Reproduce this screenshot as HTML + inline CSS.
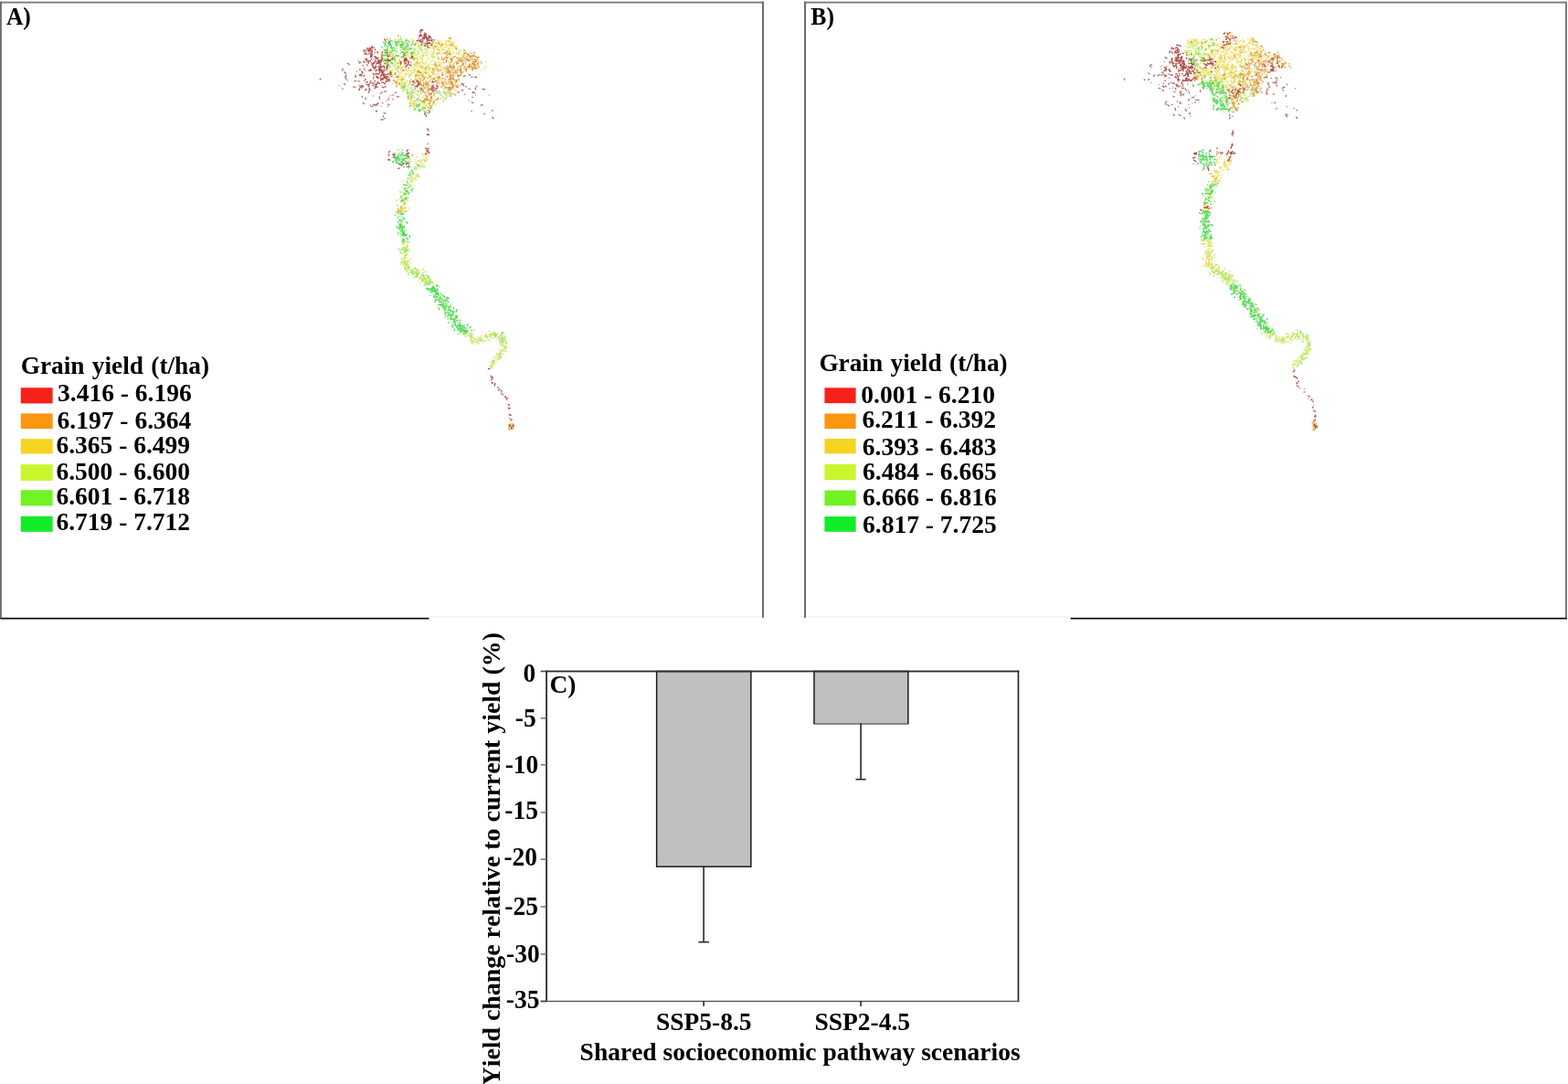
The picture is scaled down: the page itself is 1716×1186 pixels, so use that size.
<!DOCTYPE html>
<html lang="en">
<head>
<meta charset="utf-8">
<title>Grain yield maps and yield change under SSP scenarios</title>
<style>
html,body{margin:0;padding:0;background:#fff;}
body{width:1716px;height:1186px;overflow:hidden;position:relative;}
svg{display:block;position:absolute;left:0;top:0;}
text{font-family:'Liberation Serif', 'Times New Roman', serif;font-weight:bold;fill:#000;font-kerning:none;}
</style>
</head>
<body>
<svg width="1716" height="1186" viewBox="0 0 1716 1186">
<rect x="0" y="0" width="1716" height="1186" fill="#ffffff"/>
<defs><filter id="sf" x="-5%" y="-5%" width="110%" height="110%"><feGaussianBlur stdDeviation="0.5"/></filter></defs>
<g filter="url(#sf)" fill="none" stroke-linecap="round" stroke-width="1.4">
<path stroke="#ecd534" stroke-opacity="0.64" d="M476.7 82.4h0M459.9 72.5l-2.2 1.0M457.2 103.4h0M493.7 60.7l1.2 2.1M435.0 43.9h0M461.3 111.6l-1.0 0.0M461.9 116.5l1.2 1.4M510.0 57.7l-0.7 0.7M492.0 54.6h0M472.1 84.9l1.3 0.5M446.8 79.6l0.2 2.4M441.9 71.7l-0.7 0.7M463.1 113.4l0.5 1.3M438.5 95.3l1.1 1.4M439.8 43.5l0.5 0.3M492.9 47.5h0M449.5 110.0l0.6 0.1M440.8 80.9h0M437.6 87.7l0.9 0.4M471.9 82.6l-1.9 1.4M454.9 119.9l-2.4 0.2M429.7 64.3l-0.3 1.8M492.5 61.2l-1.6 0.8M444.8 62.0l-1.7 0.6M472.7 80.3l2.2 1.0M465.0 56.5l1.4 1.9M473.4 77.6l0.4 0.4M451.9 116.7l1.8 1.6M456.1 112.5l-0.5 0.4M474.7 58.6l-2.4 0.4M461.1 85.8l-2.3 0.8M430.8 61.9l1.1 0.9M494.7 53.8l0.9 0.4M501.0 71.1l0.1 0.6M486.9 78.1l-0.1 1.0M477.4 85.7l-1.4 1.2M502.7 87.5l-0.8 0.6M429.7 78.4l-1.2 0.7M450.8 113.9l-1.4 0.1M466.6 67.3l0.1 1.4M440.9 83.1l-1.2 2.1M451.6 65.9l0.5 0.4M438.0 58.2l0.6 0.2M488.4 59.5l-0.5 0.3M469.9 70.0l-0.2 0.6M418.7 61.1h0M475.5 57.5h0M514.3 56.3h0M467.3 99.2h0M457.8 101.3h0M428.3 61.2h0M486.2 64.0l-0.5 1.3M460.3 79.6l0.3 0.9M435.5 61.0l-1.0 0.3M509.7 63.4l-1.4 0.0M469.2 75.6l0.9 2.2M437.0 90.7l-0.7 1.2M459.7 82.2l-0.1 1.8M490.2 61.6h0M482.3 58.5l0.9 1.1M499.4 50.7l1.2 2.1M449.9 98.4l-0.6 2.3M468.1 76.9h0M481.8 91.1h0M460.4 79.4l0.3 0.5M489.3 48.8l-2.4 0.2M465.0 118.9l1.1 0.9M485.0 89.4l-0.3 0.9M485.6 109.8h0M443.1 81.0l1.5 1.0M457.9 69.0h0M496.5 68.4l0.1 1.0M454.0 115.6l-0.9 0.4M453.6 110.9h0M468.8 75.5l2.4 0.0M466.3 115.1l-1.4 1.9M456.7 85.6l0.0 0.6M472.0 70.9h0M483.3 62.0h0M477.1 74.1l1.4 1.1M469.3 109.0l1.1 2.1M452.5 114.3l0.3 2.4M443.3 84.3h0M474.0 51.5l-0.6 0.8M465.8 75.7l0.4 0.9M496.1 79.1l-1.3 0.6M455.7 75.3h0M436.4 68.4l0.5 0.9M491.8 73.0h0M469.0 112.7l-1.6 1.8M459.5 83.1l2.3 0.8M474.8 61.5h0M517.7 66.7l-0.9 0.3M444.0 76.5l1.1 0.9M496.6 57.1h0M475.2 108.4l1.0 1.5M435.1 91.2l-0.4 0.4M488.1 47.3l0.5 1.3M474.2 56.7l0.6 0.8M501.8 62.9l-1.4 1.2M429.2 76.8l0.6 0.2M483.7 56.5l-0.0 0.6M475.9 46.2l2.2 0.9M497.4 96.9l-0.3 1.8M465.7 108.0l0.5 0.4M494.3 73.7l-1.0 0.1M479.6 73.3h0M468.2 62.7h0M491.6 45.1l1.5 1.9M484.3 52.1l-0.9 0.4M488.4 58.7l1.0 0.9M452.3 61.7l-0.7 0.7M490.7 47.3h0M430.8 81.0h0M453.8 63.3h0M491.7 68.6l-1.0 0.3M427.8 77.6l-1.4 0.3M470.2 74.2l-0.5 0.3M454.7 109.4l-0.5 0.9M491.5 48.2h0M447.0 80.9h0M479.6 53.4l0.2 1.4M439.8 83.6l-2.0 1.4M468.8 88.4l-0.6 0.0M468.6 75.0l1.0 0.2M457.8 104.7l1.6 0.9M453.1 76.2l-0.1 1.8M424.4 55.9l0.0 0.6M488.2 56.5l2.4 0.1M427.2 52.7l0.9 0.4M435.0 91.3l-1.7 0.6M468.0 71.2h0M481.7 58.4h0M451.5 109.4h0M449.4 112.9l1.0 1.0M493.7 83.0l-1.0 0.9M506.6 67.0l-0.0 0.6M433.7 62.5h0M439.8 78.5l-1.4 2.0M506.1 62.1l1.4 2.0M495.9 50.3l-1.0 1.0M507.6 70.0l-0.5 2.3M461.2 43.9h0M432.6 59.2h0M480.1 67.9l-1.0 1.0M449.1 80.6h0M452.9 71.9h0M456.7 115.9l1.6 0.9M464.2 117.6l-0.6 0.1M456.6 63.0l-2.1 1.1M456.5 63.3l-0.1 1.4M448.9 81.7l-0.5 0.3M449.7 86.7l0.6 1.2M445.2 57.4l-0.6 0.2M492.0 48.6l-2.0 1.3M437.6 90.7l-0.4 2.4M453.2 57.6l0.3 1.0M462.7 69.0l-0.5 0.3M500.0 100.4h0M457.5 56.9l1.2 2.1M488.8 97.0l0.9 0.5M458.4 79.3l-1.0 0.1M427.2 81.8l-0.6 0.1M463.6 50.5l0.8 0.6M487.3 81.5l-0.0 0.6M463.2 115.9l-0.5 0.8M503.7 65.4l-0.4 0.4M484.5 91.8l1.6 0.8M441.6 48.4h0M454.7 115.1l-1.1 1.4M473.1 74.9l0.0 2.4M476.3 62.3h0M450.8 79.5l0.6 0.0M486.4 76.9l-0.3 1.0M460.0 111.0l1.5 1.0M491.1 53.6l-0.9 0.4M487.1 58.0l0.8 1.6M505.5 63.9h0M452.5 105.7h0M493.7 66.0l2.0 1.3M456.3 110.8h0M484.8 58.6l1.8 0.1M463.5 111.0h0M459.4 70.4l-2.4 0.2M431.0 87.1l0.3 0.5M479.6 62.0l-0.6 0.0M519.9 72.8l-1.3 1.2M497.4 50.1l0.8 1.2M467.7 55.1l0.4 0.9M465.8 92.2l1.8 0.2M465.3 69.7l-1.8 0.2M487.7 90.3l0.9 0.4M489.5 66.0h0M488.3 44.0h0M495.2 90.2l0.1 0.6M437.1 74.2l1.4 1.1M475.8 84.4l-0.4 2.4M464.7 110.9l-0.3 2.4M517.5 63.9l0.2 0.6M499.1 94.1l0.4 0.9M518.9 69.0l-0.7 0.7M451.8 76.6l-0.6 0.8M457.3 91.6l1.0 1.0M424.8 68.2h0M417.5 62.3l-0.2 0.6M468.1 117.3l1.9 1.4M472.9 78.7h0M477.8 51.5l-0.5 2.3M464.1 81.4h0M445.6 78.0l0.3 1.4M465.4 119.2h0M486.9 93.0l-0.8 0.6M489.4 58.8l0.4 0.4M442.8 97.4l0.9 0.4M440.3 91.1l-0.4 1.8M433.5 70.5l0.5 0.2M497.3 46.2l-1.7 0.4M451.3 43.5l-0.5 2.3M482.8 57.4h0M513.1 72.5l-1.2 2.1M474.6 53.9h0M451.3 111.6l1.4 0.1M494.4 63.7l2.3 0.5M462.6 75.3l0.6 0.1M475.9 70.7l0.4 0.4M504.9 55.7l-1.7 0.5M493.7 83.3l1.8 0.4M512.1 68.6h0M445.9 90.3l0.2 0.6M429.8 82.6l0.1 0.6M436.3 43.5l0.2 1.8M491.4 55.8l-0.1 0.6M466.2 77.1l0.2 0.6M480.7 68.2l1.4 1.1M507.8 58.0h0M463.0 47.5h0M470.8 75.0l0.2 1.0M480.1 86.7l-0.9 2.2M450.2 91.8l-0.1 1.8M461.4 74.4l0.3 0.5M457.4 101.7l-0.1 1.0M457.0 79.8l-1.7 0.5M452.3 116.2l-0.4 0.4M459.7 116.7l0.4 0.5M424.4 55.5l0.1 0.6M479.4 62.4l-0.9 2.2M428.9 57.0h0M493.9 97.4h0M454.3 87.5l-0.3 0.5M491.5 67.1l-0.5 0.3M430.5 60.4h0M435.3 82.0l0.7 2.3M461.1 75.0l-1.1 0.9M511.3 58.8l-1.3 0.4M458.4 62.6l0.6 0.0M451.2 69.6h0M497.9 59.0h0M417.3 63.8l1.8 0.1M420.8 45.1l0.4 0.4M451.1 81.7l-0.4 0.4M466.3 107.5l-1.3 2.0M470.4 48.9l0.6 0.2M475.2 46.4l-1.0 0.1M500.1 74.3h0M438.4 76.4l0.7 0.7M461.1 89.2l-1.0 1.5M438.3 88.4h0M505.9 60.3h0M449.6 77.0l-0.5 0.9M469.8 51.7l1.6 0.8M476.3 76.6l-1.4 1.2M455.9 107.9h0M466.5 77.3l-0.6 0.8M478.0 53.0l1.0 0.9M481.2 68.9h0M450.5 86.1h0M441.1 59.2h0M436.6 82.5h0M490.9 41.6l0.8 0.6M491.0 63.3l-1.3 0.6M456.3 66.6l0.2 1.8M444.4 75.6l-0.3 0.5M464.3 94.3h0M478.0 71.6l-1.3 1.2M480.2 66.7h0M472.7 70.8h0M457.1 69.3l-0.8 1.1M488.2 93.6l-0.4 0.5M455.1 83.4l-0.7 1.2M419.7 57.1l-0.6 1.3M457.2 103.5h0M438.6 76.1h0M459.9 108.8l-1.0 1.5M478.6 84.3l-2.2 0.9M433.9 90.2l1.2 0.7M478.6 78.2l0.4 0.4M500.8 66.5l-2.2 1.0M468.4 110.3l-2.4 0.2M476.6 84.4l0.6 0.2M490.9 54.4h0M493.7 91.9l1.6 0.7M467.6 78.8l0.7 0.7M442.4 90.6l-0.1 1.0M468.5 88.3l-0.5 2.4M449.1 98.5h0M465.4 77.7l0.5 2.3M437.3 65.3l-0.6 2.3M500.8 57.1l0.9 0.3M460.5 111.4l0.5 0.4M474.0 62.8h0M461.0 111.6h0M415.7 57.6l0.3 0.5M485.9 48.2l-1.0 0.0M480.0 63.9h0M492.6 69.3l-0.2 1.0M495.4 81.3l-1.0 0.2M468.2 75.7l-0.8 1.1M459.7 70.3l-0.7 1.2M432.0 43.0l2.0 1.4M466.1 88.8l-1.2 1.3M450.1 80.3l-0.5 1.7M417.1 62.6h0M488.9 45.1l-1.5 1.1M438.6 84.6l-0.0 1.0M450.6 82.8l-0.6 0.0M424.3 52.5l-0.2 1.0M435.1 78.3h0M438.6 71.6l0.9 0.3M442.2 86.3l1.7 0.6M492.5 44.8l1.7 0.5M459.3 95.8h0M467.1 115.8h0M440.6 84.8l-1.4 0.4M481.7 81.6h0M486.5 44.4h0M476.6 89.8h0M459.4 51.9l-0.7 2.3M480.8 55.3l0.4 1.8M428.9 81.1l-0.6 0.1M490.3 75.3l0.7 0.7M503.2 73.4l0.7 2.3M428.5 55.4l-2.2 0.9M505.4 59.5l-1.7 0.6M488.2 50.3h0M435.7 87.5l0.0 0.6M451.6 79.5l-1.6 0.9M462.3 64.1h0M487.5 57.7h0M453.3 70.7l-0.2 2.4M511.1 60.3l-0.2 2.4M455.1 72.4l2.3 0.8M454.3 84.6h0M459.9 50.9l-1.6 0.8M459.3 78.1l1.8 0.3M470.4 107.4l0.7 1.2M493.7 58.3l0.7 1.2M440.5 95.1l1.8 0.4M472.0 78.5l0.2 1.0M481.3 106.5h0M441.2 73.3l-1.1 2.1M453.4 67.0h0M441.0 75.6l0.2 1.4M463.0 106.4l-1.3 0.6M502.4 56.3l-0.1 0.6M463.6 83.7l0.5 0.3M431.8 68.6l1.4 0.2M469.5 73.4l1.2 0.7M500.7 53.4l0.3 0.5M458.9 78.7l0.6 0.1M420.9 66.0l0.2 1.0M436.1 74.7h0M459.3 113.2l-2.1 1.1M463.4 106.3l-0.6 0.2M436.1 87.5h0M427.7 57.6l0.4 1.3M438.0 44.1l-0.1 0.6M448.2 50.9h0M469.8 80.9l-0.5 1.7M488.9 79.3l1.6 0.7M472.7 114.8l-0.1 1.4M478.5 107.6h0M423.1 69.6l-1.7 0.6M437.2 74.1l2.4 0.3M440.0 89.4l-0.5 0.9M505.5 67.2l-0.5 0.2M465.1 71.4h0M476.4 76.8l-1.4 0.1M425.2 66.8l-2.4 0.3M455.3 72.0l0.2 1.4M504.3 72.0l0.3 1.0M422.2 57.0h0M502.6 58.8l-0.8 1.1M467.4 48.8l1.0 1.5M491.0 61.6h0M427.1 68.5h0M466.0 82.8h0M477.3 73.1l-0.3 0.5M442.8 94.5h0M449.8 114.0l0.7 0.7M464.7 77.3l0.0 1.0M518.9 73.5l0.4 2.4M489.2 62.3h0M435.1 70.8l0.3 0.5M453.1 64.2l0.6 0.2M472.8 109.1l-2.1 1.1M478.8 58.7l-1.2 2.1M436.7 79.6l0.5 0.9M477.1 72.5h0M456.2 77.9l1.5 1.0M467.5 71.5l0.9 0.5M424.8 58.2h0M440.2 74.6l-1.4 0.3M442.9 90.2l0.6 0.8M468.1 101.6l0.1 1.0M516.9 70.0l-0.9 0.3M452.2 60.8h0M463.2 77.5l1.3 2.0M476.0 74.4l-1.2 1.4M484.3 68.9l-0.5 1.7M462.9 109.7l0.8 1.1M523.1 69.6h0M461.7 96.1h0M443.0 84.1l-1.5 1.0M491.7 60.7h0M479.8 80.6l-1.1 0.9M449.6 109.7l1.2 0.7M463.1 73.3l-2.1 1.2M437.8 73.7l2.2 0.9M454.1 112.9h0M452.1 68.9h0M458.5 110.2h0M421.2 55.2l0.1 1.4M463.6 86.1l0.1 0.6M487.4 77.6h0M493.8 77.4l-1.0 0.2M472.8 95.7h0M482.9 46.4l1.8 1.6M420.5 58.3h0M440.0 87.7l-0.7 1.2M449.3 111.7l-0.6 1.7M477.7 73.8l0.6 0.1M469.2 47.7l-0.5 0.3M490.6 56.9l2.2 0.9M443.3 71.9l-2.2 1.0M457.4 50.2l1.1 1.5M425.0 70.2l-0.9 0.5M470.4 117.8l0.0 1.8M454.3 86.4l-0.6 0.8M500.4 77.3h0M500.8 77.4l-0.2 2.4M473.4 85.3l1.9 1.5M476.1 69.5h0M496.2 49.2l-1.4 0.2M452.6 113.1l0.9 2.2M479.3 84.5h0M471.1 115.2l-0.1 1.0M473.5 75.8l-0.9 0.5M483.1 44.9l-0.6 1.7M445.8 75.2h0M488.3 51.2l2.0 1.3M468.5 85.1l0.6 1.3M457.8 65.0h0M461.6 71.6l1.8 0.1M483.2 48.7l2.4 0.2M472.3 100.4h0M500.9 65.0h0M442.5 96.1l1.0 2.2M463.9 81.9h0M442.3 72.5l0.6 0.1M440.8 52.7l-0.2 1.0M423.7 64.2h0M488.3 57.6l1.0 0.2M492.6 54.1l-0.5 1.3M444.5 89.0l-0.6 0.1M435.7 68.5l-1.7 0.6M455.5 81.1l0.4 2.4M439.5 75.9l1.8 0.2M458.3 99.2l-0.9 1.6M444.1 56.1l0.1 1.0M428.1 76.2l-1.4 1.9M479.0 66.8h0M452.1 110.4l1.4 1.2M482.3 49.6l-0.6 0.2M476.1 78.3h0M457.2 82.7l1.0 1.0M448.4 52.5l-1.0 1.5M492.6 52.6l-0.6 0.1M480.2 78.1h0M459.6 83.0h0M418.6 56.3h0M448.3 110.2h0M467.3 67.9l-1.2 1.3M435.0 86.3h0M493.4 42.6l-0.5 0.9M435.1 75.4l0.7 1.2M446.1 75.6l1.4 0.0M477.4 109.8l0.7 0.7M452.4 64.4h0M462.8 80.0l0.5 0.9M440.2 94.6h0M518.9 59.6l0.6 2.3M434.7 93.8l-0.5 0.9M452.2 92.3h0M452.9 112.9l-0.4 0.4M454.7 78.0l-1.8 1.6M457.8 80.1l-0.6 0.2M459.8 91.8l0.1 1.0M507.1 56.6l0.7 1.7M438.3 87.1l2.2 1.0M494.6 67.0h0M517.1 70.8l1.7 0.5M429.4 60.6l-0.0 2.4M450.6 113.0l0.8 0.6M463.1 82.5l-1.0 0.3M505.4 79.6l0.4 0.5M450.5 105.1l0.7 0.7M441.7 92.3l0.8 0.5M479.5 71.4l0.1 1.4M472.3 60.3h0M486.5 51.3l0.5 1.3M458.6 81.6h0M478.4 50.1l-2.3 0.5M450.4 112.9h0M487.9 56.5l-0.9 1.1M473.6 98.3h0M461.3 66.9l1.8 0.3M493.4 88.1h0M483.7 50.9l-1.8 0.1M496.0 49.4l0.2 2.4M448.6 91.1l0.1 0.6M454.2 69.9l0.4 1.3M501.9 85.7l-2.1 1.1M442.5 91.4l-0.5 0.2M476.4 47.2h0M469.2 84.1l0.3 0.5M450.6 83.0h0M451.8 62.4l2.3 0.5M471.2 57.0h0M486.7 83.9l0.4 0.4M448.5 70.2h0M444.9 81.1h0M445.1 88.0l0.5 1.3M457.9 119.5l0.8 2.3M462.2 63.6l-1.3 0.6M473.3 98.2l0.8 0.6M466.3 112.4l-1.0 0.2M443.6 80.8l0.1 1.4M442.8 66.2l0.6 0.1M482.8 93.1l1.4 0.2M498.6 98.6l1.2 2.1M452.5 75.1l0.3 0.5M478.5 82.2h0M424.8 83.8l-1.4 0.3M449.0 87.2l-0.6 0.8M467.1 111.6h0M493.4 57.0h0M460.3 120.0h0M501.2 72.8l0.6 0.8M433.8 88.5l1.2 2.1M454.7 112.1l0.5 0.9M457.3 69.8l0.2 0.5M472.5 48.1l-1.1 0.8M445.7 70.1l1.3 0.5M460.5 90.0l-0.6 1.3M475.0 72.7l1.4 0.2M421.2 63.7l-1.5 1.9M521.8 65.2l1.8 0.1M467.2 79.0l1.8 1.6M429.5 76.1l0.5 1.3M491.7 68.4l0.3 1.0M494.0 64.9l1.3 0.5M448.8 105.3l2.0 1.4M450.4 112.9h0M422.9 71.1h0M509.5 65.0l2.4 0.2M480.2 45.8l0.0 1.4M492.8 104.8l-0.6 0.1M490.7 75.9l1.1 0.9M471.7 74.3l-1.0 0.3M461.8 46.8h0M457.1 86.5h0M503.0 54.9h0M458.5 87.0l-2.2 1.0M465.3 96.7l-1.9 1.5M493.1 50.3l-0.3 0.5M458.3 59.8h0M480.2 52.5l0.1 0.6M506.6 61.1l1.8 0.1M489.8 54.4l1.5 1.0M496.5 71.3l-0.5 0.9M467.6 168.3l0.9 1.5M466.0 168.8l0.5 0.3M465.1 168.6l1.2 2.1M463.1 173.7l-1.1 0.8M459.3 175.6l0.4 1.8M463.1 174.6h0M461.8 175.7l0.3 1.8M467.3 175.1h0M459.4 174.6h0M455.6 184.9l-0.6 0.1M457.5 184.2h0M460.6 183.9l-0.6 0.1M459.9 192.8l-1.0 1.0M454.3 194.2h0M454.9 192.7l1.3 0.4M450.3 193.6l1.0 0.3M454.2 196.0l1.7 0.6M455.1 195.1l-1.8 1.6M448.5 198.4l-0.2 0.6M442.1 198.0l-0.2 0.5M453.9 204.0h0M448.2 196.2l0.5 0.3M440.2 198.8h0M452.0 196.4l-2.4 0.2M452.2 197.2h0M453.0 201.7l-0.5 0.4M449.9 193.7l-1.0 0.3M450.2 203.0l-0.8 1.6M446.4 197.6h0M445.8 218.6l0.4 2.4M441.9 223.9h0M442.8 223.5l-0.9 0.5M441.7 212.6l-0.2 1.8M442.9 221.7l0.9 1.6M439.6 212.7l1.5 1.0M442.7 222.2l0.1 1.4M441.3 222.7l-0.4 1.3M438.3 228.1l0.2 2.4M441.5 230.6l-2.4 0.3M441.9 228.0h0M438.9 226.6l0.4 0.4M444.1 227.3l-1.6 1.8M438.2 230.1l-0.6 1.7M440.3 230.8l-2.2 1.1M440.6 227.9l-0.7 1.2M439.4 227.1l1.8 1.6M439.1 225.9l0.2 1.0M440.1 229.6h0M435.7 229.8l0.1 2.4M439.7 225.5h0M438.4 226.1l1.5 1.9M436.1 230.4h0M440.4 229.5l0.5 0.4M446.9 226.8l0.3 1.4M443.7 269.6l1.1 2.1M441.8 270.0h0M440.2 263.6l-0.3 1.4M442.5 267.5h0M446.3 271.9h0M446.2 267.6l0.1 2.4M445.6 267.6l0.6 2.3M441.5 271.0h0M438.1 282.8h0M445.3 276.4h0M443.0 278.1l1.0 1.5M439.5 280.2h0M441.7 273.8h0M445.7 272.8l-1.5 1.9M442.5 281.9l-0.4 0.9M442.8 284.0l-0.6 1.3M442.9 277.2h0M442.3 286.2h0M442.2 289.2l-1.0 0.9M442.3 289.5l-1.3 0.6M449.8 284.0l-1.0 0.0M444.0 292.5l-1.4 2.0M448.0 285.0h0M444.3 288.6l-0.6 0.0M447.0 291.7l-0.4 0.5M450.1 287.7l-1.8 0.0M447.8 290.6l-0.4 2.4M449.5 296.6h0M447.0 292.9l-1.3 1.3M449.4 294.7h0M445.6 291.8l1.0 1.5M455.1 295.8l-0.6 0.8M464.0 304.1l0.6 1.3M459.1 305.0l0.9 0.4M456.6 301.4l-0.1 2.4M462.5 306.5l2.0 1.4M463.7 303.4l-0.6 1.3M467.3 303.2h0M464.3 297.1l2.3 0.5M459.5 304.5l1.3 0.5M460.7 302.5l0.6 0.1M467.3 299.9h0M455.2 299.9l1.1 0.9M466.9 308.8l-0.3 0.9M474.1 309.4l-0.4 0.9M469.1 310.5h0M469.6 308.8l-0.9 0.5M467.3 312.0h0M475.4 311.6h0M467.0 307.7l-0.9 2.2M465.5 310.5h0M513.3 366.8l1.0 0.2M514.5 365.8h0M509.5 364.4l-0.3 0.5M515.3 372.5h0M518.0 370.7h0M516.1 368.0h0M520.0 374.0h0M517.5 369.6h0M517.4 375.4l0.8 1.6M517.5 369.6l0.6 0.2M530.0 372.7l-1.3 0.4M523.1 369.2h0M523.2 368.0h0M524.5 370.0h0M529.6 367.0l1.3 1.2M522.5 375.4l0.9 1.0M533.8 371.5l1.9 1.4M541.5 366.9l0.5 0.4M536.3 365.7h0M531.6 366.2l0.1 1.8M537.6 366.3h0M532.7 367.3l0.2 1.8M538.2 367.6h0M532.2 364.6l-0.0 2.4M546.6 370.3l0.6 0.1M548.2 367.1l-2.0 1.4M549.5 364.9l0.6 1.3M542.3 365.9l1.4 0.2M541.7 365.3h0M549.7 373.1l1.5 1.8M554.0 372.5l-0.2 1.8M553.2 376.6h0M552.8 372.0l-1.3 1.3M548.3 371.2l0.1 1.8M550.0 371.9l-1.1 0.8M548.1 386.6l-0.2 0.6M548.0 384.4l-0.1 0.6M557.2 380.3h0M553.5 378.4h0M553.5 384.2l-2.3 0.7M546.6 383.0h0M544.6 390.8l-0.1 1.0M542.8 394.4l-0.6 0.2M542.7 390.0h0M539.5 400.9h0M538.7 400.7h0M540.4 394.4l0.4 1.3M538.4 398.6l-0.8 1.2M536.5 395.8l1.3 0.4M536.9 400.3h0M538.5 400.8l0.2 1.8M450.0 176.5l0.5 0.9M447.4 173.1l2.0 1.3M446.2 179.6h0M447.0 174.8l0.1 1.0M454.8 174.6h0M452.2 174.8h0M455.1 178.3l-0.1 1.0M444.5 177.7l-0.5 1.7M455.0 176.2l0.8 1.6M456.2 170.4l-0.7 1.7M451.7 171.3l0.6 0.1M448.0 176.5l2.4 0.1M559.6 465.8l2.3 0.5M558.9 462.3l-0.0 1.4M560.2 464.3h0M560.5 464.4h0M559.2 463.9l0.6 0.1M559.2 463.5l-1.5 1.9M558.2 464.2l-0.9 0.4M560.7 467.5h0"/>
<path stroke="#e39a2c" stroke-opacity="0.68" d="M480.0 93.3h0M471.6 116.0h0M488.5 78.6l2.4 0.0M491.7 91.9h0M462.5 98.7l0.1 0.6M480.2 57.7l0.1 1.0M505.3 71.3h0M426.4 60.2l-0.6 1.7M493.1 49.7l-0.6 0.2M495.8 83.3h0M483.6 63.7l2.2 1.0M468.8 99.6l-0.3 1.0M455.1 86.3l-0.0 1.4M468.2 90.8l0.8 2.3M458.7 109.4l1.3 0.5M516.5 73.2l-0.4 0.4M520.0 61.4l0.1 0.6M488.6 95.1l1.7 0.5M467.9 107.4l-0.1 1.4M494.1 65.1l0.1 1.0M478.9 85.4l1.4 0.0M491.1 87.9h0M479.0 71.4l-1.4 1.1M485.2 54.3l0.6 0.1M486.4 64.7l-2.3 0.8M451.0 100.4l0.1 1.0M453.4 101.5l-0.6 0.1M479.1 93.1h0M471.7 87.2l-0.2 0.6M505.4 79.5h0M469.3 101.5l0.4 1.3M466.8 95.0h0M470.1 93.2h0M467.7 106.8h0M517.1 75.0l-2.3 0.6M488.9 101.3l-2.0 1.3M452.1 98.4l-0.5 0.9M427.7 80.9h0M503.5 73.0l0.8 0.6M468.2 93.1h0M466.2 87.6h0M518.4 67.8l-1.4 0.1M449.5 48.9l1.0 0.9M432.8 91.0h0M482.6 65.0h0M503.2 72.4h0M425.9 82.5l0.6 0.8M468.4 47.4h0M502.0 66.8l0.5 0.4M493.2 87.4h0M456.5 91.7h0M454.5 109.8h0M490.3 83.5l-0.3 1.0M485.6 64.6l-0.3 0.9M481.6 48.7l1.7 0.5M502.0 58.0h0M431.8 81.5l1.3 0.5M516.3 71.4l0.3 1.0M480.7 46.0l-0.4 2.4M492.4 58.3l-1.5 1.0M497.5 73.9h0M508.3 74.9l0.3 0.5M495.3 85.4l0.5 0.9M498.6 88.8h0M464.6 109.6l0.2 1.4M446.0 102.5l-0.1 0.6M518.0 67.6l-1.3 1.3M449.2 62.3l-0.5 2.3M491.8 105.6h0M501.6 83.9h0M438.6 70.3l-0.6 0.1M492.8 85.2h0M501.0 77.0l-0.2 0.6M469.1 98.6l0.7 0.8M480.1 86.9l0.5 0.4M506.9 65.7l0.5 0.3M495.1 73.3l0.1 0.6M505.3 64.4l-1.0 0.1M428.0 81.6h0M476.1 69.6l1.3 0.6M513.9 69.9l-0.7 0.7M474.1 98.9h0M504.6 71.8l0.1 1.4M484.4 91.6l0.6 0.2M522.9 74.5h0M518.9 65.0l0.5 0.3M487.5 74.0h0M491.0 89.1l0.2 2.4M429.8 83.4h0M434.3 92.6l-0.3 2.4M484.6 94.2l-2.0 1.3M495.9 87.0l0.5 0.4M460.4 88.4l-0.0 1.0M484.2 85.4l1.1 0.9M492.2 98.3l-0.2 0.5M486.6 68.8h0M503.9 81.8h0M449.3 108.2h0M488.7 104.5l0.2 1.4M475.5 81.0h0M463.6 91.7l0.3 0.5M495.5 96.6h0M507.8 74.0l-0.4 0.4M493.6 85.6l-1.4 0.4M472.8 115.6l0.6 0.0M436.7 91.2l0.8 1.6M498.7 93.1l2.4 0.1M517.6 62.5h0M426.3 80.8h0M435.1 73.0l0.3 1.8M460.4 87.1l0.6 0.0M442.3 94.7l0.7 0.7M472.2 49.3h0M507.6 78.6l-1.0 0.1M460.3 73.0l1.8 0.2M513.2 64.5l0.5 0.4M482.1 73.3h0M483.4 62.9l0.3 1.0M489.3 71.9l-0.2 2.4M496.0 94.1l0.6 1.7M434.3 89.2l0.4 0.4M462.9 100.3h0M484.7 89.8l1.2 0.8M494.3 74.1h0M495.6 81.2l1.0 1.0M496.7 70.3l-1.0 0.2M437.0 66.1l0.8 1.2M497.5 93.3l-1.4 0.2M514.2 65.0l-0.3 1.0M514.0 72.7l0.9 0.5M499.3 58.5h0M501.5 82.1l0.5 1.3M506.8 62.2l0.6 0.1M501.0 66.7l-1.9 1.5M495.0 78.4h0M464.7 121.5h0M463.8 60.9l-0.3 0.5M488.8 107.6l-1.3 0.4M471.7 97.0l-0.3 0.5M522.0 70.9l-1.3 0.4M436.0 38.4l0.2 1.4M493.7 100.7h0M468.6 103.6h0M494.0 68.3l-1.0 0.2M500.1 68.6l-0.6 2.3M523.1 71.9l1.3 2.0M503.3 78.2l1.4 1.1M455.6 82.0l2.3 0.7M454.4 118.1h0M510.7 75.5l-0.3 1.4M493.8 63.5l-1.1 0.9M457.1 91.7h0M498.7 76.5l-0.2 0.6M499.9 89.6l-1.9 1.4M466.7 90.3l-1.5 1.9M426.5 65.2l-2.1 1.1M495.3 92.4h0M468.6 103.1l2.0 1.4M495.9 79.0l-0.5 0.4M461.1 80.1h0M465.1 95.9l-1.3 1.2M480.8 54.4l-0.7 0.7M477.2 47.9l0.6 0.0M480.7 89.7l-0.1 1.8M514.0 70.4l-1.1 2.1M485.2 93.2l-0.6 1.2M505.1 66.9h0M497.7 87.3l2.3 0.8M520.3 70.7l-1.0 2.2M507.4 59.9l0.4 0.4M479.0 88.9h0M467.4 117.8h0M494.9 103.1l1.0 0.0M487.3 73.5l-0.5 2.3M518.7 59.8l-0.9 0.5M488.7 80.5l-0.9 0.5M487.7 86.0l-1.0 1.5M468.5 105.9h0M463.4 90.1h0M458.6 69.3h0M523.2 67.1l0.5 0.9M500.8 74.8l-0.3 1.4M491.2 72.8h0M488.0 66.7h0M490.4 87.7h0M486.7 87.5l0.7 1.7M422.5 70.1l1.4 0.3M485.7 74.3h0M504.0 76.1l0.2 1.0M495.2 71.6l0.1 1.0M466.9 92.3h0M469.7 120.1l-1.7 0.6M496.2 102.2h0M444.1 53.1h0M466.5 106.9h0M520.9 74.4l0.0 1.0M514.8 70.2l-0.6 0.2M429.1 63.2l2.3 0.5M515.0 70.6h0M509.2 70.2h0M511.7 72.0l-0.9 0.5M464.1 86.0l-1.0 2.2M475.0 112.2l-0.5 0.4M500.7 62.8l-1.6 0.8M484.0 90.7l0.6 0.0M469.5 83.1h0M466.3 53.8l-0.1 0.6M492.1 89.8h0M472.6 106.9l0.6 0.2M512.1 80.2h0M479.3 50.9h0M436.7 60.8l-0.0 0.6M458.8 85.3l1.4 0.4M516.9 64.2l-0.3 1.8M489.1 91.6l-0.8 0.6M503.0 82.7l-0.7 0.7M478.7 108.3l-1.6 0.9M463.0 85.3l1.1 0.9M505.2 62.8l-0.6 0.8M468.6 94.5h0M524.2 69.9l-1.8 0.2M466.7 109.0l1.7 0.4M476.4 51.6h0M495.5 82.4h0M493.2 88.8l2.3 0.6M474.3 52.4l0.9 1.6M513.6 60.4l1.1 0.9M498.6 79.0l1.8 0.4M500.5 81.6l0.1 1.8M479.1 75.6l-1.5 0.9M499.5 80.9h0M487.9 89.9l0.1 1.0M470.1 88.5l-0.2 1.0M471.2 102.3l1.6 0.8M518.2 69.5l0.3 1.8M515.4 61.3h0M497.7 72.7l-2.0 1.3M448.7 82.9h0M423.5 57.6l2.4 0.2M492.6 89.2l2.4 0.3M469.3 117.5l1.9 1.5M496.1 85.1h0M482.9 85.2h0M507.7 62.4l-0.1 0.6M475.8 67.9l0.6 2.3M467.3 115.9h0M513.1 58.5h0M488.0 57.8l-2.4 0.2M425.0 78.9l-0.6 0.0M511.1 64.2l-1.2 1.4M461.2 92.9h0M472.1 105.3h0M513.5 74.5h0M504.4 81.0h0M484.6 73.8h0M448.4 89.0l1.7 0.6M505.9 71.6h0M506.9 68.5l-0.3 1.4M437.2 90.5l-0.9 1.1M474.4 81.5h0M497.2 75.6l-0.4 0.4M498.8 94.4l1.3 0.6M495.8 80.4l0.0 1.4M480.7 70.6h0M511.3 61.9l0.6 0.8M473.1 110.7l-2.4 0.0M454.4 91.4h0M423.5 68.8l0.9 0.4M496.7 85.6l-1.0 0.1M509.9 63.5l-1.4 0.3M495.4 86.3h0M466.0 94.7l0.8 1.2M467.9 109.1h0M468.1 97.7l-0.2 1.0M499.3 87.9l-0.1 2.4M470.8 103.1h0M514.1 65.3h0M460.5 102.4h0M503.0 63.0l-2.3 0.8M492.3 78.6l0.8 0.6M461.1 110.9l2.2 1.0M508.2 72.6h0M502.9 65.7l0.4 1.3M506.3 65.6l0.3 0.5M467.0 99.3h0M522.9 69.4l-0.9 0.3M472.2 49.5l-1.3 0.4M496.3 92.4l-1.8 0.4M464.6 107.8l0.1 1.0M516.5 61.3l-0.9 1.1M478.9 47.4l2.2 1.1M444.8 80.7h0M494.2 75.7l-1.0 1.0M510.5 73.0l0.3 0.5M523.0 68.8l-1.7 0.5M491.1 77.6l-0.2 0.6M471.4 116.1l0.6 2.3M493.6 83.0l1.7 0.4M506.1 82.0h0M496.8 83.5l-1.0 0.2M474.4 78.4l-0.6 1.7M480.6 71.4l1.4 0.3M490.2 44.6l0.8 0.5M427.0 88.5h0M498.4 81.5h0M482.7 86.8l0.5 1.3M497.9 89.4l0.7 0.7M494.0 102.3l-0.8 0.6M471.3 103.0l-1.6 0.8M532.2 72.4h0M529.9 74.5l0.3 0.5M531.9 67.4h0M527.1 77.1h0M526.4 67.5l0.6 2.3M524.9 81.4h0M466.1 172.1l0.4 0.5M461.9 168.0l0.2 0.6M465.1 175.1l-0.1 1.8M458.5 175.5l-0.6 0.2M441.7 223.2h0M443.4 222.0l-0.9 0.5M442.9 222.0h0M437.9 231.1l0.6 0.1M438.3 226.4l0.1 1.4M435.4 228.0l0.4 1.7M436.0 231.0l1.8 0.2M440.1 228.1h0M438.2 230.8l-1.2 1.3M439.8 227.7h0M445.4 231.3l-2.4 0.0M435.2 231.0l-1.9 1.5M439.5 225.8l0.6 0.0M435.4 224.3l-0.6 0.8M562.0 469.3l-1.8 0.2M559.4 467.1l2.4 0.5M557.9 465.8l-0.9 1.6M559.1 465.7l-0.0 1.8M558.5 465.1l1.6 0.8M557.6 464.1l-0.2 1.8M560.9 463.3h0M561.1 464.8l-1.1 0.8M557.1 468.1l-0.3 1.0"/>
<path stroke="#c6e84a" stroke-opacity="0.64" d="M433.7 52.5l1.4 1.2M467.3 60.3l0.3 1.4M456.7 117.9h0M459.4 81.6l-0.6 0.8M514.2 64.0l1.9 1.4M457.8 75.3h0M456.1 55.4l1.6 0.9M452.9 66.5h0M453.3 54.3h0M462.0 60.6l0.2 1.0M489.7 89.8h0M425.7 59.1l-0.0 1.8M474.3 47.8l-1.2 1.3M462.0 63.7l-0.2 1.8M463.2 48.2l-1.3 0.6M428.6 70.6h0M466.8 72.9l1.7 0.6M456.6 63.4l0.7 2.3M455.1 48.2h0M469.2 63.4l-0.2 1.0M472.3 67.7l-0.6 0.8M463.0 48.0h0M462.1 58.8l1.6 1.8M426.2 68.0h0M452.5 46.1l-1.0 0.1M424.7 58.1h0M479.0 54.9h0M465.9 53.3l2.1 1.1M460.0 66.5l-0.0 1.8M447.9 112.9l1.0 0.3M459.6 68.2l-0.3 1.8M471.3 85.1h0M489.1 76.3h0M453.8 57.9l0.5 1.3M477.1 73.8l-0.1 1.4M441.9 65.2h0M432.0 66.0h0M440.4 73.0l-1.7 0.6M438.3 81.7h0M431.0 64.5l2.1 1.2M433.3 48.2l0.5 2.3M462.4 69.9h0M449.3 56.9h0M463.8 56.1l-1.1 1.4M468.4 65.3h0M454.9 68.4l-0.3 1.4M428.6 82.8l0.0 0.6M461.3 48.9l-0.0 1.0M482.3 48.8l0.3 2.4M453.7 70.3h0M469.7 58.6h0M494.1 84.2h0M476.3 62.5l-2.3 0.8M456.0 47.2h0M435.5 50.2l-0.4 0.5M464.0 104.7l1.4 1.1M475.0 88.3h0M455.6 67.3l0.6 2.3M449.3 60.5h0M468.5 42.3h0M441.8 62.7h0M462.4 44.8h0M452.6 54.2h0M436.7 86.5l1.6 0.8M453.6 60.0l0.8 0.6M453.0 43.9l0.3 1.4M454.5 58.6h0M434.5 55.4l-0.6 1.7M447.9 64.0l0.8 0.6M451.8 54.1h0M458.4 47.3h0M452.1 63.8h0M460.6 67.2h0M449.9 61.8l0.4 1.3M466.1 56.8l0.6 1.3M478.6 87.5h0M431.5 57.8l-1.7 1.7M472.2 56.3h0M428.1 56.5l0.9 1.1M468.4 57.8h0M475.4 103.4l-0.2 2.4M462.6 79.4l-1.1 1.4M462.7 73.7l1.7 0.5M449.4 89.6l-0.5 0.4M462.8 49.2l0.3 0.9M445.9 61.6l-1.0 1.0M458.6 57.9l-0.1 0.6M427.7 70.5l0.9 0.5M460.2 61.6l0.6 0.1M463.3 100.9l1.5 1.0M469.8 66.6h0M483.2 90.1l0.1 1.0M467.0 70.7h0M473.1 57.8l0.6 0.2M491.8 78.5l-1.0 2.2M459.1 81.4l1.8 0.0M505.5 75.7l-0.8 0.6M493.8 97.5l-0.7 0.7M461.8 49.8h0M518.2 74.4h0M442.6 57.0l-0.1 1.8M438.8 92.5l-0.4 0.5M473.1 118.9l-0.2 1.0M439.8 67.9l-1.2 0.7M499.3 77.4h0M438.5 75.7h0M450.2 71.7l0.2 2.4M473.6 70.4l1.0 0.1M459.6 50.0l-1.8 0.4M457.9 50.8l1.8 0.3M480.7 83.2l0.5 0.2M460.5 61.0h0M447.0 77.3l1.8 0.4M473.6 50.8l1.0 0.1M474.5 75.2h0M456.0 70.7l-1.3 0.4M471.4 65.5l0.7 0.7M483.3 75.6l-1.1 2.1M451.2 51.9l0.7 0.7M456.6 83.1l-2.3 0.8M441.2 62.5h0M464.8 53.0l-0.3 1.0M461.8 49.2h0M429.9 56.8h0M430.1 64.6l1.4 0.2M433.0 61.3l1.0 0.2M491.6 104.5l1.5 1.0M468.6 79.6h0M448.7 91.2l-1.1 2.2M459.7 103.0l0.3 0.5M440.2 56.6l0.2 0.6M461.0 67.2h0M449.9 47.6l0.1 0.6M492.4 102.6l-1.3 0.5M493.1 76.6l0.5 0.2M471.9 62.1h0M480.8 44.0h0M431.5 66.0h0M461.8 56.9h0M419.5 62.6h0M446.8 57.5h0M453.9 65.8h0M447.9 52.2l0.4 0.9M473.9 61.4l-0.6 1.3M451.3 70.3l0.6 0.2M446.0 59.4l0.3 0.5M473.7 59.7l-0.6 0.2M469.4 54.6h0M481.7 72.6h0M453.8 66.0h0M438.5 91.1l2.4 0.3M478.3 57.8l0.2 0.6M444.0 76.0l0.6 0.2M483.2 54.2l-0.2 1.0M466.1 54.1h0M435.8 72.7l-1.2 0.7M448.7 90.6h0M427.1 48.3l-1.3 1.2M493.9 46.2l2.1 1.2M452.8 63.5l2.2 0.9M450.6 58.1l-0.9 1.6M456.9 46.4l0.0 1.8M457.0 59.5l-0.5 0.3M429.1 81.6l0.5 1.3M486.9 58.0h0M453.5 75.4l1.9 1.5M443.8 57.6l-0.6 1.3M427.8 55.5l0.0 1.0M484.5 99.8l2.2 1.0M449.8 64.0l-0.5 0.3M454.8 53.7l-0.5 1.7M455.8 59.8l-0.9 0.5M497.1 72.4l1.3 1.3M456.3 68.4h0M492.6 55.8l0.5 0.8M462.1 74.0l0.9 0.5M447.8 91.2h0M470.6 109.1h0M473.3 60.7l-1.5 0.9M456.1 63.6l-0.9 0.3M488.7 91.6l1.5 0.9M470.3 85.9l1.4 1.2M459.7 62.1l0.0 1.4M448.2 57.2h0M509.5 67.9h0M454.6 59.6h0M466.2 60.0h0M484.0 53.9l-0.6 0.1M472.2 56.0h0M496.6 57.1l-1.2 0.7M432.8 48.4l0.3 0.9M464.4 59.2l-1.9 1.5M460.7 82.2h0M477.2 114.3l-1.4 0.2M445.8 61.4l2.3 0.6M421.6 49.3l-0.7 1.2M419.2 63.4l1.2 2.1M461.3 50.3l-0.7 1.2M478.8 44.0l1.1 1.4M455.2 92.3l0.9 0.4M466.5 94.3l0.4 2.4M521.5 65.0l1.4 0.2M459.2 44.7l-0.9 0.4M472.9 90.0l-0.6 0.2M462.7 68.3l0.2 1.0M440.1 64.5h0M428.1 56.1l0.5 0.4M456.3 61.3l0.6 0.2M437.5 82.8h0M443.3 53.8l-1.1 0.9M458.7 77.5l-2.0 1.3M467.5 93.7l1.7 0.7M446.0 55.6l-0.1 1.0M431.4 72.1l2.1 1.2M458.4 48.3l-0.4 2.4M469.3 72.8l-0.3 1.8M507.3 61.1h0M439.0 62.7l0.2 1.0M424.3 59.4h0M443.8 63.7l1.4 0.2M460.6 52.4l-0.1 0.6M487.8 54.4l1.0 1.0M474.1 54.9l1.1 1.4M450.9 43.5l1.1 0.9M465.8 113.4l-1.2 1.3M445.4 96.6l0.8 2.3M474.2 65.6l-0.6 0.8M446.3 60.8l0.9 0.4M501.2 58.9l-0.9 0.4M472.1 62.7l1.4 0.1M474.5 91.5l0.5 0.4M460.8 56.1l1.4 1.1M446.6 58.8l-1.7 1.7M445.1 49.4h0M463.7 169.8l0.3 1.4M468.7 170.0h0M464.4 167.6l1.0 1.0M465.0 174.7l1.3 2.0M461.6 174.7l0.5 0.9M466.3 173.8l1.1 0.9M460.3 176.9l1.1 1.4M457.8 182.0l-0.0 1.0M455.7 183.7l-0.1 1.0M456.8 182.8l0.6 0.0M459.1 180.6l-1.4 0.3M461.4 181.9l1.7 0.6M456.7 186.6h0M448.2 189.3h0M449.4 190.3l-1.3 2.0M451.6 188.6l0.2 1.0M446.9 191.1l0.6 0.0M455.3 190.7h0M456.0 191.0l1.2 0.7M446.1 208.3l-0.4 1.3M450.8 203.2l-1.8 0.1M443.3 206.1h0M446.4 202.3h0M448.9 202.2h0M445.8 198.2l-0.6 0.0M443.8 204.9l-0.1 0.6M444.9 206.1l-1.7 1.7M444.1 203.2h0M446.7 194.7h0M442.9 217.3l0.6 0.8M444.4 217.0h0M441.0 218.1h0M437.8 218.3l-1.0 0.0M442.3 211.8h0M444.7 210.2l-0.8 1.6M441.5 218.7l-1.7 1.7M442.6 211.4l1.6 0.8M445.3 214.9h0M437.7 218.6l1.8 0.3M443.1 215.9l1.6 0.8M445.4 217.4l-1.2 1.3M442.2 212.1l0.6 0.2M440.6 210.2h0M443.1 213.8h0M442.6 228.0h0M439.4 230.2l1.9 1.5M441.0 229.2l-0.2 2.4M437.9 227.6l-0.3 2.4M443.1 226.2l1.1 0.9M442.4 226.9l1.0 1.0M442.2 271.1h0M441.8 270.8l-1.3 0.6M447.9 271.8l-0.1 0.6M441.0 265.5l-0.5 0.4M446.5 268.6h0M441.8 266.5l-1.8 1.6M444.3 264.2h0M445.6 268.1l-0.5 1.3M440.1 271.2l-0.2 2.4M444.5 276.5h0M440.4 283.1l0.5 1.3M443.6 275.7l0.2 2.4M445.8 279.4h0M444.7 285.4h0M442.2 284.2l-0.8 1.1M445.7 273.7h0M444.4 285.1l2.2 0.9M445.1 278.0l0.0 0.6M446.2 276.7h0M440.1 277.3l0.5 0.3M441.1 272.8l-0.9 0.4M442.4 282.4h0M443.4 273.8h0M445.8 277.6l-1.1 1.4M442.0 287.8l0.7 0.7M446.3 287.2l-1.7 1.7M441.4 286.5l-0.8 1.2M444.0 287.0l0.5 0.3M445.0 292.7h0M443.4 290.9l-1.7 0.5M438.7 287.8l-0.1 1.8M442.2 287.6l-1.2 1.3M443.6 292.4l1.2 0.7M445.8 284.9l-1.3 0.4M446.2 285.3l1.3 0.6M443.3 287.5l-0.6 1.7M447.4 285.7l-0.3 0.9M445.1 286.8l-1.5 1.9M446.7 291.2l-0.2 1.0M447.4 298.5l-1.4 2.0M455.0 293.2l-2.4 0.1M457.4 295.5l-2.0 1.3M452.4 297.4l-1.4 0.3M455.2 298.9h0M447.7 292.8l-1.8 0.3M447.5 298.0l1.0 0.3M455.6 298.5l-2.3 0.6M453.7 298.0l1.0 0.0M454.4 293.9l-1.4 1.1M445.6 295.8l-1.5 1.9M446.0 300.1l1.1 1.5M447.5 291.4l-1.3 0.5M452.2 294.0l-0.4 0.9M455.7 296.6h0M459.2 298.5h0M461.9 305.4l-0.2 1.0M469.3 303.2l-2.2 0.9M452.5 303.6h0M467.1 304.0h0M458.1 297.3l-0.0 1.0M465.2 306.9l1.8 0.1M461.9 301.4l1.0 0.1M458.1 298.7l0.6 0.1M459.9 309.9l-0.5 0.3M457.0 300.3l-1.0 0.2M466.4 304.9l1.2 2.1M463.0 308.6l1.8 0.1M458.7 307.3h0M464.7 303.5l-0.6 2.3M461.4 302.6l-0.3 0.5M463.8 304.9l-1.5 1.0M456.7 296.7l-0.6 2.3M470.2 306.3h0M468.3 309.9l1.7 0.7M468.2 309.0l-1.0 0.1M509.5 363.5l1.3 2.0M512.4 365.1h0M516.1 364.5l-1.0 0.2M511.5 367.1h0M514.1 364.4h0M513.1 366.6l-0.9 0.4M507.6 365.8l0.5 1.3M515.3 364.6h0M512.0 367.1l1.1 0.8M514.0 371.7l1.8 0.4M521.3 370.1h0M521.2 371.6h0M518.4 370.8l2.4 0.2M519.2 372.7l-2.3 0.6M521.4 373.8l-1.2 1.3M516.4 366.2h0M516.6 368.2l1.4 1.1M518.7 373.9l-0.1 0.6M515.7 369.5l-1.2 2.1M518.4 370.2l0.9 1.6M522.3 373.9l-0.4 0.4M532.8 372.9l-2.4 0.3M521.3 371.2h0M522.0 374.0l1.5 1.9M520.7 371.5h0M527.2 372.1l0.2 1.0M531.0 369.1h0M526.9 368.1h0M524.3 375.1h0M526.3 367.3l0.1 0.6M525.0 369.8l1.8 0.1M521.7 372.5l0.2 0.6M520.5 370.9l1.5 1.0M526.9 369.3l0.3 0.5M528.2 374.0l0.1 1.0M537.6 364.0l1.3 0.5M535.0 367.5h0M535.9 365.5l1.4 1.2M541.6 369.6l-1.3 0.6M534.2 369.4l-0.6 0.2M541.8 363.5l-1.2 1.4M534.9 365.8l0.4 0.5M540.6 363.8l-1.2 1.3M548.9 367.1l-0.1 1.0M545.4 370.8l-2.3 0.8M542.5 367.4l0.4 0.4M551.1 365.9l0.9 0.5M550.3 369.3l-1.4 0.1M542.7 368.1l-0.7 1.2M540.8 367.3h0M542.7 366.0h0M549.7 366.0h0M549.0 377.9h0M552.9 372.3h0M549.1 371.7l-0.5 0.8M551.3 375.3l-1.1 1.5M548.6 384.7l-1.9 1.5M549.9 382.3l-0.5 1.3M549.4 377.6l0.5 1.3M546.3 376.1l1.9 1.5M550.2 378.1h0M547.5 386.9h0M546.4 382.3l1.1 1.4M554.6 384.2h0M549.8 383.1h0M551.2 387.1l0.1 0.6M549.4 375.8l-0.6 1.3M549.4 386.6l-0.1 1.0M549.6 382.6l-0.3 0.9M550.8 376.9l0.5 1.3M546.5 391.2l-0.4 1.3M544.0 393.1l-1.7 0.5M548.8 389.5h0M545.4 391.4l0.3 1.4M547.3 386.3l-0.7 1.2M545.2 390.9l0.5 2.3M545.3 392.1h0M544.0 387.7l-1.0 0.1M549.0 390.6h0M545.3 388.0l0.1 1.8M543.9 392.1l2.0 1.3M543.8 386.9l0.5 2.3M548.2 390.5l-2.4 0.3M538.7 395.1l1.8 0.1M539.1 394.6h0M535.7 400.4h0M536.3 400.6h0M538.0 401.3l-0.3 1.0M537.2 399.9l-0.8 1.6M538.5 401.8l-0.6 1.3M540.6 395.5l0.0 1.4M538.3 399.6l-0.3 0.5M540.2 398.3l0.3 0.5M540.9 397.5l1.4 0.2"/>
<path stroke="#86e04c" stroke-opacity="0.7" d="M457.1 103.8h0M437.4 73.2h0M436.3 73.0l-1.3 0.4M439.3 94.2l2.4 0.3M492.6 104.2l1.3 1.3M424.3 67.9l-2.3 0.8M419.7 54.0l1.3 1.2M450.2 95.0l0.5 0.9M487.7 102.7l0.5 1.3M440.3 46.0h0M435.4 45.5h0M477.8 99.4l-0.5 0.4M428.4 64.5l-1.3 1.2M430.9 61.5l0.3 1.0M426.0 65.6l1.7 0.6M431.6 66.0l0.2 1.0M445.4 101.8h0M448.9 101.9h0M443.2 47.0l2.4 0.4M421.3 76.5l-0.4 1.3M427.1 81.8l0.5 0.3M418.7 59.6l0.4 1.3M438.5 67.4l-0.2 0.6M422.7 69.2h0M419.9 71.3l0.8 0.6M445.2 93.9h0M428.7 53.1h0M442.9 90.9l1.2 2.1M439.5 49.1l-0.4 1.8M434.5 68.1l-0.0 0.6M450.2 93.1h0M484.9 105.6l0.2 1.4M442.5 96.8h0M482.1 103.4h0M425.8 74.4h0M440.3 50.4l-0.1 1.0M446.9 47.7l0.2 0.6M456.1 99.7l2.3 0.7M440.3 53.6l0.6 0.0M429.6 69.3l1.1 0.8M438.6 40.3l0.2 2.4M426.0 70.4l0.3 2.4M480.1 99.8l1.2 1.4M481.5 101.1l-0.8 1.1M484.5 105.6l1.5 1.9M442.7 49.0l-1.6 0.8M442.5 95.1l0.7 0.7M455.5 97.4h0M480.8 99.3l-2.0 1.3M433.7 50.7h0M434.1 48.0l0.5 1.7M442.3 94.2l-0.3 0.5M426.2 65.0h0M423.6 64.5l1.8 1.6M426.7 67.2l0.9 1.1M451.6 97.9l0.6 0.1M450.4 104.2l-0.2 0.5M453.6 113.6l-0.6 0.1M423.9 67.5l0.9 1.6M447.7 104.7l-0.5 0.3M487.0 99.7l-1.5 1.9M436.8 43.6l1.4 0.0M440.3 95.4l0.1 1.4M447.2 100.2l-0.9 1.1M447.6 102.2l1.1 1.4M430.3 72.2h0M427.4 44.7l0.5 0.3M440.5 49.3l1.0 2.2M444.0 51.9l-0.4 1.4M433.9 76.0h0M492.1 103.2l0.9 1.1M475.0 104.9h0M435.8 69.3l0.4 0.5M423.4 72.8l-0.6 0.2M424.4 64.6h0M442.0 98.0l-1.3 2.0M424.6 61.3l-0.9 0.4M437.7 69.2l0.6 0.0M430.2 71.8l0.4 0.4M458.5 107.2l-1.2 0.8M424.4 74.9l-0.4 1.3M429.4 59.2l-1.3 0.5M424.9 68.2l-0.9 1.6M435.2 77.8l1.2 1.3M485.7 96.5l1.4 1.1M427.7 72.8l-0.4 0.5M438.8 45.8l0.5 0.4M442.8 55.9h0M451.6 104.3l-1.0 0.9M487.9 107.1h0M448.6 89.3l0.3 0.5M439.7 51.4l-1.8 0.4M457.4 99.4l-0.5 0.3M424.4 74.8l0.3 1.4M454.1 106.3l-0.4 0.4M485.3 110.3l-0.3 0.5M424.0 54.8l-1.1 1.4M442.6 51.6l0.6 0.2M454.6 99.8l0.3 0.5M445.2 98.2l0.3 2.4M454.2 95.6h0M437.5 48.9l0.5 0.3M443.6 93.4l-1.8 0.2M449.6 102.2h0M428.3 62.0l-1.7 0.6M448.0 107.7l0.6 0.0M475.1 112.3l-1.8 1.6M420.6 59.2l-0.8 1.6M481.7 102.4l1.2 2.1M450.0 96.0l-0.8 1.2M451.2 101.2l-0.9 2.2M450.3 107.1l-0.1 0.6M420.8 64.6l0.3 0.5M446.9 93.6h0M491.5 100.3l0.4 1.3M432.2 70.8h0M432.6 74.5l0.1 1.4M490.1 100.5h0M447.1 96.0h0M449.1 106.5l2.3 0.7M425.3 65.5l-0.4 1.3M455.6 103.5h0M434.1 46.4l0.4 0.5M482.6 108.3l0.6 0.2M451.4 100.5l0.8 0.5M490.1 98.9l0.2 2.4M441.0 51.4l1.7 1.7M429.8 46.5h0M423.4 70.4l2.2 1.0M428.4 78.6h0M446.7 48.9l-0.7 2.3M428.0 67.7h0M431.6 66.1l0.9 0.5M462.7 179.9h0M463.1 182.6h0M455.3 182.3l-1.8 1.5M460.0 180.8l-0.4 0.4M460.4 182.4h0M464.1 181.5l0.9 1.5M454.0 183.5l-0.5 2.4M453.0 191.0h0M447.7 191.3l1.7 0.5M458.3 193.5h0M457.4 190.7l-0.7 2.3M450.4 186.3l-0.5 0.4M452.0 188.0h0M449.7 189.7l0.1 2.4M447.2 184.9h0M451.1 190.6h0M447.9 201.5l0.5 0.2M445.9 198.7l-0.5 0.3M448.2 195.3h0M442.4 201.8l1.5 1.0M450.0 208.9l1.4 0.1M449.2 194.1h0M452.0 194.6l-0.9 0.4M446.0 194.2l0.4 1.8M444.6 209.4h0M449.0 196.6h0M443.7 208.1l-0.6 0.8M442.7 196.1h0M449.8 198.7l1.4 0.1M444.9 198.7l0.8 0.7M439.8 205.3h0M448.8 203.7l-1.8 0.3M446.1 209.2h0M449.8 210.6h0M438.9 216.3l0.8 0.6M438.8 220.1l0.4 0.5M443.3 219.7h0M443.7 217.1h0M444.7 215.9l2.2 0.9M439.5 216.2l0.5 0.4M446.0 209.8l-0.4 1.4M447.7 211.4l-0.6 0.0M437.7 209.6l1.5 0.9M436.8 232.3h0M438.6 232.1h0M436.0 234.3l0.6 0.0M437.2 233.0l-1.1 0.9M439.2 232.1h0M439.5 236.0l0.7 1.7M435.5 233.6h0M437.7 236.1h0M440.6 240.0h0M437.9 238.1h0M435.1 232.2l0.2 1.0M439.2 233.1l-0.1 1.0M438.0 248.6l1.0 1.5M435.8 253.8l-0.2 0.5M439.9 250.4l-0.5 1.3M437.0 242.1h0M438.4 252.5l0.5 0.4M442.9 247.3l-0.1 0.6M435.0 255.9l1.3 1.3M436.4 241.3l1.7 0.5M438.5 248.9l-1.3 0.6M443.0 253.1h0M441.8 254.5l-0.9 1.1M442.7 250.6h0M436.9 250.9l2.4 0.2M439.7 245.1h0M441.9 251.5l0.2 0.5M440.0 248.6l-0.0 1.8M436.6 245.4h0M442.0 239.2l-0.7 0.7M437.9 252.5l2.3 0.7M438.1 251.5h0M439.2 239.9h0M436.5 254.6l0.5 0.3M439.6 242.8l-0.8 0.6M440.2 245.7h0M444.8 252.1h0M437.1 247.7l0.6 0.1M437.1 244.0l1.0 0.1M439.7 245.0l-2.4 0.5M441.0 253.3l-1.0 0.9M440.9 247.9l-0.5 0.9M440.9 258.3h0M440.6 265.1l1.6 0.9M446.0 264.7l-1.0 0.2M444.4 271.9l-0.1 1.8M448.0 264.3l-0.9 0.5M444.9 260.1l-1.0 0.2M443.2 257.1h0M445.4 261.9l0.7 1.2M445.4 258.8h0M441.5 264.6l0.3 0.5M442.6 270.4l-0.4 0.4M442.1 257.1h0M443.7 272.3l1.8 1.6M442.2 265.9h0M441.3 263.5l1.3 2.0M445.6 270.4h0M441.6 263.4h0M441.5 264.9h0M442.9 256.3h0M444.9 264.8h0M442.2 257.0l-1.3 1.3M443.3 271.6l-1.4 0.1M442.6 256.4l-1.7 1.7M445.3 256.4l-2.2 0.8M440.0 260.2l0.6 0.2M442.7 264.8h0M443.7 282.1l0.5 0.3M438.3 275.1l-0.1 2.4M442.8 274.7l1.8 0.1M444.9 274.0h0M445.8 273.5l-0.5 0.3M442.6 273.6h0M442.1 275.1l1.2 0.8M443.8 279.1l-1.2 0.7M446.7 282.1h0M438.7 272.9l2.4 0.1M446.7 274.0l0.2 1.0M447.4 274.9l-0.6 0.1M439.1 282.5l0.3 0.5M442.8 280.7l0.6 0.1M440.7 276.8h0M436.3 272.3l1.0 1.0M447.5 292.1h0M445.2 289.8l-0.2 1.0M444.0 288.9l0.0 1.0M442.8 293.3l1.5 1.9M444.4 288.2l0.5 1.3M443.6 286.6l-1.0 0.2M439.1 286.0l1.0 1.0M443.2 286.1h0M446.7 289.2l0.2 0.6M452.1 297.9h0M451.5 298.3l-0.0 2.4M450.1 298.0l1.0 0.0M451.2 295.5l1.0 1.5M449.0 292.8h0M449.5 295.8l0.5 1.7M446.7 295.0h0M445.7 296.2h0M449.4 296.7l1.4 2.0M453.1 298.8l-0.4 0.9M450.0 298.2h0M455.7 295.0l2.2 1.0M454.4 293.4l0.5 0.9M447.7 293.0l-0.6 1.3M454.4 297.9l1.7 0.7M462.7 307.4l-0.9 0.4M458.0 302.4h0M454.7 302.1l-1.1 1.4M468.6 304.4h0M465.8 301.7l1.3 0.5M455.2 301.5l0.6 0.2M460.1 303.5l-0.7 1.2M456.5 301.5l-0.3 1.8M460.4 304.6h0M463.2 294.2l-0.2 1.0M463.9 305.9h0M457.2 299.4l0.1 1.4M468.2 301.4l0.6 2.3M462.1 305.2l-0.5 1.3M465.5 305.0h0M458.5 298.9l-2.4 0.4M463.1 300.8l0.9 0.5M465.4 304.5h0M462.2 298.3l0.9 0.5M465.4 308.3l0.4 2.4M469.9 302.2l-0.2 2.4M458.4 299.1l0.6 0.1M465.8 301.3h0M466.4 306.1h0M460.1 296.7h0M468.9 303.9h0M461.6 300.7l0.6 0.1M456.4 299.3l-0.1 0.6M462.9 301.8l1.2 2.1M473.4 315.4h0M478.4 315.8l0.2 1.0M473.4 309.0l-1.6 0.7M473.1 317.8l-1.7 0.5M472.0 305.1h0M465.8 310.4l0.4 1.4M471.7 307.2l0.7 2.3M473.4 314.2l0.0 1.4M470.7 305.3l-0.1 1.4M467.7 310.5l1.6 0.8M470.5 306.8l0.1 1.4M465.4 310.6l-1.4 1.9M470.4 311.4h0M469.1 310.7h0M470.7 310.3l-0.6 0.8M473.9 313.0l-0.6 1.7M473.0 319.0l1.4 0.3M480.4 314.3h0M470.4 308.8l1.6 0.9M469.2 306.4h0M467.6 308.1l1.8 0.2M475.0 316.5l0.5 1.3M469.2 309.6l-1.3 0.6M474.2 312.8h0M467.1 311.9h0M477.9 321.3l-1.0 0.2M479.4 328.5h0M484.7 322.1h0M477.9 318.9l-0.2 0.6M485.9 329.8h0M478.7 333.2h0M488.6 333.3h0M484.3 323.7h0M476.1 322.2h0M477.4 325.6l-0.2 1.0M486.6 325.4l-0.5 0.9M482.4 324.6l-0.5 1.3M474.9 323.8l0.8 0.6M479.0 325.9h0M478.0 322.1l-0.7 0.7M485.5 328.1l-2.2 0.9M477.5 322.6h0M474.8 322.0h0M484.2 329.2h0M488.5 331.5l1.0 0.2M483.8 332.4l0.3 0.5M485.0 334.4h0M479.6 322.5l0.4 2.4M477.2 319.5l0.7 0.8M477.2 325.3h0M478.8 335.9l0.6 0.2M478.1 328.2l2.4 0.3M481.5 329.5l-0.4 0.4M470.8 323.2l-1.0 0.3M482.7 333.2l-2.3 0.8M483.0 333.7h0M489.5 324.7l0.7 1.7M487.5 333.0h0M489.1 336.5l-1.0 0.0M488.5 338.4l-0.5 0.4M486.2 339.0l0.9 2.2M490.2 347.4l-0.2 1.8M492.4 342.6l-1.0 0.3M495.1 343.4l0.9 1.5M486.6 335.9l0.9 0.4M487.1 336.5l1.3 2.0M492.4 345.1h0M498.0 340.1l-0.6 0.2M495.7 340.7l0.6 1.3M493.3 332.7l0.0 1.8M492.4 336.1h0M490.7 342.2l0.8 1.1M488.2 334.9l-0.7 1.2M487.4 337.9l-0.6 0.2M496.2 341.7h0M490.6 338.3h0M490.7 342.6l-0.4 0.4M492.8 339.4h0M491.5 336.3l1.7 0.6M490.2 348.2l0.7 0.7M486.8 347.1l0.5 0.9M493.0 335.4l-0.3 1.0M494.2 345.3l0.4 0.4M500.0 348.6l-1.7 0.7M500.4 360.5l0.4 1.4M508.3 355.2h0M503.3 355.7l0.2 1.0M496.7 350.2l1.0 0.2M498.0 356.5h0M495.1 348.7l-0.6 0.8M499.5 345.6l-1.6 1.8M502.1 348.9h0M500.1 347.0l-0.7 0.7M495.6 352.9l-0.8 0.6M494.4 357.9h0M497.9 353.2h0M499.9 345.8l0.2 1.0M501.5 360.3h0M502.3 355.7l1.2 0.7M505.8 354.4h0M502.7 355.9l-0.9 1.1M493.3 349.8h0M499.0 349.4l-0.0 1.4M500.4 350.7h0M514.5 364.3h0M511.5 360.9l-0.4 1.8M509.3 364.7l-0.2 1.4M509.0 360.1h0M504.1 360.8l-0.9 0.5M512.9 362.6h0M501.6 365.3l-0.9 0.4M509.6 368.4l-0.6 0.1M502.7 365.5h0M506.9 359.7l0.6 2.3M516.8 364.7l-0.2 1.0M504.9 360.7l0.6 0.1M507.9 364.3l0.3 0.5M505.4 359.8l-0.6 0.0M505.3 361.9l-0.6 1.7M510.7 361.9l-0.6 0.1M506.0 364.7l1.1 0.9M511.4 361.5l0.9 1.1M516.2 367.0l-0.6 0.2M515.2 367.3l-0.9 1.1M516.0 368.2l-0.3 2.4M517.5 373.3l-1.7 0.5M516.6 374.0l-0.4 0.9M522.9 372.2l1.6 0.7M525.2 370.5l-0.6 0.2M522.4 370.1h0M528.1 371.3h0M526.9 371.2l-1.1 2.2M526.1 371.5l-1.2 1.3M540.6 363.2l0.6 1.7M532.8 368.8l0.6 0.0M538.1 369.5l-0.6 0.1M530.9 367.5l0.6 0.2M535.6 368.0l1.4 0.1M540.3 366.1l-0.5 0.4M537.8 370.0h0M540.2 365.1h0M538.9 365.7h0M536.4 365.4l1.3 0.5M549.3 365.8l-1.1 1.4M542.4 367.0l-0.3 0.5M544.6 368.9l1.8 0.0M549.6 368.8l-0.2 1.0M544.8 365.2l-0.6 0.1M543.3 367.0l-1.2 1.3M542.7 365.3l-0.9 1.1M548.7 373.6l-1.3 1.2M549.8 370.4l-2.3 0.5M552.8 370.8l-1.3 0.4M549.8 370.1h0M553.3 368.1l-2.0 1.3M551.0 371.3l-0.6 1.7M554.1 374.7l-0.2 1.4M551.1 370.3h0M553.0 374.6h0M549.6 373.9l-0.1 1.4M547.0 371.5l-0.5 1.7M553.1 381.4l-1.6 0.8M552.0 378.6l0.1 1.4M552.0 379.1l-0.4 0.4M550.2 382.6l-0.7 1.6M552.9 378.9l1.5 1.9M552.8 379.0l-1.4 0.2M543.2 395.9h0M547.3 386.2l-0.6 0.8M541.3 391.0l-0.2 0.6M546.6 393.1h0M548.0 391.6l-1.0 0.1M546.8 388.1l1.1 2.1M544.2 387.3h0M537.5 400.4h0M539.9 395.4l-0.7 1.6M538.0 397.7l1.3 0.4M540.1 394.1l-0.9 0.3M435.1 163.6l1.3 0.4M440.0 163.9l1.4 0.3M441.9 166.7l-2.2 1.0M439.3 166.1l0.6 2.3"/>
<path stroke="#c47a28" stroke-opacity="0.75" d="M468.5 96.0h0M507.4 54.9l1.7 0.5M491.2 78.8h0M461.7 98.1l1.3 0.4M517.7 73.8l-0.1 1.8M479.0 58.4l-0.6 0.1M484.5 79.6l-0.6 0.2M492.2 82.3l0.1 1.0M460.3 79.2l-1.8 0.1M504.7 77.8l0.1 1.8M456.3 68.1l0.6 0.1M471.3 83.1l-0.6 0.8M507.1 71.0h0M488.1 58.0h0M490.7 76.1l0.8 1.6M522.8 62.9h0M498.1 79.5l-0.5 0.3M446.7 108.2h0M493.3 92.2l0.5 0.3M475.3 86.1l-1.7 0.7M492.2 82.8l0.8 2.3M489.4 60.3h0M490.2 74.2l0.6 0.1M512.1 65.3l0.9 0.5M485.0 68.2h0M491.4 96.2l-1.0 1.0M491.6 86.4l1.0 0.2M497.7 61.9l-1.3 0.5M489.5 56.8h0M494.5 90.4l0.4 0.4M488.9 66.1l-0.3 1.0M454.6 82.0l0.3 0.5M423.4 42.6l0.8 0.5M464.9 101.2l1.0 0.3M496.1 86.7l-1.0 0.2M499.1 77.7h0M520.9 62.0l1.9 1.4M456.8 88.3l0.8 2.3M458.3 91.7l2.4 0.2M440.9 56.9l-1.4 0.1M505.3 66.6l-0.6 0.8M519.3 68.3l-0.1 0.6M502.9 82.3l0.2 0.6M454.8 84.1h0M486.9 95.4l1.7 0.7M508.2 66.3h0M509.9 57.6l-2.1 1.2M506.7 69.1l-0.2 1.4M513.9 71.1l-0.5 1.7M471.8 94.0l0.6 1.7M495.4 76.2h0M478.9 107.5l1.0 1.0M426.3 59.5l-0.0 1.8M521.1 73.8l-1.8 0.3M458.5 77.0l-1.5 1.8M432.5 89.6l1.3 0.6M491.5 98.1l1.3 0.6M515.5 61.4l-1.4 1.2M510.7 74.7l-0.7 0.7M517.3 69.5l-0.6 0.1M511.1 65.6l1.5 1.0M523.7 62.0l0.3 0.5M501.4 68.7l-0.5 0.3M519.1 67.5h0M518.2 57.7h0M463.9 109.9l-0.4 0.9M443.1 63.0l-0.4 0.9M446.0 101.6h0M432.9 79.5l-0.6 1.3M489.9 78.6l0.6 0.8M502.4 65.3l1.4 0.1M437.9 49.0l0.8 0.6M494.6 85.8l1.1 0.9M509.5 68.0l0.1 0.6M493.4 89.6l0.4 2.4M469.5 121.7l1.0 0.1M466.9 89.6h0M425.5 44.8l0.9 1.5M488.8 65.4l-0.4 2.4M508.7 73.5h0M491.9 71.4l0.4 1.3M493.3 41.6l-1.4 0.1M493.7 73.4l0.7 0.7M439.9 86.6l1.7 0.5M492.3 95.8l-0.3 0.9M468.3 91.7l-2.0 1.3M461.5 98.4h0M435.5 83.6l-2.2 0.9M481.7 77.3h0M475.8 43.6l-0.3 0.5M523.4 72.4h0M468.7 46.5h0M446.6 105.5l-0.1 1.4M466.7 73.6l-1.5 1.9M450.3 60.9l1.0 0.1M470.6 112.6l-0.7 0.7M493.0 78.8h0M492.3 80.4l0.6 0.1M516.5 72.4h0M469.8 110.0l-0.6 0.1M496.2 72.7l0.4 1.3M477.0 89.6l1.8 1.6M459.9 96.7l0.3 2.4M517.5 74.5l-0.0 2.4M442.5 95.1h0M493.1 71.0l-0.3 1.4M494.4 66.4l-0.2 0.6M469.9 115.1h0M480.0 64.0l0.3 0.5M473.1 89.4l-0.1 1.0M498.6 103.5l-0.9 0.4M498.6 52.3l0.9 1.6M472.6 105.2l-0.3 1.4M460.4 92.9l1.5 1.0M488.2 62.6l-1.5 1.0M515.9 58.5h0M457.4 93.1l1.0 0.1M509.5 76.4l0.8 1.6M477.6 88.4l-1.4 0.1M493.2 85.5h0M512.8 58.7h0M475.1 110.8l-0.2 1.0M499.6 87.7l0.1 1.4M465.2 84.1l-0.4 1.8M504.2 82.3h0M504.6 76.0l-0.1 1.8M490.9 58.9l1.7 0.7M489.3 75.7l-0.7 1.2M467.8 85.4h0M511.7 59.5l1.1 1.4M479.9 83.9l0.0 1.8M470.0 97.3l-0.2 0.6M514.0 67.3h0M450.9 57.5l-1.5 1.0M519.6 64.6h0M496.6 74.2h0M431.7 87.9l-1.2 0.7M476.1 70.5l0.1 0.6M484.1 48.9l-0.1 0.6M495.3 48.7l-1.8 0.3M448.0 84.3h0M517.0 60.9l1.3 0.5M492.5 87.4h0M491.9 95.0l1.5 1.8M493.1 73.5l-0.9 0.5M521.3 67.5l-0.6 0.1M498.4 61.7l-0.6 0.2M504.0 75.5l-1.4 1.1M521.5 74.5l-0.8 0.6M519.3 57.4l-1.0 0.0M471.4 106.7l0.6 1.7M504.5 65.4h0M475.8 102.1l-0.8 1.2M473.8 74.9l0.5 1.3M480.1 83.8l1.1 0.9M483.4 90.2l1.6 1.7M465.4 79.5l1.1 0.9M493.1 82.3h0M460.8 101.5h0M493.9 95.5l0.0 2.4M485.1 81.9l-1.3 0.6M429.7 91.1h0M497.2 77.7h0M483.7 81.4l1.3 0.6M459.8 90.0l0.1 0.6M500.2 69.1l1.0 0.3M465.8 103.9l1.5 1.9M439.8 96.3h0M469.6 113.3h0M474.2 45.8l-0.6 0.2M462.1 81.8l0.7 2.3M494.7 64.4l-1.4 0.1M491.0 95.8h0M463.1 100.3l0.6 0.1M461.0 99.0h0M514.8 72.9l-1.6 0.8M476.6 50.7l-1.0 0.1M518.6 70.2l1.0 1.5M495.8 93.4l-0.6 2.3M521.1 66.2h0M462.7 93.2l1.3 2.0M520.9 65.2l-1.0 1.5M464.0 90.7l-0.4 0.9M465.3 108.4l2.4 0.2M489.2 83.3l0.0 1.0M515.8 63.9h0M489.1 62.1l0.2 1.4M462.8 87.7h0M479.9 76.2l-0.0 1.4M483.2 76.3h0M559.2 468.5h0M562.0 464.3l-0.2 1.0M558.2 466.6h0M557.2 468.9l0.4 1.3M557.8 466.0h0"/>
<path stroke="#a23232" stroke-opacity="0.85" d="M465.8 47.4l-0.5 0.3M423.3 57.3l-1.8 0.3M426.5 45.6l-0.5 1.3M445.4 65.3h0M458.2 41.7h0M446.2 68.4h0M463.9 38.9l0.7 2.3M445.1 71.6l-1.1 2.1M444.4 63.9l-0.3 0.5M424.6 71.3l-0.9 1.1M428.7 64.7l1.0 0.1M451.3 62.5l-0.3 1.4M421.0 69.2l0.5 0.3M460.0 43.8l-0.9 1.1M442.1 66.3l0.5 0.3M461.0 32.4l-0.4 0.5M458.1 43.9l-2.2 0.9M456.2 94.2l-1.0 0.1M427.7 78.9l-1.0 0.0M466.9 40.0l0.1 1.4M442.2 77.1l-1.0 0.0M453.1 64.5h0M447.2 74.3h0M467.8 51.1l1.4 1.1M417.9 57.3h0M464.9 40.2l-0.5 0.3M465.0 35.9l-0.3 2.4M464.6 37.5h0M462.7 32.5l-2.0 1.3M442.4 60.6l-1.2 1.3M442.6 68.6l0.8 0.6M460.8 34.0h0M465.8 38.4l-0.9 0.5M419.1 72.3l1.7 0.6M477.5 93.2l1.6 1.8M459.2 44.8l0.9 1.1M466.1 40.0l-1.7 1.7M459.9 39.4h0M452.4 93.0h0M473.3 89.1l0.7 0.7M473.2 94.7l1.6 0.8M475.4 98.6l1.3 0.5M472.0 97.0l-0.1 1.8M461.1 45.7l0.2 0.6M472.2 42.9h0M463.9 46.1h0M459.8 38.4l-0.8 1.6M427.8 79.5l-0.7 0.7M423.9 60.6l0.8 1.6M451.4 92.1h0M470.7 47.1l-1.3 0.4M469.7 44.1l-2.3 0.5M420.7 42.9l0.9 1.0M474.0 93.3l-0.4 0.5M452.4 90.0h0M425.6 65.8l1.7 0.5M470.2 43.7h0M473.2 96.5l1.0 1.0M454.6 48.0h0M474.1 43.4h0M469.0 38.6l0.9 2.2M451.8 61.9l-1.6 0.8M478.2 101.8h0M457.9 90.0l0.8 2.2M466.7 37.2l-1.6 0.8M459.0 38.5l0.1 0.6M422.5 66.3l-1.4 0.1M461.0 46.0l1.4 0.0M453.7 90.2h0M461.0 96.2l0.6 0.8M448.5 71.1l1.3 0.6M475.8 96.8h0M438.7 68.2l-0.1 1.8M471.7 41.2l-0.6 0.1M458.1 92.8l-1.1 0.9M461.1 43.6l1.7 0.5M464.2 38.0h0M466.5 40.7l1.3 1.2M429.7 64.0l-0.6 0.8M468.4 46.7l-1.6 0.9M475.1 89.6h0M465.3 40.1l-0.6 0.2M463.6 42.7l0.6 0.2M452.9 88.8l-0.5 0.9M466.7 42.3l0.6 0.8M477.2 96.9h0M456.4 88.0l0.5 0.3M424.3 64.4l0.7 2.3M427.2 80.8l1.0 0.2M466.1 41.0h0M442.0 60.0h0M469.4 40.8l-0.2 1.0M471.7 102.3l-0.5 0.4M465.1 39.0l1.3 0.4M467.0 45.4h0M438.9 67.3l-0.2 1.4M417.9 59.6l0.3 1.4M472.3 44.0h0M479.0 96.1h0M464.6 41.3l-1.8 0.2M423.1 74.2l-0.0 1.4M471.4 44.2l1.6 0.7M454.1 97.3h0M457.1 94.4l-0.8 0.6M442.5 64.6l1.4 1.9M460.3 37.7l1.4 2.0M443.3 64.9l1.3 2.0M435.7 84.7h0M454.1 94.9h0M451.9 88.7l-0.2 0.6M464.0 38.0h0M461.8 48.4l-0.8 0.6M472.8 48.2l-0.4 1.3M447.4 68.3h0M473.6 99.2l0.5 1.7M449.6 68.0h0M469.4 46.6l1.7 0.5M460.0 33.3l0.4 1.8M477.4 96.4l0.6 0.8M467.0 48.8l0.8 0.6M424.3 73.1l-0.9 0.4M444.5 66.0l-1.8 0.4M458.3 89.4h0M464.6 49.2l1.1 1.4M445.2 64.8l0.4 1.8M442.3 67.9l0.7 0.7M470.5 39.8l0.3 1.4M444.4 69.3h0M455.8 89.2h0M447.2 67.0l0.2 1.0M474.0 100.1l0.0 0.6M443.1 70.6h0M447.2 69.9l-1.4 1.1M462.6 41.2l-0.4 0.5M468.5 43.0l0.3 0.5M418.3 57.0l-0.2 0.6M469.8 97.2h0M417.6 62.5l0.9 2.2M459.8 35.9h0M413.8 72.2h0M405.8 61.7l1.3 0.5M398.2 55.0l0.5 1.3M418.7 85.5h0M403.0 59.5h0M414.1 63.6l-2.2 1.0M422.8 76.9h0M416.6 70.8h0M408.0 69.9l-1.0 1.0M422.9 85.4l-0.2 1.0M415.3 73.1h0M416.2 72.2l-1.2 1.3M412.1 80.5l1.3 0.4M422.6 88.7h0M414.8 77.6h0M406.7 51.3h0M412.4 76.4l-1.2 1.3M416.6 74.2l-2.0 1.4M422.4 88.5l-0.1 0.6M417.7 77.4h0M408.8 68.9l-1.0 1.5M406.5 77.0l-1.4 0.1M413.6 85.2l1.0 0.2M422.7 85.0l0.2 1.0M402.6 54.5l1.3 2.0M401.1 56.0h0M406.2 52.3h0M423.8 83.8l-0.5 1.3M418.4 81.0l-1.4 1.2M399.9 58.2l-0.6 0.0M411.1 71.8l0.6 1.2M420.6 80.8l0.5 0.9M409.7 67.5h0M411.0 62.5l1.6 0.8M425.1 84.4h0M416.5 70.6l0.3 2.4M398.8 55.0l-0.7 1.2M421.7 84.2h0M410.0 61.6l0.9 1.6M413.4 66.7h0M398.8 59.6h0M418.0 78.1l1.1 1.4M407.7 59.6l-0.4 0.5M416.3 76.0l-1.3 1.2M425.5 87.0l0.4 1.8M416.2 65.7l1.2 1.3M409.2 69.6h0M416.1 74.7l0.1 1.0M414.5 65.8l-0.0 1.0M413.0 69.4l-1.3 0.4M408.0 70.9l-0.2 1.8M415.3 66.4l-0.4 0.5M410.7 65.5h0M422.3 83.2l-1.0 1.0M419.7 85.4l-0.0 0.6M409.4 52.1h0M418.8 76.5h0M415.3 80.5l-0.7 0.7M419.3 80.9h0M400.7 59.2l0.6 0.0M413.0 90.8l2.3 0.5M405.6 60.2l1.4 0.2M406.6 58.0h0M410.3 54.1l0.5 0.4M420.5 83.3h0M405.6 55.8l2.1 1.2M407.3 69.3h0M424.3 88.3l-1.3 1.3M404.5 54.7h0M410.3 57.2h0M407.1 59.4l-0.4 0.9M415.6 68.8h0M419.0 81.6l1.3 0.6M402.9 68.7l0.3 0.5M402.5 52.8l-1.0 0.3M417.7 82.0l-1.3 2.0M404.0 57.9h0M405.7 65.9l-0.4 0.4M426.2 86.4h0M410.0 68.7l-1.7 0.6M420.5 90.6l0.9 1.1M412.8 56.8l0.8 1.2M420.5 74.0l0.1 1.0M413.6 84.0l-1.4 1.1M419.6 79.4l-1.2 0.7M410.5 88.6l-0.6 0.1M415.8 72.8l2.4 0.4M420.4 82.7l-0.1 0.6M406.5 68.6h0M417.8 78.7h0M416.1 76.0h0M428.2 83.7h0M411.2 73.1l-0.4 0.5M405.8 61.4l-0.1 1.4M411.6 83.3l0.9 0.5M425.1 81.0l-2.3 0.6M414.5 76.5l1.8 0.2M413.5 89.6l0.0 1.0M408.8 64.6h0M414.0 69.5h0M420.9 85.0l1.5 1.0M404.5 52.3l-0.6 1.7M408.9 73.1l-0.3 1.0M407.6 50.9l0.2 1.8M418.5 85.8l0.4 1.7M411.5 73.6l-2.3 0.6M406.4 64.5h0M405.2 58.5l0.6 0.0M411.1 67.0l0.8 0.7M417.6 90.1l2.4 0.3M400.2 54.7h0M406.5 61.7l0.4 0.5M411.6 62.8h0M405.5 53.7l1.2 0.7M420.7 83.0l1.1 1.4M417.7 77.3l-2.4 0.5M413.4 68.4l0.9 0.4M424.6 86.7l-0.6 0.0M415.4 79.1h0M420.8 77.3l-1.3 0.4M407.1 55.6l-0.1 0.6M405.6 52.9l-0.1 1.8M405.3 54.3l1.0 0.1M420.7 84.8l-2.1 1.1M416.5 76.7h0M414.6 74.7h0M425.7 87.8h0M416.3 68.0l0.6 0.1M400.2 57.9h0M419.6 82.5l0.5 1.3M400.8 97.5l-0.8 1.2M393.1 93.7h0M412.0 94.2l-0.6 1.3M396.5 79.3l0.5 0.9M395.7 78.1l0.8 0.6M393.5 75.9l0.6 0.1M398.9 88.7h0M411.7 80.9h0M397.3 93.7l-0.6 0.2M413.2 95.3h0M409.0 81.2h0M398.6 82.7l-0.3 0.5M415.4 67.6l1.1 1.4M399.5 64.7l1.7 0.5M402.3 66.0l1.5 1.1M405.4 75.7l-0.4 0.5M404.5 91.3h0M403.8 77.1l0.3 0.5M393.9 82.3l2.3 0.8M404.0 96.5l0.9 2.2M397.8 67.0l1.1 1.4M414.0 66.1l0.1 1.8M410.8 94.6h0M412.1 92.5l-1.8 0.2M417.2 86.2l-0.5 1.7M398.6 75.1l-0.2 0.6M399.8 86.4l0.1 1.0M403.8 92.4h0M393.7 97.0l-0.8 1.6M395.2 94.2l-1.1 1.4M414.3 66.7l1.2 2.1M405.7 88.5l-0.3 0.5M408.1 80.3h0M411.8 95.6l-1.6 0.8M402.0 89.6l-1.0 1.0M402.6 92.7l1.3 2.0M416.4 85.8l2.0 1.3M467.2 147.2l2.4 0.3M467.7 140.8l1.1 2.1M468.1 147.1l0.3 0.5M468.1 157.3h0M465.7 162.1l1.0 0.2M468.8 162.3l-0.6 1.7M466.8 162.2l0.2 0.5M466.6 164.9l2.2 0.9M467.1 164.8h0M468.6 166.4h0M469.9 166.8l-0.6 0.8M466.8 167.3l-0.8 1.2M535.9 403.3l-1.4 0.3M538.9 412.1l-1.6 0.7M537.6 416.0h0M539.3 413.8l-1.0 1.0M537.0 411.0h0M541.7 419.5l-0.4 2.4M538.7 418.4l-0.2 1.0M547.0 426.1l-1.6 0.9M555.4 435.5l-1.4 0.4M553.7 433.7l-1.2 0.7M554.7 437.3h0M556.7 442.6l0.6 0.8M556.1 442.6h0M557.3 453.4l0.7 0.7M557.9 453.6l1.2 0.8M558.1 446.6l-1.2 0.7M556.2 445.9h0M557.6 457.8h0M560.2 458.9l-1.2 0.8M430.2 172.4h0M441.9 182.5h0M425.6 169.0l0.1 1.0M445.2 182.6h0M451.2 169.8h0M446.7 167.1h0M426.3 165.5l-0.7 1.2M442.2 178.4l-1.7 1.7M439.5 180.5l-0.0 0.6M425.2 174.7l-0.6 0.0M447.4 168.0h0M446.3 164.1l-1.1 1.4M444.7 179.3l-0.2 0.6M445.6 170.3l2.3 0.8M432.2 168.9l-2.4 0.1M447.5 181.4l-0.0 0.6M446.5 182.3h0M444.0 170.0h0M446.9 167.2l0.5 0.4M445.7 167.7l0.2 1.4M436.9 184.0l-0.9 0.4M445.1 178.4l2.2 0.9M431.0 169.1l-0.2 1.0M426.1 174.4l0.5 0.9M436.7 179.2l1.6 0.8M433.2 172.1l-1.1 0.8M561.4 465.4l0.8 1.2M560.0 467.4l-0.1 1.8M557.1 464.9l0.6 0.0M557.9 465.8l-0.3 0.5"/>
<path stroke="#36d246" stroke-opacity="0.8" d="M441.8 58.7h0M470.2 121.3l0.2 1.8M445.6 56.5l-1.1 1.4M436.0 61.5h0M439.1 45.4h0M448.7 45.6h0M445.6 53.8l1.0 0.2M434.6 45.9l1.8 0.1M466.3 122.5l-1.0 0.1M426.7 47.6l-1.8 0.3M447.3 45.0l-0.0 0.6M422.1 48.7h0M432.5 53.9l-1.2 1.3M443.7 58.9h0M454.4 49.2l-1.4 0.1M435.6 45.6l1.2 1.3M438.5 54.9h0M439.1 48.9l-1.4 0.2M421.0 48.9l1.4 0.3M443.7 50.4l0.8 1.6M448.8 52.9l1.7 0.6M453.9 53.2h0M423.6 50.8l0.4 0.4M424.0 54.3l-2.4 0.4M433.5 47.7h0M449.7 115.7l-1.3 0.5M471.9 117.1h0M463.9 121.0h0M426.9 56.8l0.9 0.4M426.7 42.5h0M427.0 51.0h0M443.7 58.3l-2.1 1.2M456.5 114.8h0M430.1 44.8h0M458.8 119.4l-0.1 1.8M427.8 48.7h0M448.2 53.8h0M454.5 119.4l-1.0 0.2M427.3 49.8h0M446.2 47.7l-0.4 2.4M419.4 46.2l2.2 0.9M445.7 44.8l-0.5 0.2M422.6 60.5l-2.4 0.4M441.8 46.1l-0.9 2.2M418.5 66.0l1.0 0.9M457.0 108.3l-0.6 1.7M458.6 115.7l-2.1 1.2M422.4 64.7l1.1 2.1M432.6 48.7h0M444.6 42.9l-0.7 2.3M433.3 45.8l-1.3 0.5M428.7 50.9h0M463.2 118.0l2.4 0.2M435.2 60.8l-2.4 0.2M441.7 53.3l1.9 1.5M423.0 53.8l0.1 1.4M424.4 46.9l0.0 0.6M462.0 119.1l0.5 0.4M470.4 115.3h0M439.0 62.2l1.8 0.3M421.8 51.1h0M427.4 50.1l0.3 1.8M427.7 52.0l0.8 0.6M460.2 119.9l-1.3 2.0M440.5 46.7l-0.0 2.4M438.7 48.6l0.4 1.4M418.0 51.3l-0.0 1.0M438.9 57.7h0M460.7 54.3l1.0 0.1M446.7 49.8l-0.6 1.3M434.7 47.6l0.1 1.4M424.8 51.1h0M459.0 114.3l-0.6 0.2M450.3 58.0l1.3 1.3M467.9 123.5l1.4 0.2M431.8 52.3l-2.4 0.3M433.6 56.5h0M427.8 44.3l0.6 0.2M422.4 46.3h0M422.6 57.8l1.6 0.8M462.8 110.9l1.5 1.0M421.5 54.3l-0.5 0.9M423.3 58.6l0.6 1.3M452.2 47.0l-1.0 1.0M440.9 57.4l2.2 1.0M424.2 53.7l-0.6 1.7M431.6 63.6l0.7 1.2M428.1 49.1l-0.6 1.3M453.0 56.5l-1.8 1.6M429.5 54.5l0.3 1.4M439.8 51.7l-0.9 0.5M428.1 68.6l1.2 0.8M421.4 48.6l-0.4 0.4M422.3 44.1l-0.2 0.6M443.9 60.1l-0.6 0.2M425.5 49.4l2.4 0.0M460.1 113.9l-1.4 0.2M455.3 115.3l0.5 0.4M432.8 45.4l0.3 0.9M427.8 47.7l-0.4 0.5M456.6 179.8l1.7 1.7M448.8 189.0l-0.6 0.1M451.8 189.1l0.5 0.9M451.1 186.5l-0.1 1.0M447.8 192.1h0M447.7 205.4h0M451.7 206.2l-1.6 1.8M442.1 201.6l0.3 0.5M444.0 208.9l1.3 0.5M445.8 208.8l-1.2 0.7M443.1 205.7l-0.8 1.1M446.2 200.4h0M444.9 202.0l0.3 0.9M445.1 206.4h0M441.0 218.2l-1.4 1.9M441.4 219.3h0M439.2 220.7h0M446.7 212.3h0M441.6 220.2h0M433.9 219.1h0M442.5 212.1l1.7 0.7M444.5 217.3l-1.8 0.4M442.0 211.2l1.6 0.8M438.5 214.9l0.3 0.5M447.5 210.9l-0.6 0.2M435.8 237.1l-0.1 1.0M439.0 233.7l-0.4 0.5M441.6 233.2l-0.2 1.4M439.2 233.4l0.8 1.1M441.5 239.0h0M432.7 235.4l-0.6 0.2M440.8 251.3l-0.4 0.4M440.5 250.5l-0.3 1.8M441.3 247.8l0.1 0.6M435.3 249.0l1.8 1.5M439.0 247.7l1.2 1.3M437.5 247.1l1.4 2.0M440.2 248.7h0M434.1 247.3h0M441.8 254.4l-0.9 0.4M441.1 254.1l-0.6 0.0M435.4 242.9l0.4 0.4M440.6 254.3l2.2 0.9M440.4 242.5h0M438.4 255.7h0M440.5 248.7h0M438.7 246.9l2.2 1.0M444.8 242.6l1.2 2.1M438.8 252.9h0M441.6 253.5l-1.1 2.1M436.8 247.8h0M433.9 248.8h0M442.7 239.2h0M437.3 240.3l2.1 1.2M442.5 252.8l-0.8 0.6M442.8 239.5l-0.6 0.1M441.2 247.5l1.3 1.3M442.0 255.9l-1.1 0.9M438.8 245.6l-1.4 0.1M443.2 256.3l1.7 0.6M440.1 257.0h0M447.8 257.9l0.7 1.6M441.6 262.3l0.4 0.5M444.6 257.1l-2.1 1.1M439.8 257.3l0.6 0.1M446.7 260.9l-1.0 0.1M438.4 257.9h0M443.0 257.3l-0.7 1.2M441.3 261.8l0.3 0.9M440.9 263.5l0.8 0.6M442.7 256.6l-0.4 0.4M440.3 262.3l2.4 0.2M442.1 262.1l0.0 1.0M442.2 262.0h0M478.3 312.4l1.0 0.1M477.2 312.0l1.1 1.4M474.1 315.2l1.7 0.5M472.6 315.0l-0.2 1.8M466.0 315.1l1.8 1.6M474.2 315.3h0M471.8 315.6l-1.8 1.6M474.1 313.8l-0.3 0.5M475.1 317.5l-0.3 0.5M474.2 318.1h0M473.4 319.2l-2.4 0.4M475.7 317.3h0M473.6 317.1l-1.4 0.4M468.3 315.4l2.1 1.2M476.3 315.7l-0.6 2.3M472.4 319.5h0M475.0 317.5l0.7 1.7M468.7 316.7h0M473.9 315.9l-1.9 1.5M476.6 316.7l0.9 1.6M475.2 314.5l-0.6 0.0M473.9 313.3l1.2 0.7M477.2 324.5h0M484.1 326.9l-0.8 0.6M474.9 324.9l0.5 0.9M477.6 320.0l0.4 0.5M481.5 325.5l-0.2 1.4M476.4 327.7l0.7 0.7M476.4 318.7l-0.1 1.0M484.9 331.1l0.4 0.5M476.2 328.6l-0.1 1.8M484.2 331.3h0M478.2 319.8l1.0 1.0M481.1 330.1l-0.1 0.6M486.2 329.0h0M483.2 330.1h0M479.8 320.4l-1.2 0.8M483.5 334.1l-1.0 0.1M485.6 335.0l-1.0 1.5M478.6 316.1l0.6 1.7M482.4 321.4l0.2 0.6M478.9 319.9l-0.5 0.8M478.3 327.7h0M488.4 333.9l0.6 0.1M478.2 321.6h0M483.5 332.7l1.6 1.8M488.4 326.1l-0.1 1.0M489.1 334.0l-0.1 0.6M485.5 334.2h0M484.9 323.3l1.7 1.7M482.2 326.7l0.5 0.4M478.0 325.0l1.0 0.2M480.3 333.3l2.4 0.2M476.7 324.2h0M475.3 323.8l-0.6 0.8M491.5 326.3l-2.4 0.1M486.0 328.5l2.4 0.3M487.6 331.1l0.5 0.2M478.8 320.0l0.3 0.9M486.5 335.3l1.3 0.5M483.6 333.2h0M487.4 329.0l-0.5 0.4M489.4 328.6l1.6 1.8M481.6 329.3l-0.3 0.5M482.4 330.3l-0.4 0.4M478.7 321.3h0M476.8 321.8l1.6 0.8M480.8 336.9l-0.4 1.8M479.0 320.6l0.9 2.2M480.8 326.8l-0.6 1.7M485.9 332.7l0.3 1.0M491.5 339.4l1.3 0.4M489.7 346.1h0M485.9 337.1l-0.6 0.2M496.3 340.9l-2.4 0.0M495.0 341.8h0M493.9 339.1l-0.6 0.2M494.3 343.3l-0.3 1.4M490.1 345.0l1.0 0.0M491.5 345.3h0M499.4 345.1l-0.6 0.1M486.8 339.2l0.5 0.3M487.4 342.3l-0.2 0.6M493.7 339.9h0M499.7 338.7l-0.3 2.4M492.1 341.5h0M496.4 336.5l0.1 1.8M492.7 335.1h0M490.3 342.0h0M486.6 337.7l-0.1 0.6M491.2 335.3l0.2 1.8M493.9 346.8l-1.4 1.1M487.6 345.1l0.4 0.5M486.7 343.3h0M497.0 341.4l-0.8 0.5M489.1 341.0l-1.0 2.2M492.2 338.8h0M495.8 344.0l-0.2 1.0M493.0 345.4l0.7 0.7M490.2 335.5h0M493.8 348.6l0.1 0.6M491.5 343.8l0.9 0.5M491.1 338.9h0M490.4 339.5h0M496.4 352.1l1.4 0.2M501.1 360.7h0M499.6 347.2l0.6 0.1M499.9 345.3l-0.7 1.7M507.1 356.5l-1.4 0.1M497.4 360.2l-0.3 1.8M502.3 356.6l0.6 0.1M497.8 349.7h0M497.1 354.3l0.2 1.0M496.3 348.2l1.2 0.8M498.3 352.1l0.1 1.0M501.7 359.1l0.9 0.4M500.5 358.5l1.0 1.0M508.2 355.9l-2.2 0.9M503.1 357.4l0.5 2.3M495.0 355.7l0.8 2.3M498.6 356.0l1.9 1.5M502.9 360.2h0M503.0 355.8l0.2 1.4M503.5 356.6l-0.4 0.4M497.5 351.0l-1.1 0.9M502.5 355.4l-1.7 0.6M499.6 358.6h0M502.2 355.4l2.4 0.3M495.9 349.3l-0.4 0.5M501.3 353.3h0M499.1 347.1l-0.5 0.3M503.2 355.3h0M504.1 357.0l-0.7 1.7M497.0 348.9h0M493.5 349.8h0M498.6 347.5h0M499.8 350.6l1.4 0.3M498.2 354.8h0M490.9 352.3l-0.4 0.9M503.0 352.4l0.4 1.4M503.5 355.1h0M503.0 350.2l0.9 0.4M510.1 361.8h0M507.8 359.8l-0.2 0.6M507.6 362.4l2.4 0.4M504.9 361.3l1.5 1.0M516.7 361.1l-0.7 0.7M508.6 361.1l1.6 0.9M502.8 361.6l1.2 2.1M515.2 357.7l-2.0 1.3M506.0 361.6h0M509.7 362.4l-2.0 1.4M508.8 357.9l-0.1 0.6M519.1 361.7h0M505.0 359.4h0M507.6 359.9l-1.3 1.2M506.4 361.2l-1.2 0.8M510.8 363.8l0.6 0.2M506.5 357.9l-1.9 1.4M507.2 358.3h0M511.6 354.6l-0.1 2.4M511.2 361.7l-1.8 1.6M507.1 357.7h0M509.8 358.6l0.1 1.0M535.6 362.1h0M548.8 363.6l1.7 0.4M431.0 172.4h0M442.9 169.9h0M431.6 167.5h0M432.5 169.3l-0.2 1.4M433.8 176.5l-0.1 1.8M436.3 173.8h0M434.0 173.9l-1.2 0.7M434.1 172.2l2.4 0.4M440.5 174.3h0M445.4 177.4l-1.0 0.3M443.4 170.3l0.5 0.4M439.6 168.1l1.1 0.8M445.1 172.1h0M440.3 179.8h0M442.6 173.2l2.4 0.2M445.3 172.9l-0.1 0.6M447.2 183.3h0M440.4 174.6h0M447.7 181.9l1.2 0.8M430.5 171.1l2.1 1.2M429.3 176.7l1.5 1.0M435.0 169.1h0M434.4 178.0l1.7 0.6M438.4 169.4l-0.1 1.4M433.0 175.4l0.5 1.3M439.4 178.2l0.7 0.7M441.8 173.7l0.4 0.4M443.0 175.1l-1.8 0.2M448.1 177.5l-1.7 0.6M447.9 172.5l-1.8 0.3M435.1 170.7l0.9 0.3M435.2 171.7h0M435.7 174.5l1.0 1.5M435.3 172.4l-0.9 1.1M444.1 176.4l-0.6 0.1M439.9 172.6l-0.6 0.1M433.9 174.4l0.1 0.6M440.4 177.8h0M437.1 170.1h0M434.1 174.9h0M436.6 168.8h0M444.1 168.1l-0.2 0.6M434.6 173.7h0M437.6 173.7l0.5 0.9M436.4 175.2h0M431.0 176.0h0M440.1 176.4l-2.2 0.9M440.3 170.3h0M437.9 179.8l-0.5 0.4M442.3 173.8h0M440.8 174.3h0M445.3 170.9h0M440.7 175.8h0M437.0 167.1h0M437.9 175.0h0M441.8 170.0l1.4 0.3"/>
<path stroke="#94504a" stroke-opacity="0.75" d="M417.2 76.3l0.6 0.1M418.9 78.8l-1.7 0.6M409.7 90.9l-1.7 0.5M401.7 70.8l0.6 0.8M397.3 71.9h0M396.8 71.2h0M411.6 76.5h0M417.4 65.2l0.5 0.3M400.8 92.4l0.6 0.2M400.6 66.2l0.8 1.1M410.8 74.4l-1.0 1.5M393.3 67.8l1.7 0.5M409.4 82.3h0M395.8 81.2l-2.4 0.5M405.3 90.1l2.3 0.7M401.4 64.0h0M391.9 66.6h0M415.2 69.9l0.3 0.5M418.1 95.0l1.3 0.6M399.8 77.3h0M411.2 80.8l-1.0 0.1M404.6 67.5l-1.3 0.4M408.9 84.2l-0.4 1.8M390.4 78.0h0M376.7 79.0l1.9 1.4M386.5 95.1l2.4 0.1M389.6 88.3l-1.7 0.5M375.4 75.6l-1.0 1.5M379.1 82.5l-1.6 1.8M392.6 88.5l0.4 0.5M380.4 69.3l2.1 1.2M389.5 83.6h0M374.7 96.9l0.5 0.3M371.4 93.4h0M389.1 82.2l-0.3 2.4M378.3 84.9l0.6 1.7M376.6 91.5l1.0 1.0M380.5 88.0h0M393.1 68.6l0.5 0.4M421.7 94.3l0.4 0.9M399.9 107.4l0.6 1.2M396.5 105.4l-0.1 1.0M416.0 102.2h0M411.6 91.6l0.8 1.1M427.7 104.6h0M407.7 93.4l1.3 0.6M397.3 112.6l1.1 0.9M418.0 100.8l-0.4 1.3M410.4 114.4l-2.3 0.8M403.7 99.1l-0.1 2.4M395.9 96.0h0M411.6 121.0l0.1 1.4M408.9 114.1h0M414.2 113.2h0M424.2 116.4h0M420.3 99.9l2.4 0.4M408.3 104.9h0M420.4 95.3l-0.7 0.7M425.4 108.8l-1.0 0.3M395.2 94.5l2.4 0.5M395.8 94.0l1.0 0.9M416.9 116.1h0M415.3 105.8l-0.1 2.4M413.0 115.0l-2.4 0.4M405.9 116.1h0M419.3 130.7l-2.4 0.3M420.0 123.8l1.8 0.2M420.8 129.4l0.6 0.1M405.4 115.0h0M412.6 121.5h0M418.9 112.8l-0.6 0.0M419.6 126.8l-0.2 1.0M407.1 116.4l0.6 0.2M413.7 112.8l-2.0 1.4M422.8 110.9h0M430.0 108.2l0.1 0.6M424.5 114.2l1.7 0.5M433.3 101.1l-0.9 0.4M436.6 105.7l-2.4 0.2M430.1 103.8l-0.0 0.6M425.7 106.8h0M517.4 100.6l2.3 0.8M505.9 98.2l0.9 0.4M502.5 100.7l-1.3 0.6M521.4 84.2l-1.8 0.3M517.3 100.5l0.5 1.3M505.2 91.3l0.2 1.4M502.3 87.3h0M513.3 81.8l1.3 0.5M508.2 103.0l0.5 0.3M509.1 82.7l-1.6 0.9M522.3 94.5h0M501.1 95.6h0M509.7 94.7l0.5 0.3M513.1 97.1l1.3 0.5M521.5 84.8h0M501.2 83.2h0M502.8 93.8h0M506.9 91.5l0.6 2.3M516.7 84.0l-0.6 0.1M517.0 101.5h0M500.4 95.2h0M505.8 98.6l-0.4 0.4M535.1 103.9h0M529.9 124.8l0.6 0.1M538.7 120.4l0.3 1.0M513.4 110.0h0M516.8 106.5l0.6 0.0M516.2 121.3l-0.2 0.6M528.0 114.7l-1.8 0.4M520.2 96.3l0.3 1.8M520.2 103.9h0M528.2 97.5l2.4 0.2M516.4 112.0l1.3 0.6M520.8 94.9h0M464.4 123.7h0M466.0 125.3l0.7 2.3M465.7 124.1l-0.8 1.1M350.9 86.3l-0.7 0.7M538.7 128.3h0M539.0 128.7l1.0 1.0M539.3 418.8h0M544.4 424.0l1.0 0.2M549.0 427.1l-0.5 1.7M548.5 430.5l2.0 1.4"/>
</g>
<g filter="url(#sf)" fill="none" stroke-linecap="round" stroke-width="1.4">
<path stroke="#86e04c" stroke-opacity="0.7" d="M1371.2 98.2l-2.2 1.0M1360.7 99.6h0M1320.2 66.0l0.9 0.3M1312.6 54.9l-1.6 1.8M1314.3 64.2l0.9 0.4M1373.0 104.4l0.3 0.5M1362.8 92.0l1.0 1.0M1365.4 97.3l0.8 0.6M1315.3 53.7h0M1359.2 111.4l0.6 0.0M1316.5 56.8h0M1355.8 103.7l-0.1 1.4M1319.8 53.8l-0.3 0.9M1317.3 59.6l-1.3 0.6M1320.0 53.5h0M1361.7 108.1l-0.9 0.3M1321.0 59.4l-0.4 0.9M1369.4 101.2l-0.9 0.4M1364.8 107.8l-0.2 1.0M1319.6 52.7l0.5 0.3M1369.7 103.4l-1.4 0.0M1314.1 59.0l-1.0 0.2M1366.0 109.5l-0.5 0.9M1364.4 105.8h0M1355.2 106.8h0M1358.6 106.9l1.5 1.1M1374.1 100.0l-1.4 0.2M1361.4 101.6l0.1 2.4M1354.4 101.5h0M1311.7 57.8l1.8 1.6M1318.8 47.7l-0.6 0.2M1315.9 51.3l-0.4 2.4M1307.5 55.4h0M1315.5 53.9l-0.3 0.5M1363.3 108.0l-0.3 0.5M1366.9 105.3l0.5 0.3M1356.5 99.0l0.3 0.5M1364.4 106.7l-0.5 0.9M1317.1 58.5l2.2 0.9M1312.5 58.8l1.7 0.5M1331.4 201.1l-1.8 0.2M1324.2 203.9l1.0 1.5M1325.5 208.8l0.7 1.7M1331.2 202.7l-0.0 1.4M1319.2 206.2l1.0 2.2M1325.7 204.9h0M1329.7 210.7h0M1325.6 208.0l-2.3 0.7M1321.5 201.4l0.4 1.8M1325.8 209.0h0M1327.6 200.5l-1.1 0.9M1325.9 209.6h0M1324.6 203.1l1.7 0.5M1318.8 208.8l2.4 0.1M1323.2 208.6l-1.7 1.7M1327.4 216.6l-0.5 0.3M1329.1 219.7l0.2 1.0M1322.0 222.6l-1.7 0.7M1326.1 211.1l-0.0 0.6M1318.0 221.2l0.9 0.5M1321.6 221.5l-1.6 0.7M1321.3 209.6h0M1325.0 214.8h0M1322.7 210.4l1.1 0.8M1316.8 213.2l-0.9 0.5M1319.0 217.1h0M1322.8 212.9h0M1324.6 213.0h0M1324.1 211.3l1.8 0.2M1320.4 216.6l0.8 0.6M1321.0 238.2l-1.0 0.3M1319.1 236.2l2.4 0.5M1317.4 238.7h0M1325.0 232.3l-1.8 1.6M1319.5 238.6l-0.6 0.1M1321.0 235.3h0M1321.3 238.0l0.4 0.4M1317.0 249.3h0M1319.3 243.9l-1.0 2.2M1319.1 253.3l-2.4 0.4M1319.0 249.1h0M1319.1 253.4l1.7 1.7M1316.9 249.9h0M1314.0 241.5l0.8 0.6M1317.3 239.7l0.1 0.6M1319.1 244.9l-2.1 1.2M1319.8 241.9l-1.4 1.1M1312.7 249.8l0.5 0.4M1320.8 254.5l-0.1 1.0M1322.6 248.4l-2.4 0.3M1317.9 246.2l0.6 0.2M1318.8 241.8l1.9 1.5M1322.4 246.4l1.0 0.1M1321.2 246.5l1.8 0.3M1323.4 272.2l0.4 0.4M1320.2 260.5l-2.4 0.1M1326.4 269.0h0M1318.3 266.5l-1.5 0.9M1321.4 256.8l0.7 0.7M1315.5 262.4l1.5 1.1M1324.4 260.4l-0.5 0.4M1324.8 261.1l-1.1 1.4M1321.9 260.1l2.0 1.3M1321.4 257.1h0M1316.3 283.4l0.1 0.6M1321.8 278.1l0.9 0.4M1319.9 276.8l2.2 1.0M1326.3 280.9l-0.2 1.8M1329.0 281.5l-0.3 0.5M1329.1 278.4l-0.2 0.6M1322.9 275.6l2.3 0.7M1323.1 287.8l0.4 0.9M1322.0 288.2h0M1329.9 289.2l1.0 0.3M1323.7 290.5l-1.7 0.5M1326.3 289.9h0M1325.0 292.4h0M1334.7 292.1l-1.7 1.7M1329.2 301.2l-1.0 0.9M1333.5 299.9h0M1328.2 291.6l0.1 1.8M1327.6 295.9l0.2 0.6M1331.3 293.7h0M1330.6 294.1h0M1330.9 295.3l-0.7 1.7M1331.9 296.5l2.2 0.9M1333.5 298.5l-0.2 1.8M1324.1 298.7l0.5 1.3M1332.2 299.4l-0.3 1.0M1332.1 296.7l0.1 0.6M1326.2 292.5l1.1 1.4M1334.2 294.8h0M1329.2 298.0l-1.8 0.2M1331.8 295.8h0M1326.6 296.9l0.3 1.0M1345.5 296.2l0.1 0.6M1344.3 302.4l1.1 2.2M1341.9 304.6l0.5 0.9M1342.9 306.1l0.9 0.4M1346.0 301.3l-1.1 1.4M1337.9 299.5l-0.6 0.1M1342.0 311.3h0M1343.7 305.7l0.2 0.6M1343.3 304.0l1.5 1.9M1343.5 304.7l1.1 1.5M1339.0 304.1l1.4 0.4M1341.3 305.2l-1.4 0.3M1337.9 307.3h0M1341.9 302.2l0.6 0.2M1340.1 299.8h0M1340.9 302.4l0.3 2.4M1340.2 300.4l-1.8 0.3M1340.2 305.6l0.9 0.5M1342.6 298.9l-1.3 2.0M1339.4 304.3h0M1335.8 297.9l1.0 1.5M1338.6 296.7l-1.3 2.0M1344.7 308.0l1.0 0.2M1337.8 301.4l0.4 0.9M1342.5 307.4h0M1344.5 299.9l1.3 0.6M1342.4 309.9l-0.5 1.7M1335.5 298.4l-0.2 1.4M1348.3 300.9l-0.2 2.4M1348.9 313.4h0M1357.3 311.3l-0.8 1.6M1349.7 310.8l-1.6 0.8M1351.7 306.4l-0.6 0.0M1351.5 313.2l0.5 0.4M1351.6 309.0h0M1348.3 311.5l-0.5 1.3M1347.4 314.5h0M1348.8 311.9h0M1349.9 314.4l0.5 0.8M1349.7 315.0h0M1346.8 311.7l-1.7 1.7M1355.9 311.8h0M1350.1 310.9h0M1348.8 317.7l1.8 1.6M1349.6 306.8l0.3 0.5M1346.4 313.4l1.4 0.1M1353.0 317.4l0.5 0.9M1349.0 315.3h0M1351.8 307.9h0M1351.8 313.4l0.3 0.5M1349.4 311.7l-1.8 1.6M1349.0 312.1l-1.4 1.9M1348.7 309.3l1.7 1.7M1351.4 316.8l-1.8 0.3M1346.9 311.4h0M1348.4 311.2l0.3 0.9M1349.1 316.5l-0.8 1.1M1350.6 314.0l1.0 1.0M1358.4 320.0h0M1360.1 327.7h0M1357.2 320.1l1.9 1.5M1368.1 334.7l-0.4 0.5M1358.0 326.1l-0.7 0.7M1364.3 329.6h0M1360.8 329.4l-0.8 1.1M1360.5 329.6l2.1 1.1M1363.9 334.8h0M1355.7 318.2l0.1 1.8M1366.5 327.9h0M1361.7 334.2h0M1362.1 316.4l0.1 0.6M1367.6 326.6l-0.8 1.6M1356.4 325.7h0M1362.0 326.4l-0.3 0.5M1360.1 333.6l1.7 0.6M1357.5 327.7l-1.6 0.9M1354.4 320.7h0M1362.3 332.4h0M1368.0 334.4l1.4 0.3M1359.4 324.7h0M1362.7 333.1h0M1366.7 328.6l0.2 1.0M1354.5 325.0h0M1357.7 326.9h0M1363.2 334.7l0.5 1.7M1358.0 318.2l1.4 1.1M1373.3 332.5l2.1 1.1M1375.2 340.4l-0.1 1.8M1370.7 335.4l-0.8 0.6M1369.2 339.1l0.5 0.3M1377.3 337.6l0.5 1.7M1370.8 340.4l-2.1 1.1M1372.9 341.0l0.2 0.6M1369.7 337.9l-0.1 0.6M1372.3 338.7h0M1377.9 345.3h0M1374.8 340.7h0M1380.3 343.5l-1.4 1.1M1372.0 341.0l-0.4 0.9M1367.8 336.0l-0.9 0.4M1374.0 339.2l0.9 0.5M1367.3 343.5l2.4 0.1M1372.3 339.8h0M1371.6 341.5l-1.0 1.0M1377.5 345.4l0.4 0.9M1376.2 341.2l-0.5 0.9M1377.0 345.1l-0.7 1.2M1372.1 344.3l2.2 1.0M1375.8 340.4l1.0 0.2M1364.5 337.4l2.3 0.6M1372.9 333.3l-0.6 0.1M1373.4 340.3l0.6 0.8M1372.9 340.0l-0.7 1.7M1378.7 352.8l-0.6 0.1M1380.6 352.9h0M1376.0 359.1l-0.6 0.1M1378.9 347.9h0M1383.1 354.1l1.5 1.0M1379.7 355.4l0.8 1.6M1383.3 344.4h0M1374.1 348.3l2.1 1.1M1379.4 356.0h0M1382.3 358.5l0.1 2.4M1380.7 351.1l1.3 0.6M1378.3 347.3l-1.9 1.5M1378.6 353.0l0.8 1.6M1378.4 353.7l0.6 1.3M1383.3 353.5l-0.4 0.4M1378.8 357.2h0M1383.0 359.0h0M1376.7 353.6l-0.5 1.3M1374.0 349.0l0.6 0.2M1380.6 354.9l-0.2 1.4M1387.4 353.0l-2.4 0.4M1375.4 348.0l0.8 1.6M1389.9 367.9l-1.1 2.1M1386.6 363.3l-0.3 1.0M1387.7 356.7l-1.0 2.2M1394.5 362.0l-1.4 1.1M1389.5 358.5l-0.9 0.5M1385.9 358.3l1.4 2.0M1385.7 361.9l-0.1 0.6M1390.5 362.0l-0.1 2.4M1391.1 369.8h0M1392.7 365.7l1.8 0.2M1386.0 360.6l1.0 0.2M1386.8 362.6l-0.5 2.3M1388.5 359.7l-1.0 0.3M1382.4 363.7h0M1386.8 363.4l0.5 0.4M1393.0 357.0h0M1384.2 360.4h0M1384.8 361.6h0M1392.5 366.6l-0.5 0.3M1384.9 361.9l-0.6 0.8M1390.3 364.2l0.1 0.6M1393.5 363.9l1.7 0.7M1391.0 362.4l-0.4 1.3M1385.9 360.1h0M1399.2 371.2l-0.5 0.4M1397.9 372.3h0M1400.2 372.0l-0.2 0.6M1396.5 366.6h0M1397.1 369.2l0.1 1.0M1397.1 369.1h0M1401.9 372.6h0M1395.5 373.3l-0.2 0.6M1406.9 374.2h0M1405.8 370.8h0M1405.6 371.5h0M1409.2 365.3l-1.4 0.3M1402.9 373.4l-0.4 0.9M1406.0 373.9l0.6 0.2M1403.7 372.1l1.6 0.8M1409.2 368.4l-1.6 0.9M1402.8 370.8l2.4 0.2M1414.9 366.6l-1.3 2.0M1418.9 366.2l0.8 0.6M1415.4 364.8l0.1 1.4M1422.6 367.8l-2.3 0.7M1417.2 365.4h0M1414.2 368.0l0.2 0.6M1412.9 371.0h0M1419.5 365.3l0.3 0.5M1414.4 364.0h0M1418.9 367.6l-1.7 1.6M1419.9 361.0l0.2 1.0M1431.7 367.0l-2.2 0.9M1426.2 368.5l1.0 0.0M1424.0 365.9l2.4 0.1M1426.0 369.1h0M1425.8 366.5h0M1430.4 369.1l-0.9 0.5M1421.0 369.6l-0.7 1.7M1420.7 368.1l1.0 0.1M1432.0 376.2l-0.1 2.4M1431.0 372.9l-0.6 0.0M1432.7 376.6l1.2 0.7M1431.3 377.9l-1.4 0.2M1430.4 370.4l-1.0 0.0M1431.0 369.6h0M1433.4 375.2l-1.0 0.9M1432.5 374.9h0M1430.3 372.0h0M1426.0 373.9l0.5 0.4M1433.3 378.6l-0.0 0.6M1431.2 378.9h0M1431.9 381.5l2.4 0.4M1431.2 378.3l-0.0 1.4M1428.1 386.3l-2.3 0.7M1430.1 385.0h0M1429.3 387.5h0M1427.4 383.1l-0.6 0.0M1429.4 380.2h0M1428.2 383.3l1.0 0.0M1431.4 384.4h0M1424.1 393.4l-0.2 0.6M1428.7 391.5l1.4 0.1M1423.9 389.9l0.9 1.5M1427.4 387.2l0.6 0.1M1421.8 392.0h0M1426.9 386.5l-1.2 0.7M1422.3 394.8l0.9 1.6M1424.4 390.5l0.0 1.4M1428.3 392.0l-2.0 1.4M1425.4 391.6l-0.4 0.5M1420.3 400.1l-1.0 1.0M1420.5 397.7h0M1421.2 398.7l-1.3 2.0M1424.4 397.2l-0.4 1.3"/>
<path stroke="#c6e84a" stroke-opacity="0.64" d="M1336.2 88.9l0.5 1.3M1378.2 100.2l-0.1 1.0M1344.9 73.8h0M1308.2 45.0l-1.4 0.3M1300.5 48.8l-0.1 0.6M1335.3 88.6h0M1349.2 75.6h0M1353.7 82.7l0.8 1.6M1303.8 55.9l0.1 1.8M1335.0 83.9h0M1298.4 51.0h0M1369.7 78.2l-1.8 0.4M1374.1 61.0l-1.6 0.8M1350.7 72.8l1.4 0.4M1336.9 91.2l-0.6 0.1M1308.9 86.7l0.6 0.1M1354.2 97.9l-1.8 0.1M1358.9 68.8h0M1332.2 86.6l-1.4 0.2M1334.7 90.8l0.8 1.1M1361.1 82.8l-2.0 1.4M1350.2 117.2h0M1335.1 89.1l-1.6 0.9M1306.1 51.6l1.1 2.1M1371.0 75.6l-1.4 1.2M1338.3 85.3h0M1332.4 92.5l0.5 0.4M1394.0 63.7h0M1348.5 71.4l1.0 0.1M1341.9 93.2l-0.1 1.4M1403.4 68.9l-1.6 0.7M1318.4 46.3h0M1358.0 79.9h0M1324.5 49.1l1.3 0.4M1376.9 93.5l1.5 1.1M1297.2 57.5l1.5 1.0M1347.8 78.3l0.6 0.2M1299.6 55.2l1.8 0.2M1335.5 92.0l1.5 1.0M1317.7 69.4l-0.7 0.7M1334.4 85.3h0M1330.9 100.1l2.1 1.1M1342.6 88.6h0M1308.3 49.2l-0.1 0.6M1341.7 93.1h0M1305.2 43.3l2.3 0.8M1356.6 72.7l-0.1 0.6M1381.9 70.3l-0.1 1.0M1302.3 51.3l0.8 0.6M1361.1 86.6l-1.1 0.9M1339.8 75.2h0M1323.4 89.9l-1.7 0.4M1362.5 101.4l-0.6 0.1M1338.6 96.6l0.6 0.1M1334.8 93.7l0.5 0.3M1367.6 46.1l1.3 0.5M1359.4 89.6l0.6 0.0M1309.4 52.3l0.5 0.3M1359.0 51.7l2.4 0.3M1348.6 81.8h0M1373.3 74.3l0.6 1.3M1349.8 91.0l-1.8 0.1M1301.8 60.3h0M1337.1 89.4h0M1300.3 51.0l0.6 1.3M1345.6 81.9h0M1322.9 43.0l-1.8 1.6M1336.7 85.7h0M1355.4 64.5h0M1337.4 86.8l1.8 0.4M1341.7 97.5l0.2 0.6M1325.1 95.9h0M1307.2 83.7l-0.9 0.5M1338.7 95.6l0.3 0.5M1337.6 115.7l0.4 0.4M1325.9 97.7l-1.4 0.2M1298.1 57.4l-2.4 0.2M1359.6 69.7h0M1308.5 45.6h0M1341.4 73.9l0.6 1.3M1335.2 65.4l1.3 0.5M1371.3 49.2h0M1312.4 59.3l-1.1 0.9M1362.8 103.6h0M1301.2 64.1l0.1 1.0M1302.3 42.4h0M1347.9 105.0h0M1343.9 90.0l-0.7 1.7M1307.7 57.8l0.6 0.2M1375.8 90.9h0M1378.1 53.6l0.6 2.3M1374.0 79.3l0.3 0.5M1331.2 49.5h0M1348.2 73.2l-0.4 0.4M1310.2 46.7h0M1305.3 52.5l0.9 0.3M1360.6 81.4l-0.1 1.4M1341.8 88.8l-1.7 0.5M1348.2 79.1l2.3 0.8M1310.0 49.8l-1.8 0.4M1374.0 89.6l-2.4 0.1M1344.4 80.5l-1.0 2.2M1315.8 46.0h0M1313.5 49.4l2.2 1.0M1303.1 54.4l-2.0 1.4M1357.5 90.8l0.6 1.7M1353.9 84.2l0.8 1.1M1355.6 84.0l-0.1 0.6M1373.5 101.1l-1.2 1.4M1328.6 82.2h0M1310.4 47.6h0M1302.3 48.7l1.5 1.0M1309.4 48.3h0M1346.2 80.1l1.0 2.2M1363.2 88.4l-1.0 0.1M1368.3 81.8h0M1353.9 84.6l0.9 2.2M1339.7 85.1l2.1 1.1M1299.5 54.8h0M1313.5 54.1l0.7 0.7M1300.3 59.2l1.2 2.1M1309.3 55.2l-0.9 0.4M1342.8 81.7l0.4 0.4M1345.6 104.0l0.6 1.3M1348.3 97.5h0M1338.8 89.9l-1.8 0.4M1318.3 54.1h0M1339.6 73.7l2.1 1.1M1322.0 47.5l-0.1 0.6M1374.2 63.7h0M1374.0 98.9l-1.5 1.0M1351.9 73.2l1.7 0.6M1320.2 56.3h0M1351.7 114.0l1.2 0.7M1304.7 45.9l-1.0 0.2M1356.4 88.6l-1.6 0.8M1342.5 39.9l0.8 0.7M1345.8 92.4l-0.8 2.3M1358.2 84.7l-0.2 0.6M1306.3 43.8h0M1305.5 46.0l-1.8 1.6M1353.4 100.3l1.8 0.2M1304.7 49.3l0.4 2.4M1301.1 58.0l0.1 1.4M1331.2 95.3l0.8 0.6M1302.2 51.3l1.3 0.5M1346.7 117.7h0M1317.5 43.2l-2.3 0.5M1393.5 60.1l0.1 1.4M1299.7 59.3h0M1347.0 92.7h0M1321.7 53.4h0M1363.3 107.5h0M1300.3 51.2l-0.4 1.3M1349.3 91.7h0M1342.4 98.7l-1.6 0.8M1359.7 85.1l-0.8 1.6M1334.7 84.5l0.8 0.6M1343.3 95.7h0M1339.5 79.6h0M1341.6 107.0l-1.4 1.2M1349.5 85.9l-0.9 0.4M1331.6 88.2l-2.4 0.2M1360.2 56.0l1.0 0.3M1307.0 67.0l-0.4 2.4M1363.7 93.1h0M1307.1 60.9l0.0 1.0M1356.0 89.7l-1.2 0.8M1302.0 55.3l-0.2 2.4M1337.8 84.7l0.5 0.3M1310.1 51.9h0M1344.5 98.3l0.8 1.6M1320.2 54.3h0M1307.0 50.0l0.4 0.5M1312.0 47.2l0.6 0.2M1308.9 42.3l1.7 1.7M1319.1 69.7h0M1325.4 92.6l0.4 2.4M1312.4 46.5h0M1313.3 56.8h0M1337.0 87.9l1.0 1.5M1348.1 94.5l0.5 1.7M1340.8 93.3h0M1363.1 88.8h0M1332.3 85.6l-1.9 1.5M1350.9 78.6h0M1348.0 111.8l1.0 0.1M1316.8 51.6h0M1301.8 52.3l-0.6 0.1M1372.9 75.1l1.7 0.7M1316.4 46.8l-1.0 1.0M1303.7 43.6l-0.7 0.7M1330.5 81.1l-0.7 0.7M1357.2 83.4l1.0 1.5M1355.1 91.3l0.4 0.5M1302.2 51.0l-2.2 1.0M1357.7 80.4l-0.9 0.4M1351.5 78.4h0M1313.5 45.6l-0.2 1.0M1349.1 72.1h0M1338.7 92.7l-1.7 0.5M1298.5 63.1h0M1375.7 57.8l0.5 0.3M1350.8 82.9l1.7 0.4M1300.7 47.0l-1.8 0.1M1323.0 50.5l0.5 1.7M1296.0 55.4l2.1 1.2M1362.8 94.6l0.2 0.6M1340.8 75.7h0M1309.9 57.9h0M1344.3 76.1h0M1348.0 94.1l-0.9 1.6M1358.0 78.3l1.8 1.6M1347.8 91.7h0M1354.6 96.1l-0.4 0.9M1355.9 68.3l1.0 0.2M1359.4 83.6l0.5 0.3M1346.1 94.2l0.8 2.3M1318.3 74.4l-1.2 0.7M1355.6 93.6h0M1348.1 90.4h0M1342.5 92.7l-2.3 0.7M1310.9 50.5l0.6 1.3M1344.0 116.0l-1.1 0.9M1321.7 90.1l-0.1 0.6M1309.4 46.9l-0.2 1.0M1357.0 60.8h0M1308.6 57.8l0.3 2.4M1343.2 64.6l-0.6 0.8M1390.5 60.7l1.0 0.3M1338.2 86.0l-2.4 0.4M1334.9 92.2l-1.7 1.6M1302.0 58.1h0M1348.7 110.8l1.0 0.2M1385.0 71.9l-2.2 0.9M1335.0 84.2l-0.6 0.2M1347.7 78.9l-1.7 0.6M1380.4 73.6h0M1340.7 76.8l0.1 1.4M1300.0 56.5l0.7 0.7M1297.6 57.3h0M1301.4 63.6l1.4 0.4M1346.6 87.9l1.4 1.1M1400.1 71.3l1.6 0.8M1313.7 49.1h0M1336.1 99.9l1.1 0.8M1321.0 49.7l-1.0 0.1M1316.0 51.1h0M1311.5 46.7l-1.1 1.5M1300.0 47.4l0.6 0.1M1297.7 49.7h0M1307.2 58.5h0M1301.7 61.2h0M1345.8 178.5l-1.4 2.0M1345.9 178.5l1.1 0.9M1336.2 187.7h0M1338.9 179.5l0.7 0.8M1335.8 185.2h0M1340.1 181.3l1.6 1.8M1341.7 180.5l-0.4 0.4M1333.6 192.3l-2.2 0.9M1337.8 190.9l-0.9 1.1M1332.4 187.8l-1.0 0.1M1334.8 192.4h0M1324.0 198.5h0M1325.7 208.4l-0.9 0.4M1330.3 205.7h0M1329.5 199.7l0.6 0.0M1334.6 198.2l1.4 0.1M1332.4 197.5l-0.9 0.5M1327.5 203.1h0M1323.5 205.9l1.0 0.3M1325.2 201.5l-0.6 0.1M1325.0 215.2h0M1324.2 209.7h0M1323.8 218.6h0M1323.0 217.3h0M1317.5 214.7l0.0 0.6M1321.7 211.0l-0.5 0.3M1324.9 215.2h0M1325.1 214.2l-0.5 0.2M1326.5 214.7l-0.2 1.0M1318.9 219.6l0.4 1.3M1319.2 217.1l-0.3 1.0M1325.7 220.3l0.6 0.1M1325.8 265.7l-0.1 1.0M1323.3 264.0l-1.0 2.2M1327.1 269.2h0M1325.7 263.9l-2.1 1.2M1323.5 269.3l0.9 0.4M1323.8 268.1l-1.5 1.0M1323.7 270.2h0M1320.3 262.5l1.6 0.9M1321.1 266.3l1.7 1.7M1323.4 264.5h0M1323.7 262.4l-0.5 0.3M1322.0 262.7l-1.5 1.8M1325.1 272.8h0M1322.8 265.7h0M1326.0 269.6l-0.4 0.5M1322.0 271.6h0M1322.7 284.7l-0.0 0.6M1321.9 280.0l-1.4 0.2M1323.1 273.0l-1.0 1.5M1322.7 284.4l-0.0 1.4M1324.8 278.7l-0.5 0.3M1316.4 282.3h0M1324.9 280.3l-0.8 0.6M1321.0 281.4l0.3 1.4M1320.0 275.9l-1.7 0.7M1325.2 279.4l-2.2 1.0M1327.4 274.1l-1.2 0.8M1327.4 273.6l-0.6 1.3M1323.5 283.0l0.1 1.4M1323.6 276.7l0.0 0.6M1321.1 274.9l0.4 0.4M1325.4 289.4h0M1322.7 285.3l0.0 1.0M1330.8 288.7l0.1 1.4M1326.4 291.4h0M1319.9 288.4h0M1322.3 289.0h0M1330.0 285.9h0M1319.2 290.3l1.2 2.1M1322.5 289.9l-1.1 0.9M1331.4 296.9h0M1325.7 294.1l0.6 1.2M1332.5 295.4l0.9 0.3M1332.3 290.3h0M1332.7 296.5h0M1334.7 296.3l-1.7 0.5M1329.8 296.0l-0.8 2.3M1329.0 299.0h0M1347.9 305.7l-2.1 1.2M1340.7 298.9h0M1343.1 308.4l0.6 0.8M1337.8 298.4l-0.5 0.4M1342.3 298.7l-0.6 0.8M1348.2 301.2l1.1 0.9M1339.4 305.8l-0.8 2.2M1339.9 292.8l0.5 1.7M1344.8 303.4l0.7 0.7M1336.6 300.7h0M1340.6 303.2l1.7 1.7M1339.6 297.1h0M1345.8 303.5l1.0 2.2M1339.2 297.2l-2.3 0.8M1334.9 307.4h0M1336.3 299.9l2.0 1.3M1356.7 311.7l-0.4 0.5M1357.2 311.8l0.6 0.1M1344.7 310.1l-0.6 0.2M1396.0 365.3h0M1389.4 367.5l-0.4 1.8M1392.6 364.3l-1.1 1.5M1390.1 365.9l-0.7 1.2M1390.1 367.2l0.4 0.5M1393.4 364.9h0M1391.1 364.7l-1.8 0.0M1395.6 363.8l-1.8 1.5M1379.8 364.5l1.1 1.4M1388.6 369.8h0M1396.3 370.9l-0.1 0.6M1397.3 374.4l1.8 0.1M1396.8 369.6l-0.6 1.2M1394.9 370.6h0M1400.8 370.3h0M1397.0 371.7l-1.0 1.0M1398.9 374.1l0.3 0.5M1394.9 367.8l0.6 0.2M1403.0 371.5l-0.9 0.5M1397.1 371.6h0M1402.6 371.1l0.6 0.8M1410.7 368.6l0.6 0.2M1408.5 373.3h0M1410.6 368.6l1.0 0.1M1402.7 372.1l1.3 0.4M1410.2 374.3l-1.7 0.6M1412.6 372.5l0.3 1.4M1408.3 368.2l1.2 0.7M1400.8 373.6l0.9 0.3M1411.5 370.6h0M1404.5 372.8l1.8 1.6M1411.0 368.1l-1.3 1.3M1404.9 375.1l-1.8 0.4M1402.0 371.2l0.2 1.0M1415.8 366.2h0M1411.3 365.7l-1.2 0.8M1420.2 364.0l-0.7 0.7M1417.8 369.5l-1.5 1.9M1420.9 365.4l0.6 0.1M1412.6 368.7l-0.3 2.4M1420.5 367.7h0M1413.2 371.3l1.7 0.6M1419.0 366.2l1.0 0.0M1413.7 367.3l0.4 0.5M1412.3 369.7h0M1420.7 365.8l0.4 2.4M1430.7 364.9h0M1426.7 369.9h0M1428.3 370.1l0.5 0.3M1430.1 367.5h0M1427.7 367.4l-1.6 0.8M1425.9 364.1l-2.0 1.4M1426.3 371.3l-2.3 0.5M1430.8 375.6l-0.4 0.5M1431.7 373.0l-0.5 0.4M1434.9 372.8h0M1432.5 369.0h0M1430.8 371.3h0M1432.9 370.1l-1.8 1.6M1432.2 374.3l1.5 1.9M1429.4 387.7l-1.0 0.2M1431.9 376.5l0.8 2.2M1431.4 384.2l0.0 1.8M1430.9 384.9l-0.1 1.0M1431.5 386.9l-0.5 0.3M1432.0 382.5l0.9 2.2M1429.7 385.5l1.3 2.0M1434.5 383.0l-0.2 0.5M1421.9 392.0h0M1425.9 387.8h0M1424.3 389.5l-2.3 0.7M1425.7 388.9l0.7 0.7M1424.5 392.9l0.5 1.7M1427.3 388.1l-0.9 0.5M1425.9 389.7l-0.9 1.1M1427.8 391.7h0M1425.0 393.9h0M1425.6 392.7l1.3 0.6M1421.4 395.8l-0.2 1.0M1417.8 399.1l-1.4 0.1M1415.5 400.0l-0.6 0.0M1418.2 394.4h0M1418.0 401.7h0M1416.9 398.0l-1.4 0.1M1416.9 394.6l1.8 0.3M1419.1 396.3l-1.0 0.2M1418.9 394.5l1.6 0.8M1420.2 394.8h0M1418.2 397.3l0.4 0.5M1416.1 394.6l-0.3 1.4M1423.8 395.8l-0.7 0.7"/>
<path stroke="#ecd534" stroke-opacity="0.64" d="M1392.1 66.3l1.4 0.1M1332.1 67.9h0M1328.5 55.4l-1.2 2.1M1340.2 53.6h0M1390.4 64.5h0M1333.1 63.1l0.5 1.7M1330.8 68.3h0M1344.2 67.1l1.3 0.5M1372.5 64.7l0.7 0.7M1333.0 49.8l-1.3 0.4M1360.7 70.8h0M1340.3 58.8l1.6 0.8M1303.9 65.1l-0.4 2.4M1315.8 75.7h0M1301.9 46.7l-0.0 0.6M1334.5 70.6l0.6 0.0M1326.4 49.6l1.8 0.4M1355.3 47.6l-1.6 0.9M1365.0 76.1h0M1373.8 44.1l-0.9 1.6M1336.7 59.5l-0.6 1.3M1372.9 49.3h0M1324.9 78.9l0.6 2.3M1358.2 61.3h0M1321.7 75.5h0M1376.5 46.2l0.2 0.6M1359.3 45.4l1.0 0.0M1338.0 73.5l0.4 1.8M1331.1 75.3h0M1340.4 52.2h0M1318.5 81.4l1.4 0.2M1343.4 73.9l0.5 1.3M1348.3 56.3l-0.0 1.8M1326.4 61.5h0M1348.5 83.6l0.3 1.4M1345.9 64.4l1.4 1.1M1351.3 78.8l-1.2 0.8M1328.5 90.0l0.8 1.6M1315.9 84.0l0.1 1.0M1318.3 59.4l0.9 2.2M1367.4 61.0l-0.9 1.0M1331.3 84.8l-1.1 0.9M1364.5 70.8h0M1362.3 68.4l0.5 1.3M1366.6 55.6l-0.6 0.1M1329.6 55.6l0.4 0.5M1335.8 66.4h0M1339.2 60.5l1.8 0.4M1354.0 66.8l0.2 1.4M1308.2 80.8h0M1360.4 49.4l0.6 2.3M1304.0 57.2l-0.4 1.4M1311.5 70.5h0M1352.7 73.9l-1.3 0.6M1316.3 85.8h0M1346.2 79.5l-0.5 0.4M1317.0 73.7l0.3 1.4M1323.9 86.9h0M1372.7 78.4l0.1 0.6M1379.0 51.3l0.3 0.5M1331.9 98.3l1.8 0.1M1348.2 44.4h0M1348.3 72.0l-0.2 0.5M1309.4 46.2l2.3 0.6M1362.3 63.1l-1.5 0.9M1341.3 109.3l0.4 0.5M1324.8 72.7h0M1365.7 80.1l-1.2 0.7M1373.2 78.3l-0.3 1.4M1318.5 62.5l-0.8 1.6M1302.5 68.6l1.2 0.8M1315.2 83.1l-0.1 2.4M1304.9 50.7h0M1357.5 79.5l0.0 1.4M1366.9 72.6l1.0 0.3M1311.5 60.5l1.7 1.7M1370.2 53.0l2.3 0.6M1377.2 90.4l-2.3 0.8M1336.5 59.9l-1.7 0.7M1376.4 49.1h0M1353.2 54.6l1.4 0.1M1378.9 52.7l0.6 1.3M1370.2 64.2h0M1339.4 79.6h0M1359.5 65.2l-1.5 1.8M1356.7 84.5l0.0 1.4M1342.2 74.3l0.2 1.4M1319.8 75.7l1.0 2.2M1331.4 75.1h0M1390.0 57.9l-0.2 0.5M1301.1 44.9l1.5 1.9M1335.4 64.1h0M1346.1 76.7l1.2 0.8M1349.1 71.9l-0.7 1.7M1370.7 67.4l-0.8 0.6M1334.1 70.3l0.6 0.2M1360.5 45.4h0M1386.0 72.9l-0.8 0.6M1347.8 79.6h0M1362.6 63.4l0.1 0.6M1354.6 66.7l0.8 1.2M1341.2 64.0l-2.3 0.8M1356.8 61.5l0.5 1.7M1341.7 58.5l-1.2 2.1M1318.8 69.0l-0.5 0.9M1309.6 72.4l-0.6 0.2M1340.2 53.7l-1.3 0.6M1348.5 74.8l-0.2 0.6M1353.6 118.8l1.0 0.1M1340.8 50.6l-2.2 1.0M1348.8 61.0l-1.3 0.6M1332.7 70.3l-0.5 2.3M1332.5 77.5l0.6 1.3M1317.1 65.1l1.6 1.8M1382.5 77.9l1.7 0.7M1363.6 70.9l1.8 0.1M1361.6 106.8l2.2 1.0M1369.9 61.7l1.4 0.3M1357.5 102.5l-0.1 2.4M1327.2 72.3h0M1343.7 61.7l1.8 1.6M1332.7 85.0h0M1349.2 48.3h0M1368.5 42.8h0M1370.0 47.6l1.4 1.9M1360.6 43.3l0.0 1.0M1315.6 63.7l0.5 0.3M1371.4 44.3h0M1397.9 61.0l1.3 0.6M1328.8 44.9l-1.0 0.2M1361.9 53.6l-0.9 0.5M1365.4 48.6l-2.3 0.6M1328.9 83.6l0.4 0.4M1312.2 92.2l0.3 0.5M1355.1 78.7l0.6 0.2M1367.2 51.6l-0.3 2.4M1342.8 57.5h0M1348.7 108.6h0M1379.9 86.6l-1.2 0.7M1351.1 115.7l0.3 0.5M1334.0 68.8l1.4 0.3M1317.0 63.2l-0.6 0.8M1351.1 103.9l0.5 2.4M1323.3 78.4l-1.2 1.4M1334.6 53.7l0.4 0.5M1333.7 64.2l2.4 0.0M1329.9 82.4l1.7 0.4M1357.9 89.4l0.6 0.1M1360.7 88.4l-0.1 0.6M1323.9 58.2h0M1297.8 55.5l-0.2 1.4M1333.6 75.0l-1.3 0.6M1337.7 87.0l-1.4 1.1M1355.3 60.9l0.9 0.5M1349.3 63.3l-0.6 0.2M1358.5 54.1l-1.6 1.8M1341.9 58.8l-0.5 0.9M1372.7 60.8h0M1363.5 102.8h0M1360.4 56.8l2.4 0.3M1381.9 60.9l0.5 0.3M1377.6 100.3h0M1379.8 95.3l0.5 1.3M1332.2 67.9l-0.6 1.7M1344.1 46.2l-1.6 0.8M1340.3 110.8l-0.7 1.7M1312.9 54.5h0M1348.8 70.5l0.2 1.8M1362.0 77.9h0M1364.2 61.1h0M1374.2 61.8l1.3 0.6M1366.3 46.1h0M1352.4 53.2h0M1318.3 87.6l1.3 0.5M1366.1 54.1h0M1357.3 81.6l2.2 1.0M1378.3 64.3h0M1378.8 58.1l-1.0 1.0M1307.6 44.0l-1.1 0.9M1336.3 72.1l0.5 1.3M1324.2 80.1h0M1340.4 71.3l-0.6 1.3M1352.6 96.3l-0.5 0.9M1313.6 85.9h0M1314.7 79.1l-1.0 1.0M1329.3 49.3l0.7 0.7M1379.5 66.4l-0.4 1.3M1340.2 99.0h0M1328.8 60.8l-0.2 1.0M1347.6 89.1l2.3 0.7M1353.9 66.7l0.3 0.5M1331.6 78.7l1.1 2.1M1331.7 66.6l2.4 0.5M1345.0 61.7l-1.1 2.1M1376.9 58.0l0.2 1.0M1341.8 49.3l2.0 1.2M1363.5 67.6l-0.5 0.3M1353.4 54.5l-2.2 0.9M1331.1 54.9l-0.5 0.4M1356.8 61.6h0M1327.6 85.3h0M1366.0 60.3l0.4 0.4M1358.0 67.1l-0.2 0.6M1323.2 86.9h0M1358.2 80.4l-2.1 1.2M1371.1 66.1l-1.4 0.2M1338.5 81.5l-0.3 0.5M1331.5 48.0l-0.2 1.0M1358.6 64.5l0.1 1.0M1374.2 54.3h0M1353.9 52.0l0.6 0.2M1376.9 69.3l1.7 0.4M1349.8 57.7h0M1328.0 68.3h0M1344.0 35.1l0.7 1.7M1334.8 75.8l-0.4 0.5M1340.1 82.4l0.8 2.2M1318.1 58.7h0M1361.5 53.4h0M1360.5 46.3h0M1365.3 50.8l1.1 2.1M1318.6 82.5h0M1311.3 72.6l0.9 0.5M1386.3 63.0h0M1309.8 44.3l-0.6 0.2M1315.5 90.4l-1.3 0.4M1351.7 51.9l-1.4 1.2M1368.3 46.5h0M1325.4 46.2h0M1326.3 94.1h0M1308.8 82.3h0M1369.0 43.8l-1.0 1.0M1357.2 67.7l0.6 0.8M1334.8 82.0l1.8 0.3M1325.9 78.3h0M1343.4 53.2l-2.3 0.5M1363.8 110.0l-0.6 0.1M1324.9 57.8l2.4 0.4M1350.7 113.9l-1.1 0.9M1344.7 70.3h0M1320.5 76.0l-0.9 0.5M1359.6 45.2l0.8 1.2M1338.8 72.9l0.4 1.4M1353.4 62.7l-1.7 0.5M1362.0 90.3l1.0 0.1M1318.5 43.0l0.4 0.9M1346.9 56.6l1.7 1.7M1324.0 61.8l-2.4 0.0M1368.1 56.5h0M1326.9 95.8l1.4 0.3M1323.4 80.0l-0.6 0.2M1333.2 61.5h0M1344.9 83.5l-0.5 0.9M1344.6 59.5l1.8 0.1M1399.0 72.4l0.5 1.3M1336.1 62.2l-1.7 0.5M1312.8 62.3l1.3 0.4M1366.1 87.0l1.0 1.0M1324.0 83.8h0M1365.4 50.8l0.7 1.2M1344.9 73.6l-0.6 0.2M1347.0 72.9l1.0 0.2M1316.1 62.2h0M1310.4 74.1h0M1380.9 61.1h0M1368.9 47.8h0M1341.3 86.1l-0.5 0.8M1373.8 56.5l-1.4 1.1M1331.8 52.1h0M1334.7 89.6l-2.3 0.6M1342.3 51.6l-2.3 0.8M1365.3 64.6h0M1327.9 48.0l1.4 0.1M1339.4 41.1h0M1372.4 63.4l-1.7 0.6M1360.4 77.6h0M1376.6 61.9h0M1328.4 89.2l0.4 0.5M1374.0 49.3l0.6 0.1M1324.6 54.6l1.1 2.1M1346.6 62.5h0M1373.0 52.5l-0.2 1.4M1337.3 82.8h0M1364.4 57.9h0M1329.2 59.3l-0.3 1.4M1332.9 48.0l1.2 2.1M1332.6 85.0l0.2 1.0M1349.9 38.9l2.0 1.3M1337.1 52.1l-0.7 0.7M1337.0 47.6l-0.8 0.6M1362.4 50.2l-1.4 0.0M1309.3 78.6h0M1364.8 49.7h0M1324.7 81.4l0.5 0.3M1357.8 66.6l-1.1 0.9M1357.2 105.2h0M1308.0 79.8l-1.0 0.2M1331.1 81.2h0M1369.7 60.0l-2.2 0.9M1338.9 68.1l1.0 1.5M1391.3 66.7h0M1323.0 53.8h0M1345.1 47.8l0.1 1.8M1335.9 74.2h0M1348.9 113.0l1.8 0.0M1326.5 56.9h0M1309.9 53.5l-0.5 0.3M1347.0 63.5l0.2 1.4M1327.3 74.2l0.1 1.4M1335.0 80.5l-0.8 1.6M1339.0 70.9l-0.5 0.3M1341.7 83.3l-0.2 1.4M1329.5 58.6h0M1352.8 51.8h0M1348.7 63.4h0M1372.0 92.0l1.1 0.9M1320.7 71.0h0M1361.0 53.6h0M1327.7 68.6h0M1346.6 83.3l1.8 0.3M1319.7 84.5l-1.0 0.2M1315.2 63.1l1.6 0.8M1323.5 50.0h0M1316.3 94.8l0.4 0.5M1339.7 54.4l-0.6 0.0M1311.0 87.0l0.2 0.5M1331.7 82.4l1.8 1.6M1334.0 62.1h0M1396.7 63.2l1.4 0.2M1332.8 54.6l0.7 0.7M1349.7 73.3l-0.3 1.4M1345.7 41.6l-0.2 1.4M1383.6 58.7l0.5 0.9M1329.6 89.1h0M1340.9 79.8l0.4 0.4M1363.3 48.9l0.8 0.6M1324.7 98.6l1.6 0.9M1334.0 75.1h0M1349.4 117.4l-0.8 0.5M1370.2 43.0h0M1312.2 61.7h0M1372.4 95.5l1.0 2.2M1308.9 43.6l-1.0 0.3M1372.7 62.6l-0.7 0.7M1353.5 101.1h0M1366.4 46.5l1.3 0.5M1313.5 80.4l-0.4 0.9M1379.6 56.0h0M1318.7 94.6l-0.3 1.0M1321.9 75.9l-1.4 0.2M1345.0 92.5l-0.3 0.5M1367.3 79.2l1.1 0.9M1311.4 79.0l-0.0 1.4M1333.6 101.4l-1.6 0.8M1318.5 76.5l0.9 1.6M1310.4 77.8h0M1320.5 74.9l0.3 0.5M1357.5 59.3l-0.6 1.7M1328.1 91.9l-1.9 1.5M1381.5 54.9l0.1 1.0M1352.6 43.4l0.4 0.4M1363.3 73.1l0.6 0.1M1348.2 35.1l-0.4 1.4M1336.7 63.5h0M1320.0 81.0l2.4 0.0M1318.4 77.0l0.5 1.7M1320.0 80.0h0M1324.5 42.5l-0.2 1.8M1372.4 97.4h0M1367.4 53.6l-0.2 0.6M1367.4 67.7h0M1321.6 76.7h0M1337.0 49.4h0M1319.5 90.8l1.0 0.0M1387.0 65.2h0M1309.3 75.8l1.3 0.6M1370.2 64.3l0.5 2.3M1347.8 74.8h0M1353.1 75.6h0M1330.4 71.1l2.4 0.4M1359.4 58.0l-1.0 0.2M1376.8 54.7l0.3 1.8M1347.3 82.0l1.0 0.1M1400.8 71.3l-1.6 1.8M1353.5 54.4l-0.3 0.5M1334.8 51.9l-0.2 1.0M1349.6 77.8h0M1374.6 56.7l0.4 0.9M1372.6 59.0l-1.1 1.4M1335.8 85.8l0.6 0.1M1301.9 72.0l-0.8 1.6M1331.2 77.1l-1.4 1.2M1333.7 75.9l-0.1 1.8M1345.1 43.3l0.9 0.4M1338.8 56.4h0M1322.4 58.7h0M1358.8 67.3h0M1331.6 91.8l-0.7 1.6M1358.4 103.8l-0.9 1.1M1345.9 36.4l0.8 1.1M1343.5 116.4h0M1323.7 80.2l1.4 0.3M1322.0 82.7l-0.4 0.4M1341.3 35.0l1.1 1.4M1352.7 93.7l-0.4 0.4M1339.0 66.4l0.6 0.1M1329.0 60.9l1.1 2.2M1324.7 75.5h0M1350.9 59.7l2.4 0.5M1343.9 70.1l1.0 1.5M1353.8 82.9l-0.8 0.6M1338.1 89.2l-0.3 0.5M1331.3 77.8l0.3 2.4M1339.3 69.9l-1.4 2.0M1309.1 54.2l-0.5 1.3M1383.8 60.2l-0.3 2.4M1340.1 104.8h0M1345.0 87.8h0M1344.4 45.5l0.6 0.8M1360.0 54.1l1.1 2.1M1321.6 64.0h0M1322.3 51.7l1.7 0.7M1330.2 84.2l0.6 2.3M1327.4 41.6l-0.1 0.6M1335.9 67.0l-1.7 0.5M1317.2 74.4h0M1364.1 70.8h0M1397.6 60.8l0.3 1.8M1322.8 64.5l-2.3 0.8M1352.8 45.5l-0.6 0.2M1335.2 58.9l0.3 1.0M1346.0 82.2l0.1 0.6M1375.0 63.5l2.4 0.4M1323.5 82.5l-1.0 0.2M1338.2 65.5l1.4 0.1M1339.3 122.4l-1.0 0.2M1355.8 56.0l1.1 0.9M1348.2 115.4h0M1378.3 71.3l0.1 0.6M1337.0 52.3h0M1379.2 54.1h0M1374.6 68.6h0M1350.8 54.2h0M1315.0 79.1l1.8 0.3M1374.8 51.2l1.1 0.9M1314.7 61.0l-0.4 0.4M1353.2 63.6l-0.3 1.4M1322.2 59.4l0.9 1.6M1346.0 118.6l0.2 1.0M1372.8 72.6l0.4 0.5M1333.8 98.1l-1.7 1.7M1308.4 55.6l0.9 1.6M1340.1 83.8l-0.3 0.5M1336.4 56.7h0M1314.8 51.7h0M1337.1 70.9h0M1341.4 120.4h0M1341.6 52.9l0.4 1.3M1326.3 82.3h0M1363.7 78.7h0M1352.3 84.3l-0.8 0.6M1304.4 64.6l1.7 0.6M1375.1 53.7h0M1365.6 42.3l0.1 0.6M1356.4 45.6l-1.0 0.0M1332.3 55.9h0M1308.8 45.6h0M1368.0 53.1l1.8 0.3M1350.4 49.8l-0.7 0.7M1340.4 76.7h0M1347.8 46.6l-2.2 1.0M1366.2 68.0l0.1 0.6M1392.3 63.4l-0.7 1.7M1329.8 88.3l0.3 2.4M1332.9 78.2l1.6 0.9M1340.9 80.4l-1.8 0.4M1334.8 62.3l0.7 1.2M1310.7 79.4h0M1367.7 43.0h0M1333.2 57.8l-0.9 1.5M1337.0 50.1h0M1367.7 47.3l-2.2 1.0M1330.8 85.3h0M1362.6 45.9h0M1360.1 74.8l1.0 0.2M1341.5 54.7l-2.3 0.7M1343.8 97.9h0M1332.3 58.1l0.7 0.7M1341.0 57.0h0M1343.4 84.7h0M1324.8 54.3l1.0 0.1M1364.3 56.5l-2.2 1.0M1357.6 106.3h0M1351.4 72.5l0.9 0.5M1344.0 69.0l-0.9 1.6M1324.9 107.0l-0.1 0.6M1370.0 88.3l-1.0 0.9M1322.8 64.6l0.6 0.8M1340.3 67.1l0.7 1.2M1379.4 60.5l2.4 0.1M1346.7 84.7l1.7 0.5M1346.3 75.6l-1.8 0.4M1327.5 87.8l0.4 1.8M1315.1 68.0l0.8 0.7M1349.8 63.5l0.1 1.4M1348.8 65.0h0M1343.1 84.3l-0.8 1.1M1400.5 60.3h0M1327.1 58.3l-1.7 0.6M1355.7 51.0l-1.2 0.8M1339.2 85.5l-0.1 1.0M1361.6 52.8l-1.5 0.9M1333.1 91.2l-1.7 1.7M1349.2 75.4l0.6 1.3M1343.3 49.2l0.3 0.5M1359.8 49.8h0M1357.7 49.9h0M1357.9 51.4l-1.7 1.7M1335.9 62.7l0.0 1.4M1327.8 63.9h0M1322.8 78.3l-2.1 1.2M1321.2 60.2h0M1302.2 59.5l0.9 1.1M1340.7 79.6h0M1359.1 75.5h0M1332.3 70.4l1.4 1.2M1337.4 56.8h0M1326.3 59.3l-0.7 1.6M1357.2 102.2l0.6 0.2M1372.8 81.2h0M1325.5 96.3l-0.8 1.1M1328.2 54.4l0.7 1.7M1354.0 43.6l-0.9 1.1M1347.0 39.3l0.6 2.3M1349.3 65.9h0M1343.1 55.3l0.5 0.3M1332.7 54.9l2.3 0.8M1330.5 49.7h0M1343.3 93.3h0M1347.2 85.2l0.3 0.5M1359.6 50.6l2.4 0.1M1378.0 61.8l1.7 0.5M1330.7 75.3l-1.3 0.5M1346.7 51.6l2.1 1.1M1348.5 70.5l-1.2 2.1M1373.3 48.3l-0.1 1.0M1343.8 104.8l-1.1 0.9M1342.8 56.5l0.3 0.5M1368.3 56.3l1.0 0.1M1334.6 73.4l-2.1 1.1M1323.0 78.4h0M1306.1 47.2l-1.4 1.1M1339.1 45.5l0.6 0.2M1340.0 56.7l-1.7 0.6M1341.6 84.1h0M1354.8 91.4l-1.4 0.1M1376.3 50.6l0.7 2.3M1320.4 73.5l0.4 2.4M1352.8 80.9l-0.5 0.3M1351.2 85.6l1.7 0.5M1372.9 63.4l-0.3 1.0M1315.8 49.7l-0.0 1.8M1339.9 100.0l-1.0 0.1M1330.9 65.7l-0.8 1.1M1323.8 99.9h0M1316.2 73.1h0M1364.0 91.4h0M1320.6 82.0l-1.4 0.3M1305.7 46.0l-0.5 0.8M1341.2 73.1l-0.1 1.0M1347.1 51.8h0M1323.7 89.5l-1.0 0.1M1332.1 77.9l1.4 0.1M1380.1 66.0h0M1315.1 85.6l0.6 0.8M1366.6 90.7l1.6 0.8M1326.2 82.8l0.2 0.6M1326.5 58.4l-1.6 0.9M1334.1 53.2h0M1315.9 82.3l-1.3 0.5M1345.1 76.8l-1.0 0.0M1354.2 58.6l0.3 0.9M1372.6 93.0l0.4 0.4M1382.5 54.3h0M1342.5 96.4h0M1340.7 64.1l0.5 0.9M1376.2 66.9l1.8 0.3M1328.0 47.5l0.6 0.2M1343.9 90.1h0M1369.0 78.6l0.0 0.6M1319.7 82.3l-0.4 1.3M1333.6 96.8l-2.3 0.7M1300.4 43.4l-1.0 1.5M1309.2 86.1l1.1 0.9M1345.6 79.7l-2.3 0.7M1373.6 69.0h0M1354.0 54.0l-0.5 0.3M1314.7 81.7l1.3 0.5M1348.6 69.9l-0.5 0.3M1379.5 56.9l-0.2 0.6M1341.6 70.5l0.9 0.4M1326.5 68.0l-0.3 0.5M1312.9 65.1l0.1 1.0M1350.2 83.7h0M1371.1 47.2h0M1336.3 73.7l-0.6 0.1M1338.6 67.0l-2.4 0.0M1318.4 47.0l-2.1 1.2M1337.6 60.9l-1.4 2.0M1330.3 54.2l-1.6 0.8M1370.0 48.0h0M1375.7 55.5h0M1360.2 44.3l1.6 1.8M1322.0 77.2l0.6 2.3M1374.0 62.0h0M1325.7 49.2l-0.3 1.0M1332.5 41.6l2.0 1.3M1335.7 66.2l-0.9 1.5M1362.2 66.2l-0.0 1.4M1313.9 81.3l-2.0 1.3M1314.5 49.9l0.8 0.6M1354.4 109.2h0M1346.6 66.5h0M1334.9 50.9h0M1347.9 75.4l-1.0 0.1M1362.1 88.2h0M1331.6 87.4l0.8 1.1M1333.3 55.1h0M1336.2 67.0h0M1319.0 77.3h0M1345.4 76.6l1.0 0.1M1378.6 51.4l0.6 0.8M1317.8 78.9l-0.6 1.2M1337.7 75.3h0M1322.6 81.9l1.4 0.0M1330.4 58.8l-1.4 0.1M1374.0 101.0l0.6 0.1M1342.4 72.2h0M1341.9 58.7l1.4 0.2M1314.6 76.4l2.3 0.6M1307.3 60.3l-1.6 0.7M1354.1 69.2l-0.3 0.5M1332.9 86.3l-1.6 0.8M1313.8 77.7h0M1376.0 61.7l-0.1 1.0M1327.8 59.5h0M1330.3 76.7l0.6 0.1M1370.0 47.9h0M1320.4 80.3h0M1348.2 57.7h0M1329.9 56.0h0M1335.2 67.4l0.2 0.6M1320.5 66.9l-0.6 0.2M1302.9 69.0h0M1327.8 81.7l1.6 1.8M1317.6 80.7l1.4 0.2M1380.6 57.1l-0.2 0.6M1355.1 58.3l1.2 2.1M1317.4 77.1l-0.6 0.8M1335.9 85.1h0M1371.6 99.2h0M1329.5 89.6h0M1341.2 65.4l-0.8 1.2M1325.6 56.3l1.6 0.8M1340.5 76.9l-0.9 0.3M1305.3 83.0l1.1 0.8M1359.7 57.0l-1.6 1.8M1397.6 61.9l1.1 0.9M1343.1 71.1l0.1 1.8M1367.3 64.0l1.9 1.4M1340.8 54.3h0M1351.6 82.0l0.5 0.9M1339.3 43.9l-1.3 1.3M1313.6 91.8l0.6 0.2M1313.8 79.3h0M1368.9 56.7l-1.7 0.6M1330.1 77.1l-1.0 0.3M1323.8 62.2l1.8 0.0M1365.0 69.0l-0.9 0.4M1337.6 68.1h0M1335.3 63.3l-0.7 1.2M1350.6 85.2l-0.4 0.9M1362.0 61.0h0M1376.1 87.1l-1.7 0.7M1353.7 65.2l-0.2 1.8M1344.3 169.8l-0.6 1.3M1345.7 174.6h0M1339.7 174.9l1.6 1.8M1347.7 174.8l-0.4 1.3M1343.5 173.8l0.6 0.8M1344.5 173.4l-0.8 2.3M1341.8 177.7l-1.7 0.5M1337.0 184.0l-1.8 0.4M1339.5 186.0l-1.3 0.4M1342.5 179.0l-1.6 0.9M1335.7 184.4l0.6 0.2M1342.0 182.7h0M1342.8 182.4l1.0 0.3M1339.6 182.9h0M1335.8 182.8l1.5 0.9M1341.3 180.7l-0.5 0.4M1334.2 182.5l0.1 0.6M1342.5 181.2l0.3 0.5M1331.4 187.3l-1.8 0.0M1332.7 186.9h0M1329.3 186.3l-0.8 0.6M1331.9 192.9l0.0 1.0M1332.1 188.5l0.0 0.6M1334.6 188.7l-0.3 1.0M1334.0 191.3l-0.5 0.3M1330.2 187.1l-1.3 0.4M1329.1 191.8l0.5 0.3M1332.8 188.6h0M1332.6 188.0h0M1331.4 188.0l-1.8 0.4M1331.5 189.8h0M1333.3 188.7h0M1331.6 190.3l0.2 0.6M1327.4 197.6l0.8 1.1M1331.8 199.1l-1.8 0.4M1326.1 193.7l-0.0 1.0M1327.5 198.7l-1.1 0.8M1333.2 196.4l0.7 2.3M1327.0 192.6l2.0 1.3M1329.7 196.1l0.6 0.2M1331.7 195.5l-1.1 1.4M1326.7 194.6h0M1315.5 230.2l1.8 0.3M1318.2 228.4l0.9 1.5M1322.0 229.7l0.4 2.4M1322.6 228.8l-0.2 1.8M1319.6 229.9l1.1 0.9M1319.2 226.2l1.1 0.9M1318.6 224.3l0.0 1.8M1319.6 224.4h0M1323.9 268.9l-1.7 0.5M1315.6 263.1l-0.6 0.8M1320.5 264.4h0M1314.3 261.7l1.5 1.0M1316.9 266.6l-2.4 0.4M1318.5 261.7l-0.7 2.3M1324.9 266.2l-0.8 1.2M1326.1 268.7l-1.8 0.1M1320.5 261.9l1.1 0.9M1320.3 273.5h0M1321.3 273.6h0M1323.7 264.9l-1.1 1.4M1317.7 269.9l0.6 0.2M1325.2 264.0h0M1320.8 282.3h0M1326.1 275.8l-2.2 1.1M1322.9 279.0l0.5 0.9M1319.7 278.8l-0.6 0.2M1323.1 282.5h0M1323.3 283.9l-0.9 0.5M1323.6 279.4l0.8 1.1M1326.0 275.9l-1.4 1.2M1319.5 275.0l0.2 0.6M1322.0 277.1l0.5 0.4M1323.3 278.5h0M1322.3 282.9l0.9 1.6M1327.5 273.3l-1.4 1.9M1324.0 275.9h0M1321.7 280.3h0M1319.5 283.2l0.3 2.4M1320.8 279.4l0.2 1.0M1323.0 280.9l-2.4 0.2M1327.8 289.3l-2.4 0.1M1324.6 283.1l2.0 1.3M1319.1 286.1l0.4 2.4M1319.7 287.3l1.0 1.5M1321.1 289.8l0.3 0.5M1317.9 290.3l-0.8 0.6M1321.6 289.0l0.3 0.5M1324.4 291.8h0M1325.9 292.5l-0.5 0.4M1325.7 285.2l-0.5 0.3M1325.0 288.2l1.3 1.3M1323.4 287.8l-1.4 1.9M1326.1 287.6l0.6 0.2M1326.1 293.1l-2.2 1.0M1325.0 285.6l-1.6 0.9M1324.4 289.2l2.1 1.2M1333.8 298.4h0M1326.4 291.5l1.1 0.9M1328.7 291.4l-0.0 0.6M1332.0 296.8l1.2 1.4M1329.6 297.8l0.2 1.0M1330.3 295.1l0.2 0.6M1333.6 289.9h0M1332.4 303.3h0M1332.8 289.7l-0.6 0.1M1329.7 292.1h0M1330.1 290.6l-0.4 0.5M1334.1 296.8l-2.4 0.3M1337.6 296.0h0M1336.4 302.4l-0.8 0.7M1339.8 302.4l0.7 0.7M1337.2 304.3l-0.9 0.4M1335.9 300.1h0M1338.8 302.1l2.0 1.4M1345.3 302.8l0.8 0.6M1346.3 302.5l-0.0 0.6M1342.1 298.1l-1.7 0.7M1346.5 305.5h0M1338.0 303.4l1.4 0.3M1342.7 307.2l-1.5 1.9M1346.0 304.7l0.9 0.4M1350.0 305.8l-0.4 2.4M1343.6 310.4l1.3 0.4M1354.4 306.7l-0.6 1.7M1392.1 365.1h0M1385.6 364.2l1.1 0.9M1386.7 367.1l-1.0 2.2M1401.1 369.7h0M1395.5 371.5h0M1400.2 368.4l-0.1 1.0M1397.6 369.6h0M1396.6 367.4l0.8 1.1M1403.4 369.3l1.8 0.3M1408.1 368.3h0M1402.9 371.0h0M1403.3 368.3l1.8 0.2M1417.0 364.6l-0.0 0.6M1414.5 368.0h0M1412.3 369.3h0M1429.8 369.5h0M1426.0 368.1h0M1425.9 366.1l-0.2 1.4M1422.3 368.2h0M1425.3 364.2h0M1423.7 370.2h0M1433.1 374.2l0.9 0.4M1430.6 368.2l-0.8 2.3M1434.0 376.6h0M1429.3 370.2l0.5 0.4M1430.7 381.0l-1.8 0.2M1433.9 382.1l1.2 0.7M1429.8 385.1l0.8 2.3M1429.2 382.7l2.2 1.0M1430.6 386.0l0.6 0.8M1430.0 383.2l1.3 0.5M1429.3 381.1h0M1424.0 388.2l-0.5 1.3M1425.3 390.3l-1.4 0.1M1425.5 389.0l-1.8 0.2M1418.1 393.2h0M1415.8 399.3h0M1414.6 398.6l0.7 1.2M1414.5 402.0l2.2 1.1M1328.5 179.1l0.1 1.4M1335.3 171.2l0.7 0.7M1334.6 182.4h0M1334.6 177.1l-1.7 0.6M1338.4 167.8l-1.9 1.5M1333.0 173.2h0M1331.6 171.3l0.4 0.5M1332.5 174.4l-0.4 0.9M1330.3 174.2l0.9 1.1M1331.8 178.9l0.0 0.6M1329.3 180.8h0M1331.9 176.7l-0.6 0.1M1435.7 468.7l0.9 0.4M1440.0 465.9l1.0 2.2"/>
<path stroke="#e39a2c" stroke-opacity="0.68" d="M1364.7 83.9l0.3 2.4M1347.3 106.1l-2.0 1.3M1381.2 71.6l0.3 2.4M1341.5 95.0l0.9 0.5M1360.0 77.9h0M1379.9 69.6l0.8 0.6M1366.3 68.3l0.3 0.5M1375.8 87.1h0M1351.0 108.8h0M1357.8 44.6h0M1364.6 93.0l-0.6 0.2M1363.3 90.4h0M1306.2 85.8l-1.0 0.2M1374.2 67.9l0.5 0.9M1384.2 75.6l-0.8 1.2M1349.9 96.1l0.2 0.6M1307.3 70.2l-0.5 0.3M1381.2 91.7h0M1350.3 94.1l0.1 0.6M1372.9 88.9l-0.5 0.3M1353.0 77.1l-0.6 0.8M1349.9 98.1h0M1380.4 77.4l-0.4 1.7M1346.0 97.7l-2.4 0.4M1380.9 77.2h0M1357.3 101.0l-0.0 1.4M1387.1 70.6h0M1377.5 81.2l1.7 1.7M1398.6 71.0h0M1313.6 81.1l1.1 1.4M1380.3 64.7h0M1371.1 97.4h0M1361.8 71.2h0M1382.5 70.4l-0.5 2.3M1326.4 90.2l1.0 1.0M1372.8 104.3h0M1320.3 58.6h0M1371.3 43.4l0.7 0.7M1376.7 93.9l1.0 0.2M1362.2 75.3l1.4 0.2M1375.1 101.8l0.9 0.3M1369.6 93.4l1.4 0.0M1339.4 82.1l-1.0 1.5M1394.9 62.1l0.2 0.6M1385.7 81.2h0M1362.7 97.8h0M1360.1 92.3l-0.3 1.4M1367.1 78.2l-1.5 1.0M1361.6 88.9l-0.7 0.7M1363.4 70.4l1.7 0.5M1334.9 109.6h0M1361.8 80.2l-1.8 1.6M1352.0 95.2l0.9 1.5M1349.2 112.1h0M1374.0 95.6l1.4 0.1M1351.4 59.0l-1.0 2.2M1371.0 87.4l1.4 0.1M1354.3 119.4l-2.4 0.4M1345.1 111.4h0M1319.8 54.2l-0.9 0.5M1364.9 92.8l1.2 0.7M1395.7 59.7l-1.4 0.3M1375.1 68.5h0M1390.0 77.2l0.4 1.8M1356.8 81.3l-1.8 1.5M1393.2 77.9l1.4 0.3M1352.5 95.8l0.4 1.3M1372.7 59.6l1.1 0.9M1348.2 111.3h0M1356.2 96.2l-0.7 1.7M1348.9 118.3l-2.4 0.3M1314.4 65.2l0.4 1.3M1364.8 97.9l-0.2 1.4M1357.0 84.5l0.5 0.3M1356.6 97.7l-0.8 0.7M1348.8 108.1l-1.4 0.3M1386.6 81.8h0M1364.6 86.1l0.6 1.3M1357.5 70.9l-0.9 0.4M1398.6 56.8l0.2 1.8M1365.8 65.3l0.9 0.3M1367.3 80.9l-1.8 0.3M1349.1 104.2l1.0 2.2M1381.2 70.4h0M1341.7 75.0l0.9 0.5M1351.5 106.1l0.8 0.7M1355.1 102.5l1.2 1.4M1359.9 98.3h0M1358.1 106.2l0.4 1.8M1350.2 104.4h0M1397.7 66.2l-0.3 0.5M1353.2 45.4h0M1356.2 87.6l1.8 1.6M1375.2 91.7l-0.8 0.5M1351.5 87.0l-0.8 1.6M1375.4 90.8l0.5 0.3M1372.3 87.7l0.6 0.8M1355.9 91.5l0.2 1.8M1403.0 63.4l-0.2 1.4M1338.1 109.2l0.3 1.4M1393.0 68.2l-0.1 1.4M1366.1 83.0h0M1375.5 89.6l-1.8 0.1M1361.3 80.5l-2.1 1.1M1365.9 84.6l-0.6 0.8M1383.1 84.2l0.1 1.8M1364.6 94.3l-0.3 1.0M1351.6 98.3h0M1378.1 59.5l0.8 1.6M1357.0 57.0l1.8 0.0M1388.5 62.1l-0.8 0.7M1309.5 83.5l2.2 1.0M1347.1 78.4l1.3 1.3M1380.6 61.8l-0.9 1.1M1366.7 80.1l-1.0 1.0M1351.1 113.0h0M1387.4 70.3l1.0 0.2M1366.1 95.1l-1.8 0.1M1375.1 49.0l0.5 0.3M1382.5 66.7l-1.9 1.4M1366.5 71.1l0.9 0.4M1359.7 96.1h0M1368.0 87.4l0.2 1.4M1312.9 72.5l1.2 2.1M1374.9 87.4l-0.8 1.6M1370.8 99.1l-0.4 0.5M1311.6 76.0l-1.2 0.7M1376.6 73.4l-0.6 0.0M1396.7 69.0h0M1367.3 73.9l0.8 0.6M1311.3 82.6l-1.0 1.0M1379.0 70.9l-1.1 2.2M1394.7 74.4l-1.6 0.8M1349.6 111.9l-0.9 0.5M1355.9 89.1l0.1 1.0M1364.8 80.5l-1.4 2.0M1350.9 54.4l1.7 0.7M1398.3 68.0l-0.6 1.3M1351.4 81.5l1.2 0.8M1356.7 114.1l-0.6 0.0M1370.3 41.5l1.5 1.0M1359.0 77.0h0M1344.9 63.4h0M1340.6 45.3l-1.0 0.3M1360.9 99.2l-1.4 1.9M1390.0 65.1l0.3 0.5M1360.6 93.3l-0.2 1.0M1394.2 62.1l1.1 0.9M1309.1 77.3l0.3 0.5M1346.2 107.3h0M1377.2 60.1l-1.8 0.1M1309.2 75.9l1.3 0.4M1310.7 64.6h0M1380.9 56.5h0M1359.6 110.7l-1.0 1.5M1384.2 73.4h0M1372.3 90.4h0M1365.8 75.3l-0.6 0.2M1347.0 50.4h0M1400.9 67.2l-0.6 0.1M1378.0 87.0l1.0 1.0M1326.4 103.2h0M1373.5 69.7l0.6 0.2M1398.2 62.3l0.7 1.6M1353.1 117.4l-1.3 2.0M1367.0 81.6l-0.2 1.0M1349.2 94.9l-0.3 1.4M1383.5 78.9l0.2 1.0M1382.1 63.2h0M1375.9 99.9l-0.3 2.4M1380.4 76.4l1.7 0.6M1381.1 69.6h0M1307.1 84.9l-0.9 1.5M1376.3 84.4l0.1 1.8M1352.6 103.9h0M1355.7 52.2h0M1361.1 93.7l-1.4 1.9M1403.7 69.5l0.4 0.9M1379.1 66.4h0M1376.9 79.0l1.3 0.6M1358.5 51.1l-1.0 1.0M1360.7 72.6l-2.2 0.9M1357.3 83.6h0M1357.0 51.0l-1.3 1.2M1334.5 87.3h0M1405.9 69.4l-0.8 0.6M1373.2 70.6l-1.4 0.2M1375.9 93.9l-0.4 0.4M1374.6 79.5h0M1381.8 76.6l-0.5 0.9M1356.9 80.7l-1.8 1.5M1370.7 44.2l0.6 1.7M1343.7 113.3l0.1 1.0M1359.8 89.4l0.2 1.4M1361.1 110.5l-1.2 0.7M1325.6 84.8h0M1317.1 84.2h0M1375.9 78.4l0.7 1.2M1385.4 56.8h0M1361.8 81.9l0.7 0.7M1341.5 103.9l0.1 0.6M1380.0 96.6l-1.5 1.9M1388.1 60.6l-0.7 0.8M1351.8 100.7l0.1 0.6M1349.7 107.9l-0.7 1.7M1377.0 93.9h0M1399.0 67.4l-1.8 0.0M1374.9 98.8l-0.5 1.7M1375.0 92.3h0M1397.6 63.6l-0.1 1.0M1308.6 86.2l1.8 0.1M1352.2 108.2h0M1347.6 108.0l-0.4 1.7M1350.9 117.1l0.9 0.5M1345.7 52.6l-1.0 2.2M1311.2 82.4l0.3 1.0M1370.9 97.5l0.4 0.5M1353.8 107.5l0.9 1.0M1386.4 63.9h0M1307.1 81.8l2.2 1.0M1375.6 65.4h0M1360.8 73.3l2.4 0.4M1366.7 73.3l-2.2 1.0M1355.6 117.9l-1.0 0.2M1352.3 106.4l-0.2 0.6M1368.6 90.9l0.2 2.4M1366.7 74.5h0M1310.0 79.9l-1.4 0.2M1351.0 100.7l-0.2 1.4M1381.8 80.6h0M1384.6 72.1h0M1367.9 79.7h0M1342.7 110.9l1.7 0.5M1371.7 60.1l-2.3 0.7M1384.4 59.2h0M1369.3 66.4h0M1377.8 68.2l1.1 1.4M1337.0 63.1l-1.3 0.6M1380.6 82.9h0M1378.0 71.0l0.4 0.9M1385.9 75.1l0.2 1.4M1378.1 66.4l-1.1 0.9M1346.7 93.6l0.2 0.6M1384.4 74.8l-0.6 1.7M1351.9 61.2l-1.4 2.0M1377.6 62.4l1.3 0.4M1368.1 87.2l1.4 0.2M1347.5 107.7l-0.5 1.3M1366.3 95.1l1.4 1.1M1405.7 70.1l-0.4 1.3M1356.3 104.5l-0.5 0.4M1308.2 84.3l2.2 0.9M1372.0 105.2l-1.8 0.1M1374.4 81.3l1.4 0.3M1356.0 103.2h0M1381.6 80.5l-0.2 1.4M1314.1 74.0l-0.9 0.4M1386.3 72.5h0M1340.8 62.0l-0.6 1.7M1364.7 87.4l0.1 0.6M1380.4 86.4l-0.8 0.5M1407.1 67.7h0M1405.6 73.3l1.7 0.6M1410.6 69.4l0.5 0.3M1413.0 74.0l-0.5 0.4M1405.5 68.0l2.0 1.4M1411.8 72.0l-1.4 0.1M1347.2 176.6l-0.2 0.5M1345.6 175.3l1.0 1.5M1344.8 185.1l-1.7 0.6M1339.8 177.6l-0.1 1.0M1330.8 188.1h0M1336.1 195.3h0M1323.7 189.8l2.4 0.5M1331.7 194.6l-1.8 0.4M1326.8 197.9h0M1326.2 192.5l2.3 0.6M1322.7 198.8h0M1330.7 197.8l-1.0 0.2M1330.2 195.0l-1.1 0.9M1315.1 229.2l0.0 0.6M1318.6 223.9l-1.3 0.5M1322.3 225.2h0M1318.8 226.7l0.2 0.6M1317.7 226.9l2.1 1.1M1321.7 226.1h0M1321.5 226.9h0M1320.8 225.2l1.6 0.8M1325.7 227.0l-0.3 1.4M1438.9 469.0h0M1438.6 464.7l-0.6 1.3M1435.9 462.0h0M1439.7 465.7h0M1438.9 465.8h0M1442.2 465.8l-1.7 1.7M1440.3 463.4l0.4 0.4M1436.4 466.4l1.4 1.1M1440.4 466.6l0.1 1.0M1436.0 461.9l0.6 1.3M1439.3 469.3h0M1439.2 464.3l-0.3 0.5M1436.9 462.0l0.2 2.4M1439.3 463.4l-0.3 2.4M1437.9 467.3l1.3 1.2M1437.5 469.8l0.6 0.1"/>
<path stroke="#c47a28" stroke-opacity="0.75" d="M1372.9 96.9h0M1362.4 92.1h0M1355.5 106.1h0M1306.7 49.2h0M1353.8 110.1l-0.5 0.9M1373.6 90.6h0M1369.2 64.7l1.2 0.8M1316.1 66.6h0M1310.0 69.1l-0.5 0.3M1332.1 55.6l0.4 0.4M1376.4 96.0l-1.2 1.3M1360.7 101.5h0M1372.2 103.1l-0.7 0.7M1398.0 65.7l-0.3 1.8M1360.3 84.9l0.5 2.3M1378.6 80.2h0M1380.5 56.6h0M1399.6 62.8l-1.5 1.0M1358.1 54.2h0M1395.8 58.7l-1.7 0.7M1396.4 60.6h0M1370.3 57.9l-2.1 1.1M1398.3 62.8l-0.1 1.0M1377.5 65.5l-0.8 1.6M1400.5 62.9l0.4 0.9M1353.0 104.8l0.9 1.1M1372.2 90.4h0M1358.6 72.3l-0.3 0.5M1356.5 92.3l-0.9 0.3M1376.0 80.1l-1.3 2.0M1379.9 50.2l1.4 1.1M1348.5 113.2h0M1361.3 100.7l-1.6 0.8M1353.2 106.8l-1.8 0.2M1355.7 112.8l-0.5 1.3M1382.4 54.8h0M1362.7 51.8h0M1377.9 75.4l-0.8 1.2M1350.9 111.8l0.1 1.0M1329.0 84.8l0.8 0.6M1369.5 83.8l1.4 0.1M1402.5 69.9l1.8 0.2M1371.9 92.6l1.7 0.6M1373.3 45.4l-0.8 0.5M1385.5 66.0l-2.0 1.4M1376.0 90.6l1.4 0.0M1378.2 91.0l-1.2 1.4M1396.9 73.1h0M1392.1 76.6l1.8 0.1M1347.3 104.6l-1.0 0.2M1358.7 80.9l-1.2 1.4M1400.8 66.4h0M1345.6 103.5l-0.4 0.5M1384.8 77.4l0.9 0.3M1382.5 69.1l0.5 1.3M1376.6 91.8h0M1375.4 87.9l1.1 1.5M1392.2 78.1h0M1370.9 95.9l-0.6 0.1M1350.6 84.1l-0.5 0.3M1340.6 81.1l-0.8 0.6M1332.2 97.8l-1.4 0.1M1374.6 45.7l1.2 0.7M1363.1 96.2h0M1365.7 86.4l-1.8 0.2M1369.0 59.4h0M1317.8 92.9l-0.7 0.7M1374.3 86.5h0M1355.2 101.8l0.3 1.4M1375.6 99.6l1.4 1.9M1351.8 47.6l0.9 0.4M1379.8 59.0l-0.4 0.4M1373.3 71.8h0M1399.4 72.6l0.7 0.7M1351.0 104.4l0.8 1.2M1309.6 86.2l0.1 0.6M1393.4 66.1l-0.4 0.4M1392.2 64.7l-1.7 0.5M1385.9 68.0l-0.1 0.6M1369.0 93.4h0M1371.7 67.4l-1.3 0.5M1353.5 102.2l-1.1 1.4M1361.3 96.2l-0.4 0.9M1362.9 65.4h0M1374.9 72.4l-0.5 0.4M1376.0 57.0l-2.2 1.0M1328.0 71.0l1.8 0.3M1363.6 69.6l1.4 2.0M1348.0 102.0l1.8 0.2M1373.2 78.1h0M1394.1 76.1h0M1340.0 86.0l0.5 0.3M1309.2 85.4l-1.0 1.5M1367.6 76.3h0M1369.8 97.7l-0.5 0.3M1396.2 62.1l-0.8 1.1M1339.2 82.6h0M1369.6 69.6l-2.4 0.4M1376.4 74.1l-0.9 1.1M1309.9 65.3l-0.8 1.6M1341.9 102.0l-0.9 0.4M1349.7 113.9l0.5 2.3M1344.8 97.7l-1.0 0.1M1404.0 65.6h0M1376.2 81.9l-1.1 0.9M1384.1 69.9l-0.4 0.5M1370.8 101.5l0.9 1.0M1390.2 68.7l0.8 0.6M1391.9 68.5l0.5 2.4M1389.6 57.4l-1.4 0.3M1378.2 83.6l-1.0 0.1M1377.8 83.6l0.9 1.5M1357.3 109.1l-0.2 0.6M1374.8 97.3l-1.5 1.0M1315.3 46.1l-0.1 1.4M1305.1 73.6h0M1361.4 83.5l0.1 1.4M1366.8 77.9h0M1303.3 45.5l0.9 1.1M1344.3 107.5l-0.5 0.4M1352.1 119.8l1.9 1.5M1390.8 67.9l-1.6 0.8M1384.8 58.8l0.8 1.6M1379.5 61.3l0.1 0.6M1370.9 94.8h0M1328.2 91.8h0M1381.0 88.4l1.0 1.0M1397.6 61.2l2.4 0.0M1371.0 86.8l0.4 0.4M1393.6 65.6l-0.5 0.4M1397.4 66.2h0M1378.7 76.5l0.9 0.3M1373.1 82.4h0M1376.0 75.1l-0.5 0.3M1379.8 84.1l-0.1 1.0M1400.3 67.0h0M1351.3 89.9h0M1441.9 466.8l-0.4 1.3M1439.5 465.9l-0.3 1.0M1438.8 466.0h0"/>
<path stroke="#a23232" stroke-opacity="0.85" d="M1356.4 100.3h0M1318.3 74.3h0M1324.8 68.3l-0.6 0.8M1315.3 86.8h0M1324.9 64.5l0.8 0.5M1327.2 67.2h0M1317.6 69.7h0M1306.6 69.2h0M1342.6 42.5l-1.3 0.5M1306.0 77.3h0M1325.5 64.6l-0.9 1.5M1391.8 63.5l2.1 1.1M1340.3 35.9h0M1306.8 79.8h0M1348.8 39.5h0M1342.5 47.8l-0.4 0.9M1352.2 98.9h0M1352.9 103.4l0.6 0.2M1298.6 57.4h0M1343.4 36.5l-0.0 1.0M1307.6 74.5l-0.5 0.9M1346.5 39.1h0M1358.0 97.2l-1.0 0.2M1360.1 96.6h0M1349.4 101.7h0M1346.7 42.6h0M1392.0 75.9l-1.4 0.0M1396.3 77.1h0M1383.5 71.2l1.2 1.3M1398.7 69.0l-1.0 0.3M1351.5 97.9l0.9 0.4M1319.0 65.3l0.6 0.8M1303.8 59.2h0M1361.8 96.8h0M1354.2 101.8l-0.5 0.3M1294.5 58.3l0.6 0.2M1345.3 106.9l0.5 0.9M1344.3 37.9h0M1325.3 67.5l-0.9 1.6M1381.1 76.0h0M1304.3 77.5l0.5 0.3M1304.2 65.8l-1.4 0.2M1327.8 69.3l-1.3 0.5M1356.7 92.0h0M1332.9 72.9l-0.4 0.4M1355.5 99.0l-1.0 0.0M1399.7 73.0l0.3 0.5M1346.1 35.6l-0.6 0.1M1326.1 64.3l1.2 0.7M1326.2 68.9h0M1346.3 43.5l-0.6 0.2M1392.0 71.3l-1.2 1.4M1342.8 40.7l2.0 1.3M1316.3 63.5l0.6 0.0M1387.5 78.9l1.4 0.2M1302.5 78.1l-0.2 1.8M1329.3 67.1l1.2 0.7M1323.9 69.7l0.5 0.2M1321.1 71.4l-0.2 0.5M1350.8 40.9l0.2 1.0M1306.0 73.1h0M1304.3 70.2l2.4 0.3M1342.8 45.6h0M1353.5 40.9l-1.8 0.2M1355.8 99.9l-1.4 0.3M1322.9 70.6h0M1343.4 37.4l-0.0 0.6M1326.5 70.4l0.9 1.6M1403.8 72.0l-1.5 1.9M1349.8 105.2l0.3 0.5M1323.4 65.6h0M1329.5 74.1l0.9 0.4M1320.7 70.7l-1.8 0.3M1395.1 73.9h0M1346.4 45.7h0M1301.0 75.4h0M1302.6 73.9l-0.0 0.6M1302.5 64.7l1.4 2.0M1303.1 72.7l-0.7 0.7M1319.4 73.6l0.1 0.6M1341.0 39.9l1.4 0.3M1393.7 77.0h0M1301.4 64.8l1.8 0.3M1298.9 59.6l0.1 0.6M1350.7 44.0h0M1340.8 48.9h0M1319.6 71.5h0M1393.2 63.7h0M1361.2 98.2l1.0 0.3M1321.2 68.8h0M1392.0 72.5l1.8 0.4M1300.6 72.9h0M1339.1 36.5l1.0 0.2M1321.7 65.6l1.3 0.4M1304.0 72.0l0.4 0.4M1392.9 73.4l0.3 1.8M1340.1 49.5l-1.4 0.2M1326.1 69.5l-1.0 0.3M1391.3 77.0l-0.4 0.4M1346.4 47.7l-2.3 0.6M1338.5 45.7l0.7 1.2M1349.2 41.5l-0.6 0.1M1303.2 69.4l1.4 0.1M1313.0 79.2l-1.4 0.4M1303.0 73.5l2.3 0.6M1342.9 45.5l-0.6 0.2M1357.7 92.7l0.1 1.4M1321.3 69.2l1.7 0.7M1325.3 77.9l0.8 1.1M1304.0 68.3h0M1344.1 99.4l1.0 0.1M1301.4 69.4l-0.4 0.4M1349.1 98.5l-1.4 2.0M1393.2 76.5l-1.2 0.7M1344.0 45.8h0M1304.8 77.8l1.8 0.3M1316.0 66.3l2.4 0.4M1389.1 66.7h0M1331.1 43.8h0M1388.4 66.8l-0.5 0.9M1323.6 62.8l0.7 1.7M1355.8 100.3l1.4 0.4M1399.4 71.4h0M1325.7 73.8h0M1336.7 51.7l2.2 1.0M1286.5 57.2h0M1297.9 85.4l1.4 1.9M1300.2 72.5l1.1 2.1M1307.0 84.9l-0.3 0.5M1300.8 76.3l0.9 2.2M1299.8 80.4l0.6 0.2M1295.6 72.4h0M1296.0 73.8h0M1308.1 85.2l-1.4 0.3M1291.4 70.9h0M1298.6 71.7h0M1302.0 87.9l0.2 0.6M1291.5 65.8l-0.9 1.1M1288.3 65.9l-2.3 0.6M1280.0 67.3l0.1 1.0M1303.4 73.1l1.0 2.2M1289.4 57.4h0M1297.8 80.5l0.9 0.4M1295.5 72.2l-0.5 1.3M1296.5 69.7h0M1290.0 66.4l-0.6 0.8M1284.8 53.2h0M1305.2 86.9l-1.9 1.5M1299.0 80.0l0.5 0.3M1289.4 75.6h0M1282.5 56.7l0.2 1.4M1300.0 88.9h0M1299.0 84.8l-0.0 2.4M1301.0 83.2l-1.0 0.0M1295.2 66.3l-0.4 0.5M1286.6 65.4l1.1 2.1M1291.6 68.5l-2.3 0.6M1298.8 87.9l-2.3 0.7M1286.4 69.8l1.8 0.1M1299.1 79.6l-0.7 0.7M1299.9 92.0h0M1308.0 79.8h0M1287.2 51.8l1.6 0.9M1299.6 82.1h0M1294.0 69.5l0.6 0.1M1294.5 72.9l1.6 1.8M1284.4 54.1h0M1296.2 67.6l-0.5 0.3M1289.9 54.6l0.5 0.4M1282.3 54.1h0M1290.7 77.0l-1.2 0.8M1294.2 74.7l-0.3 1.0M1294.7 71.8l-0.3 2.4M1285.4 57.1l0.6 0.1M1294.7 69.0l0.7 1.2M1294.2 72.5h0M1288.7 53.6l-0.2 1.8M1299.9 78.9l-0.2 1.8M1295.2 75.9l-0.4 1.8M1301.5 86.9l1.7 1.7M1292.1 58.9l-0.9 0.4M1291.2 63.2l-0.5 0.3M1295.2 72.8h0M1291.9 77.1l-2.4 0.3M1289.9 86.6h0M1296.0 88.2l-2.2 0.9M1291.5 74.8h0M1292.6 64.8l-0.8 2.2M1294.2 80.6l-0.6 0.2M1294.6 87.5l2.1 1.1M1289.6 61.7l-0.9 1.1M1292.5 65.6l0.5 1.7M1282.5 63.7l-0.3 1.8M1287.5 72.3l0.1 2.4M1289.7 59.5l-0.8 0.6M1288.7 56.8l1.0 1.0M1288.7 56.9l-1.4 1.2M1294.6 72.3l1.6 0.8M1293.4 61.7l-1.1 1.4M1289.9 65.4h0M1287.9 63.4l0.5 2.4M1294.1 68.5h0M1290.8 49.7l1.2 0.7M1288.5 64.4h0M1299.4 81.2h0M1286.9 71.1l0.0 0.6M1282.0 52.2l1.7 0.7M1289.9 54.4h0M1287.1 63.7h0M1292.7 65.3l-1.0 0.1M1294.3 68.7l-0.3 0.5M1292.9 90.5l1.1 1.4M1287.7 66.5l0.2 0.6M1293.9 63.0l-1.1 2.1M1301.6 86.7l-1.0 0.0M1300.6 80.6l-0.2 2.4M1287.1 62.1h0M1295.3 66.0l-1.1 1.4M1287.8 48.9l1.5 1.0M1289.9 59.7l0.5 0.3M1301.4 86.4h0M1307.5 87.9h0M1298.0 77.7l1.0 1.5M1299.6 75.9l-0.0 1.0M1300.6 81.7h0M1288.3 65.6h0M1290.0 59.9l-1.4 0.3M1280.4 55.8l-0.6 1.7M1299.8 80.0l-0.3 1.4M1295.4 65.9l0.0 1.4M1301.6 77.9l-0.0 1.0M1302.5 80.0l1.6 0.7M1286.4 52.8h0M1296.3 72.7l-2.3 0.8M1292.7 71.3l0.1 1.8M1297.1 82.7l-1.8 0.1M1282.9 64.4l-0.8 1.2M1306.6 80.6h0M1290.0 56.5h0M1287.2 55.1l-1.3 2.0M1294.1 76.6h0M1298.8 73.9l-0.4 0.5M1297.4 82.4h0M1292.0 70.1l-0.3 1.8M1291.9 70.0l1.2 0.7M1297.4 86.6l-0.1 0.6M1293.9 73.5l-0.6 1.7M1282.2 54.0h0M1302.3 78.1l0.7 0.7M1285.3 59.1h0M1292.4 66.2h0M1288.9 60.7l0.8 0.6M1299.5 88.0l0.6 0.1M1284.7 73.1h0M1296.6 69.9l-1.3 2.0M1273.6 91.2h0M1295.4 96.3l-0.5 0.3M1283.5 91.1l1.8 0.1M1274.4 82.1l2.1 1.1M1279.4 91.7l-0.5 0.4M1275.5 94.4l0.6 0.1M1280.1 69.7h0M1280.0 85.5h0M1285.1 72.0l0.6 0.8M1297.5 73.0l-0.1 1.4M1283.1 82.6h0M1295.3 73.5l2.1 1.1M1289.2 84.0h0M1279.3 75.6l0.6 2.3M1283.6 71.5l1.7 0.6M1290.2 82.6l0.6 0.2M1282.5 66.7l1.0 2.2M1272.3 94.2l1.3 0.5M1274.9 88.2l0.5 0.3M1292.4 76.5l-0.3 0.9M1276.2 77.1l-2.4 0.1M1288.5 83.1l1.1 2.2M1288.8 86.6l0.8 2.3M1298.9 63.3l-0.6 0.8M1289.0 94.8h0M1275.4 62.8l1.4 1.1M1275.4 74.6l0.9 1.5M1289.1 86.7l1.7 0.7M1294.7 73.5l0.6 0.8M1274.7 83.7h0M1297.9 88.4h0M1283.0 82.2h0M1298.9 80.3l-1.2 1.3M1287.3 92.5l0.5 1.7M1274.3 73.6l2.2 1.1M1286.0 84.4l1.3 0.6M1286.4 83.1h0M1284.6 69.0l-1.6 0.8M1278.5 81.0h0M1349.2 148.5h0M1349.7 146.3l-1.7 0.5M1349.3 143.1l-0.3 2.4M1348.1 158.1l-0.1 1.0M1348.5 157.4l0.5 1.7M1348.6 157.2h0M1347.8 160.4l-0.4 1.3M1347.7 161.0h0M1346.6 161.8h0M1344.6 164.8l-0.2 1.4M1347.1 166.2l1.3 1.3M1345.8 167.4l2.3 0.8M1350.2 168.3h0M1343.3 168.1l-1.1 0.9M1343.1 167.0l0.5 0.3M1350.3 167.4l1.4 0.3M1348.5 167.4l-1.3 1.3M1346.9 171.0l-1.3 2.0M1349.0 165.4l-0.6 2.3M1345.3 174.3l-1.5 1.9M1319.0 226.8l2.3 0.7M1323.4 227.7l-0.4 0.5M1317.9 227.3h0M1313.9 229.6l0.5 0.4M1321.4 225.9l0.6 0.1M1418.6 412.7l1.1 1.4M1416.0 411.5l1.4 1.1M1417.1 412.0l-0.5 0.3M1419.1 418.5l1.0 1.5M1422.7 425.1h0M1431.6 433.0l0.5 0.3M1433.7 433.7h0M1432.1 435.9h0M1435.9 436.9l-1.1 0.8M1436.7 445.6l-0.3 0.5M1439.4 454.2l0.1 0.6M1439.2 458.9l0.2 0.6M1440.2 455.3l-1.6 0.8M1335.0 166.1h0M1309.5 167.2l-1.8 0.1M1309.5 168.3l-1.6 0.7M1318.1 184.6h0M1316.3 185.9h0M1307.7 172.3l-2.3 0.6M1306.5 168.1l1.4 0.3M1312.4 168.9l-0.6 0.8M1321.7 182.6l0.6 1.7M1337.9 166.9l-0.5 0.3M1331.4 169.0h0M1323.6 168.5h0M1333.5 167.5h0M1335.9 167.6l0.4 0.4M1327.2 171.3h0M1332.0 161.9l-0.0 0.6M1332.0 166.2h0M1306.6 175.2l2.0 1.3M1324.0 170.8l1.7 0.6M1322.0 184.8l0.8 1.6M1324.9 164.3l-1.1 0.8M1437.9 470.5h0M1438.2 465.2h0M1440.1 465.7l-0.7 2.3M1438.1 461.6h0M1438.4 464.1l0.4 0.9"/>
<path stroke="#36d246" stroke-opacity="0.8" d="M1324.7 96.5l2.4 0.2M1336.2 110.8h0M1336.2 111.0l0.4 0.4M1342.7 105.8l-2.3 0.6M1317.2 95.3h0M1324.0 93.7l-1.8 0.1M1340.6 101.7h0M1330.1 103.0l-0.5 0.3M1325.9 94.9l-2.3 0.5M1324.2 94.1l-0.0 1.4M1327.1 107.6l0.5 1.3M1329.0 108.8l-0.5 1.3M1338.7 118.7l0.4 0.5M1333.5 94.4l-0.2 1.0M1329.1 93.0l-0.2 1.8M1341.7 111.3h0M1316.3 92.4h0M1328.4 97.2h0M1316.7 95.1l-0.6 0.1M1343.3 111.2l-0.8 0.6M1335.5 102.3l-1.2 0.7M1333.6 110.7h0M1323.0 60.1l-0.1 0.6M1345.7 120.4l-0.9 0.3M1332.1 105.0l0.5 1.7M1303.4 59.5l1.0 0.3M1305.3 71.5l-0.5 0.3M1316.0 96.4l1.6 0.8M1325.1 91.2l-1.4 0.1M1309.9 76.9l1.3 2.0M1336.7 114.6l0.2 1.0M1328.7 47.0l-1.2 2.1M1327.3 98.8l-1.0 2.2M1321.2 92.0l0.2 0.6M1333.4 100.9l-0.5 0.3M1344.1 120.0l0.9 0.4M1312.1 52.3l-0.8 1.1M1307.9 66.7h0M1335.6 112.1l-0.2 1.0M1313.4 69.1h0M1325.7 100.8l1.7 0.5M1326.8 102.3l1.0 0.2M1339.7 101.7l2.4 0.1M1342.4 113.2l-0.5 0.9M1328.3 114.9l0.0 1.8M1336.9 115.6h0M1344.7 121.0l-0.1 1.0M1314.0 66.3l0.5 0.3M1324.1 90.2l-1.7 1.7M1327.7 107.5h0M1339.6 115.2l-0.6 0.1M1335.2 99.9l-0.4 0.4M1316.0 75.5h0M1309.3 58.5h0M1339.4 117.7l-1.7 1.7M1331.0 90.5l0.5 0.3M1329.6 111.7l2.4 0.5M1305.7 63.0l0.6 0.2M1321.1 93.9l1.3 1.2M1340.0 104.3h0M1323.9 97.4l1.2 0.8M1338.5 100.3h0M1322.7 49.7l1.2 0.8M1342.6 119.0l0.4 0.9M1335.8 98.1l0.9 0.4M1317.7 64.2l-0.1 0.6M1316.9 90.0l1.3 1.3M1332.4 117.9l1.4 0.2M1331.6 110.8l-1.8 0.3M1338.2 95.5l-1.8 1.6M1325.1 94.6h0M1331.0 119.9l1.8 0.2M1304.7 63.8l-1.7 0.5M1336.6 110.6l-0.6 1.3M1324.2 93.5l0.9 0.4M1328.5 109.8l-0.3 0.5M1316.8 94.2l2.4 0.1M1337.6 114.3l-1.7 0.7M1320.8 94.0h0M1306.6 65.1l1.7 0.7M1339.3 100.4h0M1333.5 96.3l0.8 1.1M1350.5 122.3h0M1335.4 89.7l-1.7 0.7M1343.5 109.3h0M1330.9 109.3l0.8 0.6M1337.1 118.5l-0.6 2.3M1337.2 107.2h0M1328.0 118.1l-0.0 1.8M1337.6 113.4l1.4 0.2M1344.2 107.5l-1.7 0.4M1306.9 62.5h0M1338.0 101.9l-0.1 0.6M1338.7 114.9l-1.6 1.8M1306.6 67.8l-0.9 0.4M1317.7 82.8l1.0 1.5M1326.2 46.9h0M1332.1 119.2l-0.6 1.3M1325.4 98.6l1.3 0.4M1333.6 91.8l-1.0 1.5M1317.7 91.2l1.3 0.5M1328.5 108.6l-0.7 1.2M1339.7 115.9l1.0 1.5M1332.4 92.5l0.9 0.4M1332.7 112.4l-1.7 1.7M1326.7 90.7l-0.2 1.0M1345.8 113.2h0M1337.3 94.6l0.6 0.8M1335.3 108.7l0.2 0.6M1307.0 76.8h0M1337.2 99.4l-1.9 1.4M1338.4 113.0h0M1320.7 89.8l0.2 1.4M1315.4 88.7l-0.5 2.4M1304.7 65.5l1.8 0.1M1338.5 114.7l1.4 1.2M1320.3 45.2l-1.4 1.1M1328.9 110.0l-1.1 1.4M1339.0 106.8h0M1300.9 69.1h0M1335.6 118.9l-1.4 0.3M1329.2 104.0l-1.1 0.9M1325.0 91.4l-0.6 0.8M1317.0 92.1l0.4 0.9M1341.8 119.0l-1.7 0.5M1326.6 91.6l-0.9 0.4M1324.9 84.6l-0.5 1.3M1316.7 88.7l-0.4 2.4M1331.6 100.2l-0.9 2.2M1337.1 99.6h0M1338.8 93.2l0.4 1.3M1336.3 101.3l-0.4 0.4M1300.2 66.6l0.6 0.8M1317.2 85.9h0M1314.9 66.7l1.0 0.2M1343.5 116.0h0M1345.4 100.7l0.9 1.0M1326.8 55.0l-0.6 1.7M1326.2 87.9l-2.2 1.0M1329.7 87.5l1.5 0.9M1338.8 101.7l-2.4 0.2M1336.9 96.6h0M1314.4 92.4h0M1335.9 108.2l-0.9 1.6M1332.3 109.9l0.6 1.3M1310.1 71.1l-2.2 0.9M1342.1 108.1l0.0 2.4M1339.0 114.8l0.4 1.3M1333.9 119.0h0M1339.5 95.6h0M1328.1 89.7l-2.1 1.2M1335.8 115.3l-0.4 0.4M1327.7 103.0h0M1324.6 93.7h0M1311.0 70.9h0M1328.5 109.1l1.1 0.8M1311.0 59.1l0.4 0.4M1338.8 97.3l-0.3 1.8M1344.4 119.2l1.7 0.6M1312.3 92.1l-1.5 0.9M1337.7 107.0h0M1332.9 93.4l-1.6 0.8M1331.0 112.8h0M1325.3 42.5l1.3 1.2M1330.0 107.4l-0.6 0.2M1335.2 107.8l0.4 2.4M1320.9 96.8h0M1318.8 64.7l-1.7 0.5M1346.9 117.8h0M1305.9 67.7l1.4 0.2M1349.0 122.2l0.2 0.6M1331.9 108.9h0M1339.6 100.3l-1.0 0.1M1325.3 92.1h0M1328.4 202.7h0M1326.2 203.3l-1.2 0.7M1325.2 204.7h0M1325.0 202.2h0M1324.3 203.4l-0.1 2.4M1327.3 204.3h0M1326.6 207.7l0.3 1.4M1332.7 200.3l0.1 1.0M1321.0 206.2l-0.5 1.7M1327.1 202.0l2.3 0.8M1330.1 201.6h0M1327.8 208.8l-1.6 0.8M1323.1 207.2l0.4 0.4M1325.7 206.2h0M1321.7 211.8l1.3 0.5M1324.9 223.3l0.6 0.2M1325.4 209.8h0M1318.0 222.2l2.4 0.1M1318.9 219.1h0M1324.5 212.0l-0.4 1.3M1323.1 216.2l0.6 0.0M1319.9 217.1l-0.1 1.0M1319.9 211.4l-0.8 0.6M1324.0 215.9l-0.1 0.6M1325.0 211.0l1.2 0.6M1316.1 211.5l-0.5 0.4M1322.8 219.2l1.1 1.4M1320.5 211.7l-1.8 0.3M1321.7 218.6h0M1322.5 215.4l0.2 1.4M1317.5 221.5l0.4 1.3M1322.5 231.3l1.5 1.9M1319.2 238.8h0M1319.1 232.3l1.1 1.4M1322.0 233.9l-2.0 1.4M1318.6 232.1l0.7 0.7M1320.8 230.9l-1.0 1.5M1321.3 231.4l-0.7 1.2M1320.8 239.1l-1.8 0.2M1318.7 236.4l1.5 1.0M1321.8 239.0h0M1317.6 231.2l0.7 0.7M1312.6 233.0l1.3 0.6M1318.1 231.2l1.5 1.0M1319.4 230.9l0.6 0.2M1316.6 232.4l-1.0 1.5M1321.4 231.1h0M1324.1 235.5l-1.9 1.4M1318.4 234.3h0M1321.4 230.8l0.0 1.4M1322.1 235.7l-0.9 0.4M1319.3 231.6l-1.1 1.4M1315.7 238.5h0M1317.5 230.8l-1.1 0.9M1320.1 249.0l1.0 0.0M1321.7 253.1l0.5 1.3M1313.9 247.1h0M1322.5 251.1l1.5 1.9M1318.3 254.1l0.9 0.4M1323.6 252.2l-0.4 0.5M1317.3 249.9l-0.1 2.4M1320.7 252.9l1.1 0.9M1321.8 243.0h0M1318.3 245.9l-0.0 1.8M1316.3 245.8l0.3 1.0M1319.9 241.6l-2.3 0.6M1317.6 242.2l-0.8 0.6M1319.0 246.2l-0.1 2.4M1323.2 245.3h0M1322.7 250.8h0M1319.4 247.6h0M1320.9 246.8l2.4 0.2M1317.3 244.1h0M1320.6 238.9l0.4 0.4M1324.8 253.2h0M1319.8 254.8h0M1318.6 249.2l0.5 0.8M1322.1 241.7l-0.6 0.1M1324.9 246.0h0M1320.4 254.3h0M1326.1 245.6l0.7 1.7M1319.9 253.4h0M1317.9 239.1l0.9 1.1M1320.5 252.8h0M1323.4 241.8l-0.2 1.4M1315.5 241.9h0M1322.2 255.7h0M1317.4 252.4l-1.2 2.1M1316.2 244.2h0M1316.0 244.4l0.9 0.3M1319.5 250.4l0.3 0.5M1314.7 241.9l-0.8 1.1M1316.0 256.6l0.8 1.6M1319.1 256.6h0M1319.6 253.4l-1.1 2.1M1316.7 239.9l-0.9 0.4M1318.4 259.2l0.5 1.3M1324.8 258.9l-0.9 0.3M1319.0 258.7l-0.1 1.4M1319.3 256.9l0.6 0.2M1326.5 259.6h0M1320.6 259.4l0.5 0.9M1314.9 259.0l-0.6 0.2M1317.7 258.0h0M1319.5 256.6l-1.6 0.9M1326.4 259.2l-0.2 1.4M1317.8 260.9h0M1317.5 261.0l1.2 0.8M1325.6 256.5l-0.9 1.6M1324.5 259.5l0.7 1.6M1317.7 261.5h0M1320.3 257.5h0M1317.7 261.7h0M1351.3 315.4l-0.7 2.3M1347.8 312.2l-0.6 0.0M1354.3 314.7l-0.3 0.9M1351.1 318.9l0.8 1.2M1352.2 318.7l-0.3 0.5M1352.1 315.8h0M1352.3 312.1l2.0 1.3M1351.0 313.7h0M1353.9 313.6l-0.5 0.9M1347.5 313.1h0M1349.5 320.8l-2.0 1.3M1350.6 312.3l1.1 1.5M1357.9 313.5h0M1350.3 321.2l-0.6 0.2M1357.5 315.4l-0.1 1.8M1351.7 319.5l-0.9 0.5M1347.9 313.9l0.6 0.2M1348.9 315.0l-1.4 0.2M1357.7 315.7h0M1346.0 315.1l1.2 2.1M1354.2 317.5h0M1351.3 312.5l0.5 0.8M1352.7 314.3l0.4 0.9M1362.7 324.8l-0.6 0.2M1364.0 331.1h0M1358.5 322.1l-1.0 2.2M1365.5 327.7h0M1362.8 321.1l-1.8 0.2M1357.3 325.0l0.3 2.4M1359.4 332.5l1.2 0.8M1366.2 332.2h0M1364.3 331.3h0M1357.2 322.9l0.2 1.8M1368.8 332.1l1.4 0.3M1361.4 325.4h0M1358.8 324.1h0M1368.7 327.8l-1.8 0.2M1359.8 330.2l1.6 0.9M1369.9 332.4l-0.7 1.2M1357.7 320.8l2.0 1.4M1358.5 318.8l1.8 0.2M1360.6 319.1h0M1367.4 330.6l-0.7 1.7M1369.3 331.2l1.8 0.3M1353.3 322.4h0M1366.5 325.7h0M1367.1 334.1h0M1362.4 328.4l0.3 0.5M1361.4 335.3l1.2 0.7M1361.3 332.5l0.3 0.5M1367.4 328.5l-0.3 2.4M1359.4 321.8l1.9 1.5M1353.6 321.3l0.4 1.3M1361.1 324.5l-0.6 0.0M1363.9 324.9l0.6 0.0M1358.7 326.9h0M1351.5 324.9l-0.8 0.6M1362.2 321.7l1.5 1.0M1366.6 328.5l-1.1 2.1M1363.2 333.6l-1.0 2.2M1360.1 332.3h0M1368.1 331.2h0M1361.9 329.2l-0.5 0.3M1360.6 319.8l0.5 0.2M1363.8 332.8l0.1 0.6M1362.5 317.8h0M1363.0 329.4l1.8 1.6M1363.5 332.4h0M1356.5 325.0l-0.1 0.6M1361.2 324.1h0M1363.5 332.1l-0.1 1.4M1362.1 324.3l-1.0 1.0M1360.3 326.1h0M1361.5 324.1l0.0 2.4M1355.9 320.2l1.4 1.1M1362.9 327.1l0.4 0.4M1371.0 334.9l1.4 2.0M1368.3 342.7l1.0 1.0M1370.5 345.5h0M1371.1 333.7l-0.1 1.8M1372.2 338.9h0M1368.5 339.4l0.4 1.3M1370.5 344.8l1.3 0.4M1375.8 337.1l0.9 1.0M1370.5 333.6l-1.5 1.0M1372.3 336.1h0M1372.4 341.7l0.6 0.1M1372.3 338.7l2.4 0.1M1369.0 338.4h0M1373.7 349.0l-2.4 0.4M1372.5 341.5l0.3 0.5M1373.9 344.7h0M1369.4 341.0l-0.0 0.6M1369.8 339.3l-0.2 1.4M1373.4 339.0h0M1368.5 339.0l0.4 1.8M1372.5 345.6l-0.3 1.8M1371.1 345.6l1.4 0.0M1376.5 343.6l1.0 2.2M1365.1 337.8l0.0 1.0M1375.2 345.4l-1.7 0.5M1373.8 344.2l-1.3 0.4M1377.5 343.1l-0.5 1.3M1368.3 346.3l2.3 0.6M1369.0 336.1l-0.1 1.0M1373.2 344.2l-0.2 0.6M1369.4 344.3h0M1380.2 358.0l0.2 2.4M1384.2 351.2l0.0 1.4M1373.9 351.8h0M1385.5 356.2l0.4 0.5M1378.6 354.6l-0.8 1.6M1382.7 355.9l0.0 1.0M1382.7 358.1h0M1383.7 351.0l-2.4 0.4M1377.2 355.2l-1.1 1.4M1375.5 351.2l0.7 0.7M1379.4 346.9l-0.6 0.1M1379.0 350.7l-0.4 1.3M1379.9 348.1l-0.5 2.3M1384.0 359.0l-1.4 0.3M1382.5 344.8l-1.6 1.8M1380.0 346.8h0M1384.3 352.9l0.6 0.8M1381.1 346.9l-1.5 1.8M1387.0 358.2l-2.4 0.1M1384.0 357.5l0.3 1.4M1380.4 346.5h0M1381.0 349.5l0.6 2.3M1379.1 353.1l-0.0 1.0M1379.5 352.2l-1.0 1.5M1383.3 351.6l-0.1 0.6M1376.8 353.2l-0.5 0.3M1378.7 348.9l0.6 1.7M1386.4 348.5l0.3 1.0M1379.2 357.6h0M1379.3 349.4l1.3 2.0M1384.3 357.7h0M1378.5 354.0h0M1379.6 355.5h0M1383.0 343.9h0M1379.3 358.1l0.2 1.4M1380.7 349.3h0M1379.8 356.4l-0.2 1.0M1385.3 359.5l-1.8 0.1M1390.9 363.1h0M1392.2 359.9l0.5 0.9M1384.9 362.7l-0.7 0.8M1391.0 362.5h0M1388.0 360.0h0M1389.0 362.8l1.2 0.7M1387.6 361.9h0M1387.5 360.9l1.1 2.2M1388.5 363.8l1.0 0.0M1386.6 359.0l0.6 0.8M1393.0 361.1l-2.1 1.1M1388.2 360.8l-2.4 0.0M1386.0 360.9l-0.6 0.1M1389.3 359.9h0M1388.6 363.2l-0.5 0.4M1422.8 362.3l0.8 1.6M1317.9 174.6h0M1329.6 178.9l0.2 1.8M1321.2 174.6l-0.2 1.0M1322.3 171.5h0M1316.5 172.4l-0.5 1.3M1316.1 163.7l1.3 0.6M1316.7 174.1l-0.7 0.7M1316.5 170.9l1.3 0.5M1320.1 180.5l0.9 1.1M1317.2 170.6l0.1 0.6M1322.9 181.4h0M1329.0 177.1l-0.9 0.4M1316.4 170.0l-0.7 1.2M1325.6 179.8l0.2 1.0M1316.4 168.5h0M1318.2 171.7h0M1319.9 172.9l1.2 2.1M1311.0 178.3l0.7 0.8M1321.1 179.0h0M1323.7 170.4l0.4 0.9M1314.2 171.3l-1.8 0.1M1324.7 178.5l1.3 0.6M1320.9 175.9h0M1317.5 172.9h0M1316.3 179.2l0.0 0.6M1315.1 166.3l1.8 0.3M1319.8 177.0h0M1310.2 180.1h0M1314.3 169.5l1.5 1.0M1324.2 172.5l0.1 2.4M1320.4 174.2l-1.7 0.6M1319.6 172.1l1.6 0.9M1312.1 166.5l0.2 0.6M1319.6 170.4l0.4 2.4M1320.2 167.4l-0.1 0.6M1320.6 170.5l-1.8 1.6M1305.5 179.5h0M1313.3 173.2l-0.2 2.4M1318.1 182.6l-1.2 1.3M1326.4 172.5h0M1313.6 177.5l0.9 1.1M1312.0 171.4h0M1323.7 179.9l-0.9 0.5M1313.9 165.2l-2.2 1.0M1320.6 178.8h0M1319.7 178.8h0M1314.6 174.3l1.4 0.2M1324.6 171.7l-0.4 0.4M1315.3 170.3l-1.7 0.6M1329.2 171.2l-2.4 0.3M1311.2 173.5h0M1325.4 178.0l0.4 1.4M1314.0 165.9h0M1317.7 169.7l-0.2 2.4M1317.7 175.3h0M1315.0 174.4h0M1317.5 170.4l-1.4 0.3M1317.8 181.3h0M1324.2 165.7l0.6 0.1M1323.3 181.3h0M1317.9 179.4l-0.1 1.4M1322.9 166.3h0M1321.8 175.7l-0.8 0.6M1329.7 174.0l-1.0 0.3M1313.6 175.9l1.8 0.2M1324.1 177.1l-1.1 0.8"/>
<path stroke="#94504a" stroke-opacity="0.75" d="M1281.0 77.0l-0.3 1.4M1298.5 63.8h0M1293.4 96.7h0M1289.3 63.4l0.2 0.6M1286.3 96.4l0.6 1.3M1282.0 67.4l-0.3 0.9M1290.2 80.2l0.3 0.5M1283.3 96.3h0M1293.0 64.2h0M1276.9 72.6h0M1287.4 80.8l0.9 1.1M1286.4 80.9h0M1274.1 95.4h0M1286.0 63.3l0.8 0.6M1281.6 90.2l0.1 0.6M1295.4 69.6l1.4 1.2M1280.4 81.5l2.2 0.9M1297.1 97.1l1.0 1.5M1275.8 75.9h0M1273.1 79.1l-1.4 0.2M1274.3 67.8h0M1260.2 73.8h0M1259.4 90.1h0M1269.0 81.5l-2.0 1.3M1263.6 81.8l-1.0 1.5M1259.4 72.6l-1.0 0.0M1256.8 80.0l1.1 0.8M1268.3 92.6h0M1260.4 70.6l-1.7 0.6M1271.4 82.1l-0.6 0.1M1252.3 86.6l0.2 1.0M1270.8 75.6h0M1272.3 98.4l1.0 1.0M1268.0 96.3l1.7 0.6M1270.9 72.2h0M1257.6 86.6l-1.2 0.7M1273.2 81.1l-0.6 0.1M1278.0 114.8l1.3 1.3M1291.9 102.0h0M1289.2 93.0h0M1300.7 98.7h0M1282.3 114.3l0.6 0.2M1289.5 116.8h0M1295.7 103.0l-1.4 1.1M1285.9 100.2l-0.8 0.6M1301.0 108.3l-0.2 1.8M1280.0 96.7h0M1275.5 112.7l0.3 1.8M1288.3 92.1h0M1305.7 93.0l0.4 1.3M1301.5 117.6h0M1283.9 105.3l1.2 0.7M1308.1 109.0h0M1297.4 119.2l0.5 1.3M1293.0 102.6l-1.0 2.2M1294.7 92.7l-0.9 2.2M1297.4 97.1l1.1 2.1M1293.0 99.8l-1.9 1.5M1301.2 100.8l0.2 1.0M1291.4 93.8l-2.1 1.2M1286.0 118.2l0.5 2.4M1292.8 113.2h0M1276.8 111.0l-0.8 0.6M1298.5 121.2l-0.6 0.2M1290.2 125.4l2.1 1.1M1302.7 123.6h0M1288.5 110.9l-0.1 0.6M1302.4 127.0h0M1301.4 124.2l1.0 0.1M1295.8 128.4l0.5 1.7M1300.8 114.6h0M1284.2 125.2l0.8 1.2M1291.5 111.5l-0.3 1.8M1304.9 113.1h0M1307.9 111.6l0.3 0.5M1309.6 109.2l2.4 0.5M1308.0 104.9h0M1313.6 98.8l0.0 1.8M1306.7 106.4l-2.4 0.4M1404.3 98.6l0.3 0.5M1386.4 99.2l-0.3 1.8M1389.1 94.0l0.7 1.2M1394.2 102.7l-0.8 0.5M1391.5 85.6l-0.6 0.2M1386.5 97.4l1.3 0.4M1386.1 103.1h0M1405.9 95.5l-1.8 0.3M1387.7 90.1l0.6 2.3M1385.7 102.2l1.7 0.7M1395.9 85.0l2.2 0.8M1387.6 92.6l0.6 0.0M1388.2 95.7h0M1396.5 89.5l0.2 1.8M1397.2 87.5l0.3 0.5M1401.5 84.8h0M1380.6 100.7l0.5 0.3M1393.0 90.1l0.5 0.4M1397.0 93.0l0.6 0.8M1385.7 84.1l1.1 0.8M1386.4 83.7l-2.1 1.2M1396.0 89.6l-1.4 1.1M1408.7 125.5l-0.7 2.3M1392.0 112.6h0M1408.3 92.1l0.1 0.6M1408.2 116.7h0M1417.6 96.7h0M1406.8 125.3l1.4 0.1M1407.5 104.5l-0.3 1.0M1403.2 96.8h0M1397.3 118.7l-0.5 0.4M1395.1 112.0l-0.0 1.0M1416.3 118.7h0M1419.5 120.3l-0.1 0.6M1348.9 127.4h0M1346.3 128.1l-0.6 1.7M1345.9 125.1l-0.4 1.3M1230.2 85.8l0.6 1.7M1418.4 128.3l0.6 0.1M1419.8 129.2l-0.6 0.0M1416.6 404.9l-1.4 1.9M1416.9 405.7h0M1419.2 422.0l2.1 1.1M1420.8 416.8l0.7 0.8M1428.1 428.9l-1.0 0.2M1427.4 425.4h0M1436.5 438.7l0.8 0.7M1437.5 443.6h0M1439.3 449.9l0.1 0.6M1437.3 449.0l2.0 1.4M1438.8 460.1l-1.0 0.3"/>
</g>
<rect x="0" y="1.7" width="836" height="1.9" fill="#7c7c7c"/>
<rect x="0" y="1.7" width="1.9" height="675" fill="#6e6e6e"/>
<rect x="834" y="1.7" width="2" height="674.2" fill="#6e6e6e"/>
<rect x="0.5" y="675.8" width="469" height="1.7" fill="#0a0a0a"/>
<rect x="880" y="1.7" width="835" height="1.9" fill="#7c7c7c"/>
<rect x="880" y="1.7" width="2.1" height="674.2" fill="#6e6e6e"/>
<rect x="1713" y="1.7" width="2" height="675" fill="#7c7c7c"/>
<rect x="1171.6" y="675.8" width="543.3" height="1.7" fill="#0a0a0a"/>
<rect x="470.5" y="674.2" width="362" height="1.7" fill="#f1f1f1"/>
<rect x="884" y="674.2" width="285" height="1.7" fill="#f1f1f1"/>
<text x="6.9" y="26.9" font-size="27.2" textLength="27.0" lengthAdjust="spacingAndGlyphs">A)</text>
<text x="887.3" y="26.8" font-size="27.2" textLength="25.7" lengthAdjust="spacingAndGlyphs">B)</text>
<text x="601.5" y="758.2" font-size="27.5">C)</text>
<text transform="translate(22.7 409.2) scale(1 0.97)" x="0" y="0" font-size="27.3" word-spacing="1.6">Grain yield (t/ha)</text>
<rect x="22.7" y="424.2" width="34.9" height="17.2" fill="#f8211a"/>
<text x="63.0" y="439.0" font-size="27.5">3.416 - 6.196</text>
<rect x="22.7" y="452.4" width="34.9" height="16.7" fill="#fc9510"/>
<text x="62.6" y="468.6" font-size="27.5">6.197 - 6.364</text>
<rect x="22.7" y="480.1" width="34.9" height="16.3" fill="#f5d321"/>
<text x="61.4" y="496.0" font-size="27.5">6.365 - 6.499</text>
<rect x="22.7" y="508.1" width="34.9" height="17.8" fill="#c9f62c"/>
<text x="61.4" y="525.0" font-size="27.5">6.500 - 6.600</text>
<rect x="22.7" y="536.2" width="34.9" height="17.2" fill="#72f224"/>
<text x="61.4" y="551.9" font-size="27.5">6.601 - 6.718</text>
<rect x="22.7" y="564.8" width="34.9" height="17.0" fill="#12ec28"/>
<text x="61.4" y="580.1" font-size="27.5">6.719 - 7.712</text>
<text transform="translate(896.4 406.0) scale(1 0.97)" x="0" y="0" font-size="27.3" word-spacing="1.6">Grain yield (t/ha)</text>
<rect x="902.4" y="424.3" width="34.2" height="16.8" fill="#f8211a"/>
<text x="942.3" y="441.2" font-size="27.5">0.001 - 6.210</text>
<rect x="902.4" y="452.5" width="34.2" height="16.6" fill="#fc9510"/>
<text x="943.4" y="468.2" font-size="27.5">6.211 - 6.392</text>
<rect x="902.4" y="480.0" width="34.2" height="16.3" fill="#f5d321"/>
<text x="943.8" y="497.6" font-size="27.5">6.393 - 6.483</text>
<rect x="902.4" y="507.8" width="34.2" height="17.4" fill="#c9f62c"/>
<text x="944.0" y="525.1" font-size="27.5">6.484 - 6.665</text>
<rect x="902.4" y="536.5" width="34.2" height="16.8" fill="#72f224"/>
<text x="944.0" y="552.7" font-size="27.5">6.666 - 6.816</text>
<rect x="902.4" y="565.1" width="34.2" height="16.7" fill="#12ec28"/>
<text x="944.0" y="583.4" font-size="27.5">6.817 - 7.725</text>
<rect x="718.65" y="734.5" width="103.20000000000005" height="213.71" fill="#c0c0c0" stroke="#1c1c1c" stroke-width="1.5"/>
<rect x="769.3000000000001" y="947.71" width="1.6" height="83.01" fill="#2a2a2a"/>
<rect x="764.4" y="1029.93" width="11.4" height="1.6" fill="#2a2a2a"/>
<rect x="890.95" y="734.5" width="102.89999999999998" height="57.24" fill="#c0c0c0" stroke="#1c1c1c" stroke-width="1.5"/>
<rect x="891.7" y="790.99" width="101.39999999999998" height="1.5" fill="#858585"/>
<rect x="941.3000000000001" y="791.24" width="1.6" height="61.46" fill="#2a2a2a"/>
<rect x="936.5" y="851.90" width="11.2" height="1.6" fill="#2a2a2a"/>
<rect x="597.2" y="733.6" width="518.1" height="1.8" fill="#2b2b2b"/>
<rect x="597.2" y="733.6" width="1.8" height="362.6" fill="#2b2b2b"/>
<rect x="1113.6" y="733.6" width="1.7" height="362.6" fill="#2b2b2b"/>
<rect x="591.8" y="1094.8" width="523.5" height="1.4" fill="#555"/>
<rect x="591.6" y="733.70" width="6" height="1.6" fill="#4a4a4a"/>
<text transform="translate(586.3 746.4) scale(1 1.08)" x="0" y="0" font-size="27.5" text-anchor="end">0</text>
<rect x="591.6" y="785.00" width="6" height="1.6" fill="#7d7d7d"/>
<text transform="translate(586.7 795.0) scale(1 1.08)" x="0" y="0" font-size="27.5" text-anchor="end">-5</text>
<rect x="591.6" y="836.00" width="6" height="1.6" fill="#7d7d7d"/>
<text transform="translate(589.3 845.7) scale(1 1.08)" x="0" y="0" font-size="27.5" text-anchor="end">-10</text>
<rect x="591.6" y="888.00" width="6" height="1.6" fill="#7d7d7d"/>
<text transform="translate(589.0 896.1) scale(1 1.08)" x="0" y="0" font-size="27.5" text-anchor="end">-15</text>
<rect x="591.6" y="939.40" width="6" height="1.6" fill="#7d7d7d"/>
<text transform="translate(588.1 947.3) scale(1 1.08)" x="0" y="0" font-size="27.5" text-anchor="end">-20</text>
<rect x="591.6" y="991.20" width="6" height="1.6" fill="#7d7d7d"/>
<text transform="translate(589.0 1000.7) scale(1 1.08)" x="0" y="0" font-size="27.5" text-anchor="end">-25</text>
<rect x="591.6" y="1043.10" width="6" height="1.6" fill="#7d7d7d"/>
<text transform="translate(590.7 1052.5) scale(1 1.08)" x="0" y="0" font-size="27.5" text-anchor="end">-30</text>
<rect x="591.6" y="1094.70" width="6" height="1.6" fill="#4a4a4a"/>
<text transform="translate(590.4 1103.3) scale(1 1.08)" x="0" y="0" font-size="27.5" text-anchor="end">-35</text>
<rect x="769.3000000000001" y="1095" width="1.6" height="6" fill="#2b2b2b"/>
<rect x="941.3000000000001" y="1095" width="1.6" height="6" fill="#2b2b2b"/>
<text x="770.3" y="1126.8" font-size="27.5" text-anchor="middle">SSP5-8.5</text>
<text x="943.8" y="1126.8" font-size="27.5" text-anchor="middle">SSP2-4.5</text>
<text x="634.6" y="1160.3" font-size="27.5" textLength="482" lengthAdjust="spacingAndGlyphs">Shared socioeconomic pathway scenarios</text>
<text transform="translate(546.8 1187.5) rotate(-90)" x="0" y="0" font-size="27.5" textLength="495.5" lengthAdjust="spacingAndGlyphs">Yield change relative to current yield (%)</text>
</svg>
</body>
</html>
